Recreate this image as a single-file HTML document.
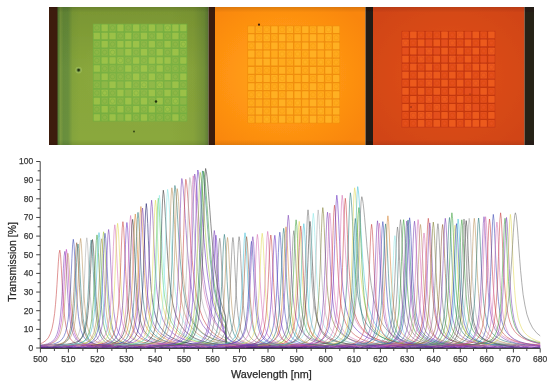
<!DOCTYPE html>
<html><head><meta charset="utf-8"><style>
html,body{margin:0;padding:0;background:#fff;}
body{width:550px;height:387px;position:relative;overflow:hidden;}
.photo{position:absolute;left:49px;top:7px;display:block;}
.chart{position:absolute;left:0;top:147px;display:block;}
</style></head><body>
<svg class="photo" width="485" height="138" viewBox="49 7 485 138">
<defs>
<linearGradient id="gG" x1="0" x2="1" y1="0" y2="0">
 <stop offset="0" stop-color="#4c7632"/><stop offset="0.02" stop-color="#7a9a40"/><stop offset="0.04" stop-color="#688e3c"/><stop offset="0.07" stop-color="#6a903e"/>
 <stop offset="0.1" stop-color="#84a43c"/><stop offset="0.15" stop-color="#8aa83c"/><stop offset="0.75" stop-color="#8aa83c"/>
 <stop offset="0.9" stop-color="#86a23a"/><stop offset="0.97" stop-color="#74923a"/><stop offset="1" stop-color="#5e7a36"/></linearGradient>
<linearGradient id="gGv" x1="0" x2="0" y1="0" y2="1">
 <stop offset="0" stop-color="#203000" stop-opacity="0.16"/><stop offset="0.45" stop-color="#203000" stop-opacity="0.02"/><stop offset="1" stop-color="#203000" stop-opacity="0"/></linearGradient>
<radialGradient id="gGr" cx="0.5" cy="0.5" r="0.5">
 <stop offset="0" stop-color="#d8f080" stop-opacity="0.08"/><stop offset="1" stop-color="#d8f080" stop-opacity="0"/></radialGradient>
<filter id="bl" x="-0.01" y="-0.01" width="1.02" height="1.02"><feGaussianBlur stdDeviation="0.7"/></filter>
<radialGradient id="gO" cx="0.45" cy="0.5" r="0.65">
 <stop offset="0" stop-color="#ffa818"/><stop offset="0.55" stop-color="#ff9512"/><stop offset="1" stop-color="#f9860e"/></radialGradient>
<radialGradient id="gR" cx="0.5" cy="0.5" r="0.65">
 <stop offset="0" stop-color="#e2521a"/><stop offset="1" stop-color="#d04414"/></radialGradient>
<linearGradient id="vt" x1="0" x2="0" y1="0" y2="1">
 <stop offset="0" stop-color="#000" stop-opacity="0.12"/><stop offset="0.04" stop-color="#000" stop-opacity="0"/>
 <stop offset="0.96" stop-color="#000" stop-opacity="0"/><stop offset="1" stop-color="#000" stop-opacity="0.1"/></linearGradient>
</defs>
<g filter="url(#bl)">
<rect x="49" y="7" width="9" height="138" fill="#3e1c0e"/>
<rect x="57.5" y="7" width="151" height="138" fill="url(#gG)"/>
<rect x="57.5" y="7" width="151" height="138" fill="url(#gGv)"/>
<rect x="208.5" y="7" width="6.5" height="138" fill="#3a1c0e"/>
<rect x="215" y="7" width="150.5" height="138" fill="url(#gO)"/>
<rect x="365.5" y="7" width="7.5" height="138" fill="#231a12"/>
<rect x="373" y="7" width="151.5" height="138" fill="url(#gR)"/>
<rect x="524.5" y="7" width="9.5" height="138" fill="#282016"/>
<rect x="92.90" y="23.80" width="94.32" height="97.68" fill="#76ae40"/>
<rect x="93.70" y="24.60" width="6.26" height="6.54" rx="0.6" fill="#8cb644"/>
<circle cx="96.83" cy="27.87" r="2.2" fill="none" stroke="#70aa3e" stroke-width="0.8" opacity="0.55"/>
<rect x="101.56" y="24.60" width="6.26" height="6.54" rx="0.6" fill="#9ac046"/>
<rect x="109.42" y="24.60" width="6.26" height="6.54" rx="0.6" fill="#8cb644"/>
<circle cx="112.55" cy="27.87" r="2.2" fill="none" stroke="#70aa3e" stroke-width="0.8" opacity="0.55"/>
<rect x="117.28" y="24.60" width="6.26" height="6.54" rx="0.6" fill="#9ac046"/>
<rect x="125.14" y="24.60" width="6.26" height="6.54" rx="0.6" fill="#8cb644"/>
<circle cx="128.27" cy="27.87" r="2.2" fill="none" stroke="#70aa3e" stroke-width="0.8" opacity="0.55"/>
<rect x="133.00" y="24.60" width="6.26" height="6.54" rx="0.6" fill="#9ac046"/>
<rect x="140.86" y="24.60" width="6.26" height="6.54" rx="0.6" fill="#8cb644"/>
<circle cx="143.99" cy="27.87" r="2.2" fill="none" stroke="#70aa3e" stroke-width="0.8" opacity="0.55"/>
<rect x="148.72" y="24.60" width="6.26" height="6.54" rx="0.6" fill="#9ac046"/>
<rect x="156.58" y="24.60" width="6.26" height="6.54" rx="0.6" fill="#8cb644"/>
<rect x="164.44" y="24.60" width="6.26" height="6.54" rx="0.6" fill="#9ac046"/>
<circle cx="167.57" cy="27.87" r="2.2" fill="none" stroke="#70aa3e" stroke-width="0.8" opacity="0.55"/>
<rect x="172.30" y="24.60" width="6.26" height="6.54" rx="0.6" fill="#9ac046"/>
<rect x="180.16" y="24.60" width="6.26" height="6.54" rx="0.6" fill="#9ac046"/>
<rect x="93.70" y="32.74" width="6.26" height="6.54" rx="0.6" fill="#9ac046"/>
<rect x="101.56" y="32.74" width="6.26" height="6.54" rx="0.6" fill="#9ac046"/>
<rect x="109.42" y="32.74" width="6.26" height="6.54" rx="0.6" fill="#9ac046"/>
<rect x="117.28" y="32.74" width="6.26" height="6.54" rx="0.6" fill="#8cb644"/>
<circle cx="120.41" cy="36.01" r="2.2" fill="none" stroke="#70aa3e" stroke-width="0.8" opacity="0.55"/>
<rect x="125.14" y="32.74" width="6.26" height="6.54" rx="0.6" fill="#9ac046"/>
<rect x="133.00" y="32.74" width="6.26" height="6.54" rx="0.6" fill="#8cb644"/>
<circle cx="136.13" cy="36.01" r="2.2" fill="none" stroke="#70aa3e" stroke-width="0.8" opacity="0.55"/>
<rect x="140.86" y="32.74" width="6.26" height="6.54" rx="0.6" fill="#9ac046"/>
<rect x="148.72" y="32.74" width="6.26" height="6.54" rx="0.6" fill="#8cb644"/>
<circle cx="151.85" cy="36.01" r="2.2" fill="none" stroke="#70aa3e" stroke-width="0.8" opacity="0.55"/>
<rect x="156.58" y="32.74" width="6.26" height="6.54" rx="0.6" fill="#9ac046"/>
<rect x="164.44" y="32.74" width="6.26" height="6.54" rx="0.6" fill="#8cb644"/>
<circle cx="167.57" cy="36.01" r="2.2" fill="none" stroke="#70aa3e" stroke-width="0.8" opacity="0.55"/>
<rect x="172.30" y="32.74" width="6.26" height="6.54" rx="0.6" fill="#9ac046"/>
<rect x="180.16" y="32.74" width="6.26" height="6.54" rx="0.6" fill="#8cb644"/>
<circle cx="183.29" cy="36.01" r="2.2" fill="none" stroke="#70aa3e" stroke-width="0.8" opacity="0.55"/>
<rect x="93.70" y="40.88" width="6.26" height="6.54" rx="0.6" fill="#8cb644"/>
<circle cx="96.83" cy="44.15" r="2.2" fill="none" stroke="#70aa3e" stroke-width="0.8" opacity="0.55"/>
<rect x="101.56" y="40.88" width="6.26" height="6.54" rx="0.6" fill="#9ac046"/>
<rect x="109.42" y="40.88" width="6.26" height="6.54" rx="0.6" fill="#8cb644"/>
<circle cx="112.55" cy="44.15" r="2.2" fill="none" stroke="#70aa3e" stroke-width="0.8" opacity="0.55"/>
<rect x="117.28" y="40.88" width="6.26" height="6.54" rx="0.6" fill="#9ac046"/>
<rect x="125.14" y="40.88" width="6.26" height="6.54" rx="0.6" fill="#9ac046"/>
<rect x="133.00" y="40.88" width="6.26" height="6.54" rx="0.6" fill="#9ac046"/>
<rect x="140.86" y="40.88" width="6.26" height="6.54" rx="0.6" fill="#8cb644"/>
<circle cx="143.99" cy="44.15" r="2.2" fill="none" stroke="#70aa3e" stroke-width="0.8" opacity="0.55"/>
<rect x="148.72" y="40.88" width="6.26" height="6.54" rx="0.6" fill="#9ac046"/>
<rect x="156.58" y="40.88" width="6.26" height="6.54" rx="0.6" fill="#8cb644"/>
<circle cx="159.71" cy="44.15" r="2.2" fill="none" stroke="#70aa3e" stroke-width="0.8" opacity="0.55"/>
<rect x="164.44" y="40.88" width="6.26" height="6.54" rx="0.6" fill="#9ac046"/>
<rect x="172.30" y="40.88" width="6.26" height="6.54" rx="0.6" fill="#8cb644"/>
<circle cx="175.43" cy="44.15" r="2.2" fill="none" stroke="#70aa3e" stroke-width="0.8" opacity="0.55"/>
<rect x="180.16" y="40.88" width="6.26" height="6.54" rx="0.6" fill="#9ac046"/>
<circle cx="183.29" cy="44.15" r="2.2" fill="none" stroke="#70aa3e" stroke-width="0.8" opacity="0.55"/>
<rect x="93.70" y="49.02" width="6.26" height="6.54" rx="0.6" fill="#8cb644"/>
<circle cx="96.83" cy="52.29" r="2.2" fill="none" stroke="#70aa3e" stroke-width="0.8" opacity="0.55"/>
<rect x="101.56" y="49.02" width="6.26" height="6.54" rx="0.6" fill="#8cb644"/>
<circle cx="104.69" cy="52.29" r="2.2" fill="none" stroke="#70aa3e" stroke-width="0.8" opacity="0.55"/>
<rect x="109.42" y="49.02" width="6.26" height="6.54" rx="0.6" fill="#9ac046"/>
<circle cx="112.55" cy="52.29" r="2.2" fill="none" stroke="#70aa3e" stroke-width="0.8" opacity="0.55"/>
<rect x="117.28" y="49.02" width="6.26" height="6.54" rx="0.6" fill="#8cb644"/>
<rect x="125.14" y="49.02" width="6.26" height="6.54" rx="0.6" fill="#9ac046"/>
<rect x="133.00" y="49.02" width="6.26" height="6.54" rx="0.6" fill="#8cb644"/>
<circle cx="136.13" cy="52.29" r="2.2" fill="none" stroke="#70aa3e" stroke-width="0.8" opacity="0.55"/>
<rect x="140.86" y="49.02" width="6.26" height="6.54" rx="0.6" fill="#9ac046"/>
<rect x="148.72" y="49.02" width="6.26" height="6.54" rx="0.6" fill="#8cb644"/>
<circle cx="151.85" cy="52.29" r="2.2" fill="none" stroke="#70aa3e" stroke-width="0.8" opacity="0.55"/>
<rect x="156.58" y="49.02" width="6.26" height="6.54" rx="0.6" fill="#9ac046"/>
<rect x="164.44" y="49.02" width="6.26" height="6.54" rx="0.6" fill="#8cb644"/>
<circle cx="167.57" cy="52.29" r="2.2" fill="none" stroke="#70aa3e" stroke-width="0.8" opacity="0.55"/>
<rect x="172.30" y="49.02" width="6.26" height="6.54" rx="0.6" fill="#9ac046"/>
<rect x="180.16" y="49.02" width="6.26" height="6.54" rx="0.6" fill="#8cb644"/>
<circle cx="183.29" cy="52.29" r="2.2" fill="none" stroke="#70aa3e" stroke-width="0.8" opacity="0.55"/>
<rect x="93.70" y="57.16" width="6.26" height="6.54" rx="0.6" fill="#8cb644"/>
<circle cx="96.83" cy="60.43" r="2.2" fill="none" stroke="#70aa3e" stroke-width="0.8" opacity="0.55"/>
<rect x="101.56" y="57.16" width="6.26" height="6.54" rx="0.6" fill="#9ac046"/>
<rect x="109.42" y="57.16" width="6.26" height="6.54" rx="0.6" fill="#9ac046"/>
<rect x="117.28" y="57.16" width="6.26" height="6.54" rx="0.6" fill="#9ac046"/>
<circle cx="120.41" cy="60.43" r="2.2" fill="none" stroke="#70aa3e" stroke-width="0.8" opacity="0.55"/>
<rect x="125.14" y="57.16" width="6.26" height="6.54" rx="0.6" fill="#8cb644"/>
<circle cx="128.27" cy="60.43" r="2.2" fill="none" stroke="#70aa3e" stroke-width="0.8" opacity="0.55"/>
<rect x="133.00" y="57.16" width="6.26" height="6.54" rx="0.6" fill="#9ac046"/>
<rect x="140.86" y="57.16" width="6.26" height="6.54" rx="0.6" fill="#8cb644"/>
<circle cx="143.99" cy="60.43" r="2.2" fill="none" stroke="#70aa3e" stroke-width="0.8" opacity="0.55"/>
<rect x="148.72" y="57.16" width="6.26" height="6.54" rx="0.6" fill="#9ac046"/>
<rect x="156.58" y="57.16" width="6.26" height="6.54" rx="0.6" fill="#9ac046"/>
<rect x="164.44" y="57.16" width="6.26" height="6.54" rx="0.6" fill="#9ac046"/>
<rect x="172.30" y="57.16" width="6.26" height="6.54" rx="0.6" fill="#8cb644"/>
<circle cx="175.43" cy="60.43" r="2.2" fill="none" stroke="#70aa3e" stroke-width="0.8" opacity="0.55"/>
<rect x="180.16" y="57.16" width="6.26" height="6.54" rx="0.6" fill="#9ac046"/>
<rect x="93.70" y="65.30" width="6.26" height="6.54" rx="0.6" fill="#9ac046"/>
<rect x="101.56" y="65.30" width="6.26" height="6.54" rx="0.6" fill="#8cb644"/>
<circle cx="104.69" cy="68.57" r="2.2" fill="none" stroke="#70aa3e" stroke-width="0.8" opacity="0.55"/>
<rect x="109.42" y="65.30" width="6.26" height="6.54" rx="0.6" fill="#8cb644"/>
<circle cx="112.55" cy="68.57" r="2.2" fill="none" stroke="#70aa3e" stroke-width="0.8" opacity="0.55"/>
<rect x="117.28" y="65.30" width="6.26" height="6.54" rx="0.6" fill="#8cb644"/>
<circle cx="120.41" cy="68.57" r="2.2" fill="none" stroke="#70aa3e" stroke-width="0.8" opacity="0.55"/>
<rect x="125.14" y="65.30" width="6.26" height="6.54" rx="0.6" fill="#9ac046"/>
<rect x="133.00" y="65.30" width="6.26" height="6.54" rx="0.6" fill="#8cb644"/>
<circle cx="136.13" cy="68.57" r="2.2" fill="none" stroke="#70aa3e" stroke-width="0.8" opacity="0.55"/>
<rect x="140.86" y="65.30" width="6.26" height="6.54" rx="0.6" fill="#9ac046"/>
<rect x="148.72" y="65.30" width="6.26" height="6.54" rx="0.6" fill="#8cb644"/>
<circle cx="151.85" cy="68.57" r="2.2" fill="none" stroke="#70aa3e" stroke-width="0.8" opacity="0.55"/>
<rect x="156.58" y="65.30" width="6.26" height="6.54" rx="0.6" fill="#9ac046"/>
<rect x="164.44" y="65.30" width="6.26" height="6.54" rx="0.6" fill="#8cb644"/>
<circle cx="167.57" cy="68.57" r="2.2" fill="none" stroke="#70aa3e" stroke-width="0.8" opacity="0.55"/>
<rect x="172.30" y="65.30" width="6.26" height="6.54" rx="0.6" fill="#8cb644"/>
<circle cx="175.43" cy="68.57" r="2.2" fill="none" stroke="#70aa3e" stroke-width="0.8" opacity="0.55"/>
<rect x="180.16" y="65.30" width="6.26" height="6.54" rx="0.6" fill="#8cb644"/>
<circle cx="183.29" cy="68.57" r="2.2" fill="none" stroke="#70aa3e" stroke-width="0.8" opacity="0.55"/>
<rect x="93.70" y="73.44" width="6.26" height="6.54" rx="0.6" fill="#8cb644"/>
<rect x="101.56" y="73.44" width="6.26" height="6.54" rx="0.6" fill="#9ac046"/>
<rect x="109.42" y="73.44" width="6.26" height="6.54" rx="0.6" fill="#8cb644"/>
<circle cx="112.55" cy="76.71" r="2.2" fill="none" stroke="#70aa3e" stroke-width="0.8" opacity="0.55"/>
<rect x="117.28" y="73.44" width="6.26" height="6.54" rx="0.6" fill="#8cb644"/>
<circle cx="120.41" cy="76.71" r="2.2" fill="none" stroke="#70aa3e" stroke-width="0.8" opacity="0.55"/>
<rect x="125.14" y="73.44" width="6.26" height="6.54" rx="0.6" fill="#8cb644"/>
<circle cx="128.27" cy="76.71" r="2.2" fill="none" stroke="#70aa3e" stroke-width="0.8" opacity="0.55"/>
<rect x="133.00" y="73.44" width="6.26" height="6.54" rx="0.6" fill="#9ac046"/>
<rect x="140.86" y="73.44" width="6.26" height="6.54" rx="0.6" fill="#8cb644"/>
<circle cx="143.99" cy="76.71" r="2.2" fill="none" stroke="#70aa3e" stroke-width="0.8" opacity="0.55"/>
<rect x="148.72" y="73.44" width="6.26" height="6.54" rx="0.6" fill="#9ac046"/>
<rect x="156.58" y="73.44" width="6.26" height="6.54" rx="0.6" fill="#8cb644"/>
<circle cx="159.71" cy="76.71" r="2.2" fill="none" stroke="#70aa3e" stroke-width="0.8" opacity="0.55"/>
<rect x="164.44" y="73.44" width="6.26" height="6.54" rx="0.6" fill="#9ac046"/>
<rect x="172.30" y="73.44" width="6.26" height="6.54" rx="0.6" fill="#8cb644"/>
<circle cx="175.43" cy="76.71" r="2.2" fill="none" stroke="#70aa3e" stroke-width="0.8" opacity="0.55"/>
<rect x="180.16" y="73.44" width="6.26" height="6.54" rx="0.6" fill="#9ac046"/>
<rect x="93.70" y="81.58" width="6.26" height="6.54" rx="0.6" fill="#8cb644"/>
<circle cx="96.83" cy="84.85" r="2.2" fill="none" stroke="#70aa3e" stroke-width="0.8" opacity="0.55"/>
<rect x="101.56" y="81.58" width="6.26" height="6.54" rx="0.6" fill="#8cb644"/>
<rect x="109.42" y="81.58" width="6.26" height="6.54" rx="0.6" fill="#9ac046"/>
<rect x="117.28" y="81.58" width="6.26" height="6.54" rx="0.6" fill="#8cb644"/>
<rect x="125.14" y="81.58" width="6.26" height="6.54" rx="0.6" fill="#9ac046"/>
<rect x="133.00" y="81.58" width="6.26" height="6.54" rx="0.6" fill="#8cb644"/>
<circle cx="136.13" cy="84.85" r="2.2" fill="none" stroke="#70aa3e" stroke-width="0.8" opacity="0.55"/>
<rect x="140.86" y="81.58" width="6.26" height="6.54" rx="0.6" fill="#9ac046"/>
<circle cx="143.99" cy="84.85" r="2.2" fill="none" stroke="#70aa3e" stroke-width="0.8" opacity="0.55"/>
<rect x="148.72" y="81.58" width="6.26" height="6.54" rx="0.6" fill="#8cb644"/>
<rect x="156.58" y="81.58" width="6.26" height="6.54" rx="0.6" fill="#9ac046"/>
<circle cx="159.71" cy="84.85" r="2.2" fill="none" stroke="#70aa3e" stroke-width="0.8" opacity="0.55"/>
<rect x="164.44" y="81.58" width="6.26" height="6.54" rx="0.6" fill="#8cb644"/>
<rect x="172.30" y="81.58" width="6.26" height="6.54" rx="0.6" fill="#9ac046"/>
<rect x="180.16" y="81.58" width="6.26" height="6.54" rx="0.6" fill="#8cb644"/>
<circle cx="183.29" cy="84.85" r="2.2" fill="none" stroke="#70aa3e" stroke-width="0.8" opacity="0.55"/>
<rect x="93.70" y="89.72" width="6.26" height="6.54" rx="0.6" fill="#8cb644"/>
<circle cx="96.83" cy="92.99" r="2.2" fill="none" stroke="#70aa3e" stroke-width="0.8" opacity="0.55"/>
<rect x="101.56" y="89.72" width="6.26" height="6.54" rx="0.6" fill="#9ac046"/>
<circle cx="104.69" cy="92.99" r="2.2" fill="none" stroke="#70aa3e" stroke-width="0.8" opacity="0.55"/>
<rect x="109.42" y="89.72" width="6.26" height="6.54" rx="0.6" fill="#8cb644"/>
<circle cx="112.55" cy="92.99" r="2.2" fill="none" stroke="#70aa3e" stroke-width="0.8" opacity="0.55"/>
<rect x="117.28" y="89.72" width="6.26" height="6.54" rx="0.6" fill="#9ac046"/>
<rect x="125.14" y="89.72" width="6.26" height="6.54" rx="0.6" fill="#8cb644"/>
<rect x="133.00" y="89.72" width="6.26" height="6.54" rx="0.6" fill="#9ac046"/>
<circle cx="136.13" cy="92.99" r="2.2" fill="none" stroke="#70aa3e" stroke-width="0.8" opacity="0.55"/>
<rect x="140.86" y="89.72" width="6.26" height="6.54" rx="0.6" fill="#8cb644"/>
<circle cx="143.99" cy="92.99" r="2.2" fill="none" stroke="#70aa3e" stroke-width="0.8" opacity="0.55"/>
<rect x="148.72" y="89.72" width="6.26" height="6.54" rx="0.6" fill="#9ac046"/>
<rect x="156.58" y="89.72" width="6.26" height="6.54" rx="0.6" fill="#8cb644"/>
<circle cx="159.71" cy="92.99" r="2.2" fill="none" stroke="#70aa3e" stroke-width="0.8" opacity="0.55"/>
<rect x="164.44" y="89.72" width="6.26" height="6.54" rx="0.6" fill="#9ac046"/>
<rect x="172.30" y="89.72" width="6.26" height="6.54" rx="0.6" fill="#8cb644"/>
<circle cx="175.43" cy="92.99" r="2.2" fill="none" stroke="#70aa3e" stroke-width="0.8" opacity="0.55"/>
<rect x="180.16" y="89.72" width="6.26" height="6.54" rx="0.6" fill="#9ac046"/>
<rect x="93.70" y="97.86" width="6.26" height="6.54" rx="0.6" fill="#9ac046"/>
<rect x="101.56" y="97.86" width="6.26" height="6.54" rx="0.6" fill="#8cb644"/>
<circle cx="104.69" cy="101.13" r="2.2" fill="none" stroke="#70aa3e" stroke-width="0.8" opacity="0.55"/>
<rect x="109.42" y="97.86" width="6.26" height="6.54" rx="0.6" fill="#9ac046"/>
<circle cx="112.55" cy="101.13" r="2.2" fill="none" stroke="#70aa3e" stroke-width="0.8" opacity="0.55"/>
<rect x="117.28" y="97.86" width="6.26" height="6.54" rx="0.6" fill="#8cb644"/>
<circle cx="120.41" cy="101.13" r="2.2" fill="none" stroke="#70aa3e" stroke-width="0.8" opacity="0.55"/>
<rect x="125.14" y="97.86" width="6.26" height="6.54" rx="0.6" fill="#9ac046"/>
<rect x="133.00" y="97.86" width="6.26" height="6.54" rx="0.6" fill="#8cb644"/>
<circle cx="136.13" cy="101.13" r="2.2" fill="none" stroke="#70aa3e" stroke-width="0.8" opacity="0.55"/>
<rect x="140.86" y="97.86" width="6.26" height="6.54" rx="0.6" fill="#9ac046"/>
<rect x="148.72" y="97.86" width="6.26" height="6.54" rx="0.6" fill="#8cb644"/>
<circle cx="151.85" cy="101.13" r="2.2" fill="none" stroke="#70aa3e" stroke-width="0.8" opacity="0.55"/>
<rect x="156.58" y="97.86" width="6.26" height="6.54" rx="0.6" fill="#9ac046"/>
<rect x="164.44" y="97.86" width="6.26" height="6.54" rx="0.6" fill="#8cb644"/>
<circle cx="167.57" cy="101.13" r="2.2" fill="none" stroke="#70aa3e" stroke-width="0.8" opacity="0.55"/>
<rect x="172.30" y="97.86" width="6.26" height="6.54" rx="0.6" fill="#9ac046"/>
<circle cx="175.43" cy="101.13" r="2.2" fill="none" stroke="#70aa3e" stroke-width="0.8" opacity="0.55"/>
<rect x="180.16" y="97.86" width="6.26" height="6.54" rx="0.6" fill="#8cb644"/>
<rect x="93.70" y="106.00" width="6.26" height="6.54" rx="0.6" fill="#8cb644"/>
<circle cx="96.83" cy="109.27" r="2.2" fill="none" stroke="#70aa3e" stroke-width="0.8" opacity="0.55"/>
<rect x="101.56" y="106.00" width="6.26" height="6.54" rx="0.6" fill="#9ac046"/>
<rect x="109.42" y="106.00" width="6.26" height="6.54" rx="0.6" fill="#8cb644"/>
<circle cx="112.55" cy="109.27" r="2.2" fill="none" stroke="#70aa3e" stroke-width="0.8" opacity="0.55"/>
<rect x="117.28" y="106.00" width="6.26" height="6.54" rx="0.6" fill="#9ac046"/>
<rect x="125.14" y="106.00" width="6.26" height="6.54" rx="0.6" fill="#8cb644"/>
<circle cx="128.27" cy="109.27" r="2.2" fill="none" stroke="#70aa3e" stroke-width="0.8" opacity="0.55"/>
<rect x="133.00" y="106.00" width="6.26" height="6.54" rx="0.6" fill="#9ac046"/>
<rect x="140.86" y="106.00" width="6.26" height="6.54" rx="0.6" fill="#8cb644"/>
<circle cx="143.99" cy="109.27" r="2.2" fill="none" stroke="#70aa3e" stroke-width="0.8" opacity="0.55"/>
<rect x="148.72" y="106.00" width="6.26" height="6.54" rx="0.6" fill="#9ac046"/>
<rect x="156.58" y="106.00" width="6.26" height="6.54" rx="0.6" fill="#8cb644"/>
<circle cx="159.71" cy="109.27" r="2.2" fill="none" stroke="#70aa3e" stroke-width="0.8" opacity="0.55"/>
<rect x="164.44" y="106.00" width="6.26" height="6.54" rx="0.6" fill="#9ac046"/>
<circle cx="167.57" cy="109.27" r="2.2" fill="none" stroke="#70aa3e" stroke-width="0.8" opacity="0.55"/>
<rect x="172.30" y="106.00" width="6.26" height="6.54" rx="0.6" fill="#8cb644"/>
<rect x="180.16" y="106.00" width="6.26" height="6.54" rx="0.6" fill="#8cb644"/>
<circle cx="183.29" cy="109.27" r="2.2" fill="none" stroke="#70aa3e" stroke-width="0.8" opacity="0.55"/>
<rect x="93.70" y="114.14" width="6.26" height="6.54" rx="0.6" fill="#9ac046"/>
<rect x="101.56" y="114.14" width="6.26" height="6.54" rx="0.6" fill="#8cb644"/>
<circle cx="104.69" cy="117.41" r="2.2" fill="none" stroke="#70aa3e" stroke-width="0.8" opacity="0.55"/>
<rect x="109.42" y="114.14" width="6.26" height="6.54" rx="0.6" fill="#9ac046"/>
<rect x="117.28" y="114.14" width="6.26" height="6.54" rx="0.6" fill="#8cb644"/>
<rect x="125.14" y="114.14" width="6.26" height="6.54" rx="0.6" fill="#9ac046"/>
<rect x="133.00" y="114.14" width="6.26" height="6.54" rx="0.6" fill="#8cb644"/>
<circle cx="136.13" cy="117.41" r="2.2" fill="none" stroke="#70aa3e" stroke-width="0.8" opacity="0.55"/>
<rect x="140.86" y="114.14" width="6.26" height="6.54" rx="0.6" fill="#9ac046"/>
<rect x="148.72" y="114.14" width="6.26" height="6.54" rx="0.6" fill="#8cb644"/>
<circle cx="151.85" cy="117.41" r="2.2" fill="none" stroke="#70aa3e" stroke-width="0.8" opacity="0.55"/>
<rect x="156.58" y="114.14" width="6.26" height="6.54" rx="0.6" fill="#8cb644"/>
<circle cx="159.71" cy="117.41" r="2.2" fill="none" stroke="#70aa3e" stroke-width="0.8" opacity="0.55"/>
<rect x="164.44" y="114.14" width="6.26" height="6.54" rx="0.6" fill="#8cb644"/>
<circle cx="167.57" cy="117.41" r="2.2" fill="none" stroke="#70aa3e" stroke-width="0.8" opacity="0.55"/>
<rect x="172.30" y="114.14" width="6.26" height="6.54" rx="0.6" fill="#9ac046"/>
<rect x="180.16" y="114.14" width="6.26" height="6.54" rx="0.6" fill="#8cb644"/>
<circle cx="183.29" cy="117.41" r="2.2" fill="none" stroke="#70aa3e" stroke-width="0.8" opacity="0.55"/>
<rect x="80" y="15" width="120" height="115" fill="url(#gGr)"/>
<rect x="247.40" y="25.50" width="92.64" height="97.80" fill="#f08e10"/>
<rect x="248.05" y="26.15" width="6.42" height="6.85" rx="0.6" fill="#ffaa1c"/>
<rect x="255.77" y="26.15" width="6.42" height="6.85" rx="0.6" fill="#ffaa1c"/>
<circle cx="258.98" cy="29.57" r="2.2" fill="none" stroke="#f69c14" stroke-width="0.8" opacity="0.55"/>
<rect x="263.49" y="26.15" width="6.42" height="6.85" rx="0.6" fill="#ffaa1c"/>
<circle cx="266.70" cy="29.57" r="2.2" fill="none" stroke="#f69c14" stroke-width="0.8" opacity="0.55"/>
<rect x="271.21" y="26.15" width="6.42" height="6.85" rx="0.6" fill="#ffb020"/>
<rect x="278.93" y="26.15" width="6.42" height="6.85" rx="0.6" fill="#ffaa1c"/>
<circle cx="282.14" cy="29.57" r="2.2" fill="none" stroke="#f69c14" stroke-width="0.8" opacity="0.55"/>
<rect x="286.65" y="26.15" width="6.42" height="6.85" rx="0.6" fill="#ffb020"/>
<circle cx="289.86" cy="29.57" r="2.2" fill="none" stroke="#f69c14" stroke-width="0.8" opacity="0.55"/>
<rect x="294.37" y="26.15" width="6.42" height="6.85" rx="0.6" fill="#ffaa1c"/>
<circle cx="297.58" cy="29.57" r="2.2" fill="none" stroke="#f69c14" stroke-width="0.8" opacity="0.55"/>
<rect x="302.09" y="26.15" width="6.42" height="6.85" rx="0.6" fill="#ffb020"/>
<rect x="309.81" y="26.15" width="6.42" height="6.85" rx="0.6" fill="#ffaa1c"/>
<circle cx="313.02" cy="29.57" r="2.2" fill="none" stroke="#f69c14" stroke-width="0.8" opacity="0.55"/>
<rect x="317.53" y="26.15" width="6.42" height="6.85" rx="0.6" fill="#ffb020"/>
<rect x="325.25" y="26.15" width="6.42" height="6.85" rx="0.6" fill="#ffb020"/>
<circle cx="328.46" cy="29.57" r="2.2" fill="none" stroke="#f69c14" stroke-width="0.8" opacity="0.55"/>
<rect x="332.97" y="26.15" width="6.42" height="6.85" rx="0.6" fill="#ffb020"/>
<rect x="248.05" y="34.30" width="6.42" height="6.85" rx="0.6" fill="#ffb020"/>
<rect x="255.77" y="34.30" width="6.42" height="6.85" rx="0.6" fill="#ffaa1c"/>
<circle cx="258.98" cy="37.73" r="2.2" fill="none" stroke="#f69c14" stroke-width="0.8" opacity="0.55"/>
<rect x="263.49" y="34.30" width="6.42" height="6.85" rx="0.6" fill="#ffb020"/>
<circle cx="266.70" cy="37.73" r="2.2" fill="none" stroke="#f69c14" stroke-width="0.8" opacity="0.55"/>
<rect x="271.21" y="34.30" width="6.42" height="6.85" rx="0.6" fill="#ffaa1c"/>
<circle cx="274.42" cy="37.73" r="2.2" fill="none" stroke="#f69c14" stroke-width="0.8" opacity="0.55"/>
<rect x="278.93" y="34.30" width="6.42" height="6.85" rx="0.6" fill="#ffb020"/>
<rect x="286.65" y="34.30" width="6.42" height="6.85" rx="0.6" fill="#ffaa1c"/>
<circle cx="289.86" cy="37.73" r="2.2" fill="none" stroke="#f69c14" stroke-width="0.8" opacity="0.55"/>
<rect x="294.37" y="34.30" width="6.42" height="6.85" rx="0.6" fill="#ffb020"/>
<rect x="302.09" y="34.30" width="6.42" height="6.85" rx="0.6" fill="#ffaa1c"/>
<rect x="309.81" y="34.30" width="6.42" height="6.85" rx="0.6" fill="#ffb020"/>
<rect x="317.53" y="34.30" width="6.42" height="6.85" rx="0.6" fill="#ffaa1c"/>
<rect x="325.25" y="34.30" width="6.42" height="6.85" rx="0.6" fill="#ffb020"/>
<circle cx="328.46" cy="37.73" r="2.2" fill="none" stroke="#f69c14" stroke-width="0.8" opacity="0.55"/>
<rect x="332.97" y="34.30" width="6.42" height="6.85" rx="0.6" fill="#ffaa1c"/>
<circle cx="336.18" cy="37.73" r="2.2" fill="none" stroke="#f69c14" stroke-width="0.8" opacity="0.55"/>
<rect x="248.05" y="42.45" width="6.42" height="6.85" rx="0.6" fill="#ffaa1c"/>
<circle cx="251.26" cy="45.88" r="2.2" fill="none" stroke="#f69c14" stroke-width="0.8" opacity="0.55"/>
<rect x="255.77" y="42.45" width="6.42" height="6.85" rx="0.6" fill="#ffb020"/>
<rect x="263.49" y="42.45" width="6.42" height="6.85" rx="0.6" fill="#ffaa1c"/>
<circle cx="266.70" cy="45.88" r="2.2" fill="none" stroke="#f69c14" stroke-width="0.8" opacity="0.55"/>
<rect x="271.21" y="42.45" width="6.42" height="6.85" rx="0.6" fill="#ffb020"/>
<rect x="278.93" y="42.45" width="6.42" height="6.85" rx="0.6" fill="#ffaa1c"/>
<circle cx="282.14" cy="45.88" r="2.2" fill="none" stroke="#f69c14" stroke-width="0.8" opacity="0.55"/>
<rect x="286.65" y="42.45" width="6.42" height="6.85" rx="0.6" fill="#ffb020"/>
<rect x="294.37" y="42.45" width="6.42" height="6.85" rx="0.6" fill="#ffaa1c"/>
<circle cx="297.58" cy="45.88" r="2.2" fill="none" stroke="#f69c14" stroke-width="0.8" opacity="0.55"/>
<rect x="302.09" y="42.45" width="6.42" height="6.85" rx="0.6" fill="#ffb020"/>
<rect x="309.81" y="42.45" width="6.42" height="6.85" rx="0.6" fill="#ffaa1c"/>
<circle cx="313.02" cy="45.88" r="2.2" fill="none" stroke="#f69c14" stroke-width="0.8" opacity="0.55"/>
<rect x="317.53" y="42.45" width="6.42" height="6.85" rx="0.6" fill="#ffb020"/>
<rect x="325.25" y="42.45" width="6.42" height="6.85" rx="0.6" fill="#ffaa1c"/>
<circle cx="328.46" cy="45.88" r="2.2" fill="none" stroke="#f69c14" stroke-width="0.8" opacity="0.55"/>
<rect x="332.97" y="42.45" width="6.42" height="6.85" rx="0.6" fill="#ffb020"/>
<rect x="248.05" y="50.60" width="6.42" height="6.85" rx="0.6" fill="#ffb020"/>
<rect x="255.77" y="50.60" width="6.42" height="6.85" rx="0.6" fill="#ffaa1c"/>
<circle cx="258.98" cy="54.03" r="2.2" fill="none" stroke="#f69c14" stroke-width="0.8" opacity="0.55"/>
<rect x="263.49" y="50.60" width="6.42" height="6.85" rx="0.6" fill="#ffb020"/>
<rect x="271.21" y="50.60" width="6.42" height="6.85" rx="0.6" fill="#ffaa1c"/>
<rect x="278.93" y="50.60" width="6.42" height="6.85" rx="0.6" fill="#ffb020"/>
<circle cx="282.14" cy="54.03" r="2.2" fill="none" stroke="#f69c14" stroke-width="0.8" opacity="0.55"/>
<rect x="286.65" y="50.60" width="6.42" height="6.85" rx="0.6" fill="#ffaa1c"/>
<circle cx="289.86" cy="54.03" r="2.2" fill="none" stroke="#f69c14" stroke-width="0.8" opacity="0.55"/>
<rect x="294.37" y="50.60" width="6.42" height="6.85" rx="0.6" fill="#ffb020"/>
<circle cx="297.58" cy="54.03" r="2.2" fill="none" stroke="#f69c14" stroke-width="0.8" opacity="0.55"/>
<rect x="302.09" y="50.60" width="6.42" height="6.85" rx="0.6" fill="#ffaa1c"/>
<circle cx="305.30" cy="54.03" r="2.2" fill="none" stroke="#f69c14" stroke-width="0.8" opacity="0.55"/>
<rect x="309.81" y="50.60" width="6.42" height="6.85" rx="0.6" fill="#ffb020"/>
<rect x="317.53" y="50.60" width="6.42" height="6.85" rx="0.6" fill="#ffaa1c"/>
<rect x="325.25" y="50.60" width="6.42" height="6.85" rx="0.6" fill="#ffb020"/>
<rect x="332.97" y="50.60" width="6.42" height="6.85" rx="0.6" fill="#ffaa1c"/>
<circle cx="336.18" cy="54.03" r="2.2" fill="none" stroke="#f69c14" stroke-width="0.8" opacity="0.55"/>
<rect x="248.05" y="58.75" width="6.42" height="6.85" rx="0.6" fill="#ffaa1c"/>
<rect x="255.77" y="58.75" width="6.42" height="6.85" rx="0.6" fill="#ffb020"/>
<rect x="263.49" y="58.75" width="6.42" height="6.85" rx="0.6" fill="#ffb020"/>
<rect x="271.21" y="58.75" width="6.42" height="6.85" rx="0.6" fill="#ffb020"/>
<rect x="278.93" y="58.75" width="6.42" height="6.85" rx="0.6" fill="#ffaa1c"/>
<rect x="286.65" y="58.75" width="6.42" height="6.85" rx="0.6" fill="#ffaa1c"/>
<circle cx="289.86" cy="62.18" r="2.2" fill="none" stroke="#f69c14" stroke-width="0.8" opacity="0.55"/>
<rect x="294.37" y="58.75" width="6.42" height="6.85" rx="0.6" fill="#ffb020"/>
<rect x="302.09" y="58.75" width="6.42" height="6.85" rx="0.6" fill="#ffb020"/>
<circle cx="305.30" cy="62.18" r="2.2" fill="none" stroke="#f69c14" stroke-width="0.8" opacity="0.55"/>
<rect x="309.81" y="58.75" width="6.42" height="6.85" rx="0.6" fill="#ffaa1c"/>
<circle cx="313.02" cy="62.18" r="2.2" fill="none" stroke="#f69c14" stroke-width="0.8" opacity="0.55"/>
<rect x="317.53" y="58.75" width="6.42" height="6.85" rx="0.6" fill="#ffb020"/>
<circle cx="320.74" cy="62.18" r="2.2" fill="none" stroke="#f69c14" stroke-width="0.8" opacity="0.55"/>
<rect x="325.25" y="58.75" width="6.42" height="6.85" rx="0.6" fill="#ffaa1c"/>
<circle cx="328.46" cy="62.18" r="2.2" fill="none" stroke="#f69c14" stroke-width="0.8" opacity="0.55"/>
<rect x="332.97" y="58.75" width="6.42" height="6.85" rx="0.6" fill="#ffaa1c"/>
<circle cx="336.18" cy="62.18" r="2.2" fill="none" stroke="#f69c14" stroke-width="0.8" opacity="0.55"/>
<rect x="248.05" y="66.90" width="6.42" height="6.85" rx="0.6" fill="#ffb020"/>
<rect x="255.77" y="66.90" width="6.42" height="6.85" rx="0.6" fill="#ffaa1c"/>
<circle cx="258.98" cy="70.33" r="2.2" fill="none" stroke="#f69c14" stroke-width="0.8" opacity="0.55"/>
<rect x="263.49" y="66.90" width="6.42" height="6.85" rx="0.6" fill="#ffaa1c"/>
<circle cx="266.70" cy="70.33" r="2.2" fill="none" stroke="#f69c14" stroke-width="0.8" opacity="0.55"/>
<rect x="271.21" y="66.90" width="6.42" height="6.85" rx="0.6" fill="#ffaa1c"/>
<circle cx="274.42" cy="70.33" r="2.2" fill="none" stroke="#f69c14" stroke-width="0.8" opacity="0.55"/>
<rect x="278.93" y="66.90" width="6.42" height="6.85" rx="0.6" fill="#ffb020"/>
<rect x="286.65" y="66.90" width="6.42" height="6.85" rx="0.6" fill="#ffaa1c"/>
<circle cx="289.86" cy="70.33" r="2.2" fill="none" stroke="#f69c14" stroke-width="0.8" opacity="0.55"/>
<rect x="294.37" y="66.90" width="6.42" height="6.85" rx="0.6" fill="#ffb020"/>
<rect x="302.09" y="66.90" width="6.42" height="6.85" rx="0.6" fill="#ffaa1c"/>
<circle cx="305.30" cy="70.33" r="2.2" fill="none" stroke="#f69c14" stroke-width="0.8" opacity="0.55"/>
<rect x="309.81" y="66.90" width="6.42" height="6.85" rx="0.6" fill="#ffb020"/>
<rect x="317.53" y="66.90" width="6.42" height="6.85" rx="0.6" fill="#ffaa1c"/>
<circle cx="320.74" cy="70.33" r="2.2" fill="none" stroke="#f69c14" stroke-width="0.8" opacity="0.55"/>
<rect x="325.25" y="66.90" width="6.42" height="6.85" rx="0.6" fill="#ffb020"/>
<rect x="332.97" y="66.90" width="6.42" height="6.85" rx="0.6" fill="#ffaa1c"/>
<circle cx="336.18" cy="70.33" r="2.2" fill="none" stroke="#f69c14" stroke-width="0.8" opacity="0.55"/>
<rect x="248.05" y="75.05" width="6.42" height="6.85" rx="0.6" fill="#ffaa1c"/>
<circle cx="251.26" cy="78.48" r="2.2" fill="none" stroke="#f69c14" stroke-width="0.8" opacity="0.55"/>
<rect x="255.77" y="75.05" width="6.42" height="6.85" rx="0.6" fill="#ffb020"/>
<rect x="263.49" y="75.05" width="6.42" height="6.85" rx="0.6" fill="#ffb020"/>
<rect x="271.21" y="75.05" width="6.42" height="6.85" rx="0.6" fill="#ffb020"/>
<circle cx="274.42" cy="78.48" r="2.2" fill="none" stroke="#f69c14" stroke-width="0.8" opacity="0.55"/>
<rect x="278.93" y="75.05" width="6.42" height="6.85" rx="0.6" fill="#ffb020"/>
<circle cx="282.14" cy="78.48" r="2.2" fill="none" stroke="#f69c14" stroke-width="0.8" opacity="0.55"/>
<rect x="286.65" y="75.05" width="6.42" height="6.85" rx="0.6" fill="#ffb020"/>
<rect x="294.37" y="75.05" width="6.42" height="6.85" rx="0.6" fill="#ffaa1c"/>
<rect x="302.09" y="75.05" width="6.42" height="6.85" rx="0.6" fill="#ffb020"/>
<rect x="309.81" y="75.05" width="6.42" height="6.85" rx="0.6" fill="#ffaa1c"/>
<circle cx="313.02" cy="78.48" r="2.2" fill="none" stroke="#f69c14" stroke-width="0.8" opacity="0.55"/>
<rect x="317.53" y="75.05" width="6.42" height="6.85" rx="0.6" fill="#ffb020"/>
<rect x="325.25" y="75.05" width="6.42" height="6.85" rx="0.6" fill="#ffaa1c"/>
<circle cx="328.46" cy="78.48" r="2.2" fill="none" stroke="#f69c14" stroke-width="0.8" opacity="0.55"/>
<rect x="332.97" y="75.05" width="6.42" height="6.85" rx="0.6" fill="#ffb020"/>
<rect x="248.05" y="83.20" width="6.42" height="6.85" rx="0.6" fill="#ffb020"/>
<rect x="255.77" y="83.20" width="6.42" height="6.85" rx="0.6" fill="#ffb020"/>
<circle cx="258.98" cy="86.63" r="2.2" fill="none" stroke="#f69c14" stroke-width="0.8" opacity="0.55"/>
<rect x="263.49" y="83.20" width="6.42" height="6.85" rx="0.6" fill="#ffb020"/>
<circle cx="266.70" cy="86.63" r="2.2" fill="none" stroke="#f69c14" stroke-width="0.8" opacity="0.55"/>
<rect x="271.21" y="83.20" width="6.42" height="6.85" rx="0.6" fill="#ffaa1c"/>
<circle cx="274.42" cy="86.63" r="2.2" fill="none" stroke="#f69c14" stroke-width="0.8" opacity="0.55"/>
<rect x="278.93" y="83.20" width="6.42" height="6.85" rx="0.6" fill="#ffb020"/>
<circle cx="282.14" cy="86.63" r="2.2" fill="none" stroke="#f69c14" stroke-width="0.8" opacity="0.55"/>
<rect x="286.65" y="83.20" width="6.42" height="6.85" rx="0.6" fill="#ffaa1c"/>
<circle cx="289.86" cy="86.63" r="2.2" fill="none" stroke="#f69c14" stroke-width="0.8" opacity="0.55"/>
<rect x="294.37" y="83.20" width="6.42" height="6.85" rx="0.6" fill="#ffb020"/>
<rect x="302.09" y="83.20" width="6.42" height="6.85" rx="0.6" fill="#ffaa1c"/>
<circle cx="305.30" cy="86.63" r="2.2" fill="none" stroke="#f69c14" stroke-width="0.8" opacity="0.55"/>
<rect x="309.81" y="83.20" width="6.42" height="6.85" rx="0.6" fill="#ffb020"/>
<rect x="317.53" y="83.20" width="6.42" height="6.85" rx="0.6" fill="#ffaa1c"/>
<circle cx="320.74" cy="86.63" r="2.2" fill="none" stroke="#f69c14" stroke-width="0.8" opacity="0.55"/>
<rect x="325.25" y="83.20" width="6.42" height="6.85" rx="0.6" fill="#ffb020"/>
<rect x="332.97" y="83.20" width="6.42" height="6.85" rx="0.6" fill="#ffaa1c"/>
<circle cx="336.18" cy="86.63" r="2.2" fill="none" stroke="#f69c14" stroke-width="0.8" opacity="0.55"/>
<rect x="248.05" y="91.35" width="6.42" height="6.85" rx="0.6" fill="#ffaa1c"/>
<circle cx="251.26" cy="94.78" r="2.2" fill="none" stroke="#f69c14" stroke-width="0.8" opacity="0.55"/>
<rect x="255.77" y="91.35" width="6.42" height="6.85" rx="0.6" fill="#ffb020"/>
<circle cx="258.98" cy="94.78" r="2.2" fill="none" stroke="#f69c14" stroke-width="0.8" opacity="0.55"/>
<rect x="263.49" y="91.35" width="6.42" height="6.85" rx="0.6" fill="#ffaa1c"/>
<circle cx="266.70" cy="94.78" r="2.2" fill="none" stroke="#f69c14" stroke-width="0.8" opacity="0.55"/>
<rect x="271.21" y="91.35" width="6.42" height="6.85" rx="0.6" fill="#ffb020"/>
<rect x="278.93" y="91.35" width="6.42" height="6.85" rx="0.6" fill="#ffaa1c"/>
<circle cx="282.14" cy="94.78" r="2.2" fill="none" stroke="#f69c14" stroke-width="0.8" opacity="0.55"/>
<rect x="286.65" y="91.35" width="6.42" height="6.85" rx="0.6" fill="#ffb020"/>
<rect x="294.37" y="91.35" width="6.42" height="6.85" rx="0.6" fill="#ffb020"/>
<rect x="302.09" y="91.35" width="6.42" height="6.85" rx="0.6" fill="#ffb020"/>
<rect x="309.81" y="91.35" width="6.42" height="6.85" rx="0.6" fill="#ffaa1c"/>
<circle cx="313.02" cy="94.78" r="2.2" fill="none" stroke="#f69c14" stroke-width="0.8" opacity="0.55"/>
<rect x="317.53" y="91.35" width="6.42" height="6.85" rx="0.6" fill="#ffaa1c"/>
<circle cx="320.74" cy="94.78" r="2.2" fill="none" stroke="#f69c14" stroke-width="0.8" opacity="0.55"/>
<rect x="325.25" y="91.35" width="6.42" height="6.85" rx="0.6" fill="#ffaa1c"/>
<circle cx="328.46" cy="94.78" r="2.2" fill="none" stroke="#f69c14" stroke-width="0.8" opacity="0.55"/>
<rect x="332.97" y="91.35" width="6.42" height="6.85" rx="0.6" fill="#ffb020"/>
<rect x="248.05" y="99.50" width="6.42" height="6.85" rx="0.6" fill="#ffaa1c"/>
<circle cx="251.26" cy="102.93" r="2.2" fill="none" stroke="#f69c14" stroke-width="0.8" opacity="0.55"/>
<rect x="255.77" y="99.50" width="6.42" height="6.85" rx="0.6" fill="#ffaa1c"/>
<rect x="263.49" y="99.50" width="6.42" height="6.85" rx="0.6" fill="#ffaa1c"/>
<circle cx="266.70" cy="102.93" r="2.2" fill="none" stroke="#f69c14" stroke-width="0.8" opacity="0.55"/>
<rect x="271.21" y="99.50" width="6.42" height="6.85" rx="0.6" fill="#ffaa1c"/>
<circle cx="274.42" cy="102.93" r="2.2" fill="none" stroke="#f69c14" stroke-width="0.8" opacity="0.55"/>
<rect x="278.93" y="99.50" width="6.42" height="6.85" rx="0.6" fill="#ffb020"/>
<rect x="286.65" y="99.50" width="6.42" height="6.85" rx="0.6" fill="#ffaa1c"/>
<circle cx="289.86" cy="102.93" r="2.2" fill="none" stroke="#f69c14" stroke-width="0.8" opacity="0.55"/>
<rect x="294.37" y="99.50" width="6.42" height="6.85" rx="0.6" fill="#ffb020"/>
<circle cx="297.58" cy="102.93" r="2.2" fill="none" stroke="#f69c14" stroke-width="0.8" opacity="0.55"/>
<rect x="302.09" y="99.50" width="6.42" height="6.85" rx="0.6" fill="#ffaa1c"/>
<rect x="309.81" y="99.50" width="6.42" height="6.85" rx="0.6" fill="#ffb020"/>
<rect x="317.53" y="99.50" width="6.42" height="6.85" rx="0.6" fill="#ffaa1c"/>
<circle cx="320.74" cy="102.93" r="2.2" fill="none" stroke="#f69c14" stroke-width="0.8" opacity="0.55"/>
<rect x="325.25" y="99.50" width="6.42" height="6.85" rx="0.6" fill="#ffb020"/>
<rect x="332.97" y="99.50" width="6.42" height="6.85" rx="0.6" fill="#ffaa1c"/>
<circle cx="336.18" cy="102.93" r="2.2" fill="none" stroke="#f69c14" stroke-width="0.8" opacity="0.55"/>
<rect x="248.05" y="107.65" width="6.42" height="6.85" rx="0.6" fill="#ffaa1c"/>
<circle cx="251.26" cy="111.08" r="2.2" fill="none" stroke="#f69c14" stroke-width="0.8" opacity="0.55"/>
<rect x="255.77" y="107.65" width="6.42" height="6.85" rx="0.6" fill="#ffb020"/>
<rect x="263.49" y="107.65" width="6.42" height="6.85" rx="0.6" fill="#ffaa1c"/>
<circle cx="266.70" cy="111.08" r="2.2" fill="none" stroke="#f69c14" stroke-width="0.8" opacity="0.55"/>
<rect x="271.21" y="107.65" width="6.42" height="6.85" rx="0.6" fill="#ffb020"/>
<rect x="278.93" y="107.65" width="6.42" height="6.85" rx="0.6" fill="#ffaa1c"/>
<circle cx="282.14" cy="111.08" r="2.2" fill="none" stroke="#f69c14" stroke-width="0.8" opacity="0.55"/>
<rect x="286.65" y="107.65" width="6.42" height="6.85" rx="0.6" fill="#ffb020"/>
<rect x="294.37" y="107.65" width="6.42" height="6.85" rx="0.6" fill="#ffaa1c"/>
<circle cx="297.58" cy="111.08" r="2.2" fill="none" stroke="#f69c14" stroke-width="0.8" opacity="0.55"/>
<rect x="302.09" y="107.65" width="6.42" height="6.85" rx="0.6" fill="#ffb020"/>
<rect x="309.81" y="107.65" width="6.42" height="6.85" rx="0.6" fill="#ffaa1c"/>
<circle cx="313.02" cy="111.08" r="2.2" fill="none" stroke="#f69c14" stroke-width="0.8" opacity="0.55"/>
<rect x="317.53" y="107.65" width="6.42" height="6.85" rx="0.6" fill="#ffb020"/>
<circle cx="320.74" cy="111.08" r="2.2" fill="none" stroke="#f69c14" stroke-width="0.8" opacity="0.55"/>
<rect x="325.25" y="107.65" width="6.42" height="6.85" rx="0.6" fill="#ffaa1c"/>
<rect x="332.97" y="107.65" width="6.42" height="6.85" rx="0.6" fill="#ffb020"/>
<rect x="248.05" y="115.80" width="6.42" height="6.85" rx="0.6" fill="#ffaa1c"/>
<circle cx="251.26" cy="119.23" r="2.2" fill="none" stroke="#f69c14" stroke-width="0.8" opacity="0.55"/>
<rect x="255.77" y="115.80" width="6.42" height="6.85" rx="0.6" fill="#ffaa1c"/>
<rect x="263.49" y="115.80" width="6.42" height="6.85" rx="0.6" fill="#ffb020"/>
<circle cx="266.70" cy="119.23" r="2.2" fill="none" stroke="#f69c14" stroke-width="0.8" opacity="0.55"/>
<rect x="271.21" y="115.80" width="6.42" height="6.85" rx="0.6" fill="#ffaa1c"/>
<circle cx="274.42" cy="119.23" r="2.2" fill="none" stroke="#f69c14" stroke-width="0.8" opacity="0.55"/>
<rect x="278.93" y="115.80" width="6.42" height="6.85" rx="0.6" fill="#ffb020"/>
<rect x="286.65" y="115.80" width="6.42" height="6.85" rx="0.6" fill="#ffaa1c"/>
<circle cx="289.86" cy="119.23" r="2.2" fill="none" stroke="#f69c14" stroke-width="0.8" opacity="0.55"/>
<rect x="294.37" y="115.80" width="6.42" height="6.85" rx="0.6" fill="#ffb020"/>
<rect x="302.09" y="115.80" width="6.42" height="6.85" rx="0.6" fill="#ffaa1c"/>
<circle cx="305.30" cy="119.23" r="2.2" fill="none" stroke="#f69c14" stroke-width="0.8" opacity="0.55"/>
<rect x="309.81" y="115.80" width="6.42" height="6.85" rx="0.6" fill="#ffb020"/>
<rect x="317.53" y="115.80" width="6.42" height="6.85" rx="0.6" fill="#ffaa1c"/>
<circle cx="320.74" cy="119.23" r="2.2" fill="none" stroke="#f69c14" stroke-width="0.8" opacity="0.55"/>
<rect x="325.25" y="115.80" width="6.42" height="6.85" rx="0.6" fill="#ffb020"/>
<rect x="332.97" y="115.80" width="6.42" height="6.85" rx="0.6" fill="#ffaa1c"/>
<circle cx="336.18" cy="119.23" r="2.2" fill="none" stroke="#f69c14" stroke-width="0.8" opacity="0.55"/>
<rect x="401.60" y="30.90" width="93.72" height="96.60" fill="#c43810"/>
<rect x="402.25" y="31.55" width="6.51" height="6.75" rx="0.6" fill="#e4501a"/>
<circle cx="405.50" cy="34.92" r="2.2" fill="none" stroke="#d84816" stroke-width="0.8" opacity="0.55"/>
<rect x="410.06" y="31.55" width="6.51" height="6.75" rx="0.6" fill="#ec5a1e"/>
<rect x="417.87" y="31.55" width="6.51" height="6.75" rx="0.6" fill="#e4501a"/>
<circle cx="421.12" cy="34.92" r="2.2" fill="none" stroke="#d84816" stroke-width="0.8" opacity="0.55"/>
<rect x="425.68" y="31.55" width="6.51" height="6.75" rx="0.6" fill="#e4501a"/>
<circle cx="428.94" cy="34.92" r="2.2" fill="none" stroke="#d84816" stroke-width="0.8" opacity="0.55"/>
<rect x="433.49" y="31.55" width="6.51" height="6.75" rx="0.6" fill="#e4501a"/>
<circle cx="436.75" cy="34.92" r="2.2" fill="none" stroke="#d84816" stroke-width="0.8" opacity="0.55"/>
<rect x="441.30" y="31.55" width="6.51" height="6.75" rx="0.6" fill="#ec5a1e"/>
<rect x="449.11" y="31.55" width="6.51" height="6.75" rx="0.6" fill="#e4501a"/>
<circle cx="452.37" cy="34.92" r="2.2" fill="none" stroke="#d84816" stroke-width="0.8" opacity="0.55"/>
<rect x="456.92" y="31.55" width="6.51" height="6.75" rx="0.6" fill="#ec5a1e"/>
<circle cx="460.18" cy="34.92" r="2.2" fill="none" stroke="#d84816" stroke-width="0.8" opacity="0.55"/>
<rect x="464.73" y="31.55" width="6.51" height="6.75" rx="0.6" fill="#e4501a"/>
<rect x="472.54" y="31.55" width="6.51" height="6.75" rx="0.6" fill="#ec5a1e"/>
<rect x="480.35" y="31.55" width="6.51" height="6.75" rx="0.6" fill="#e4501a"/>
<circle cx="483.61" cy="34.92" r="2.2" fill="none" stroke="#d84816" stroke-width="0.8" opacity="0.55"/>
<rect x="488.16" y="31.55" width="6.51" height="6.75" rx="0.6" fill="#ec5a1e"/>
<rect x="402.25" y="39.60" width="6.51" height="6.75" rx="0.6" fill="#ec5a1e"/>
<circle cx="405.50" cy="42.98" r="2.2" fill="none" stroke="#d84816" stroke-width="0.8" opacity="0.55"/>
<rect x="410.06" y="39.60" width="6.51" height="6.75" rx="0.6" fill="#e4501a"/>
<circle cx="413.31" cy="42.98" r="2.2" fill="none" stroke="#d84816" stroke-width="0.8" opacity="0.55"/>
<rect x="417.87" y="39.60" width="6.51" height="6.75" rx="0.6" fill="#ec5a1e"/>
<rect x="425.68" y="39.60" width="6.51" height="6.75" rx="0.6" fill="#e4501a"/>
<rect x="433.49" y="39.60" width="6.51" height="6.75" rx="0.6" fill="#ec5a1e"/>
<rect x="441.30" y="39.60" width="6.51" height="6.75" rx="0.6" fill="#e4501a"/>
<rect x="449.11" y="39.60" width="6.51" height="6.75" rx="0.6" fill="#ec5a1e"/>
<circle cx="452.37" cy="42.98" r="2.2" fill="none" stroke="#d84816" stroke-width="0.8" opacity="0.55"/>
<rect x="456.92" y="39.60" width="6.51" height="6.75" rx="0.6" fill="#e4501a"/>
<circle cx="460.18" cy="42.98" r="2.2" fill="none" stroke="#d84816" stroke-width="0.8" opacity="0.55"/>
<rect x="464.73" y="39.60" width="6.51" height="6.75" rx="0.6" fill="#ec5a1e"/>
<rect x="472.54" y="39.60" width="6.51" height="6.75" rx="0.6" fill="#e4501a"/>
<circle cx="475.79" cy="42.98" r="2.2" fill="none" stroke="#d84816" stroke-width="0.8" opacity="0.55"/>
<rect x="480.35" y="39.60" width="6.51" height="6.75" rx="0.6" fill="#ec5a1e"/>
<rect x="488.16" y="39.60" width="6.51" height="6.75" rx="0.6" fill="#e4501a"/>
<circle cx="491.41" cy="42.98" r="2.2" fill="none" stroke="#d84816" stroke-width="0.8" opacity="0.55"/>
<rect x="402.25" y="47.65" width="6.51" height="6.75" rx="0.6" fill="#e4501a"/>
<rect x="410.06" y="47.65" width="6.51" height="6.75" rx="0.6" fill="#ec5a1e"/>
<rect x="417.87" y="47.65" width="6.51" height="6.75" rx="0.6" fill="#e4501a"/>
<rect x="425.68" y="47.65" width="6.51" height="6.75" rx="0.6" fill="#ec5a1e"/>
<circle cx="428.94" cy="51.02" r="2.2" fill="none" stroke="#d84816" stroke-width="0.8" opacity="0.55"/>
<rect x="433.49" y="47.65" width="6.51" height="6.75" rx="0.6" fill="#e4501a"/>
<rect x="441.30" y="47.65" width="6.51" height="6.75" rx="0.6" fill="#ec5a1e"/>
<rect x="449.11" y="47.65" width="6.51" height="6.75" rx="0.6" fill="#e4501a"/>
<circle cx="452.37" cy="51.02" r="2.2" fill="none" stroke="#d84816" stroke-width="0.8" opacity="0.55"/>
<rect x="456.92" y="47.65" width="6.51" height="6.75" rx="0.6" fill="#ec5a1e"/>
<rect x="464.73" y="47.65" width="6.51" height="6.75" rx="0.6" fill="#e4501a"/>
<circle cx="467.99" cy="51.02" r="2.2" fill="none" stroke="#d84816" stroke-width="0.8" opacity="0.55"/>
<rect x="472.54" y="47.65" width="6.51" height="6.75" rx="0.6" fill="#ec5a1e"/>
<rect x="480.35" y="47.65" width="6.51" height="6.75" rx="0.6" fill="#e4501a"/>
<circle cx="483.61" cy="51.02" r="2.2" fill="none" stroke="#d84816" stroke-width="0.8" opacity="0.55"/>
<rect x="488.16" y="47.65" width="6.51" height="6.75" rx="0.6" fill="#ec5a1e"/>
<circle cx="491.41" cy="51.02" r="2.2" fill="none" stroke="#d84816" stroke-width="0.8" opacity="0.55"/>
<rect x="402.25" y="55.70" width="6.51" height="6.75" rx="0.6" fill="#ec5a1e"/>
<rect x="410.06" y="55.70" width="6.51" height="6.75" rx="0.6" fill="#e4501a"/>
<circle cx="413.31" cy="59.07" r="2.2" fill="none" stroke="#d84816" stroke-width="0.8" opacity="0.55"/>
<rect x="417.87" y="55.70" width="6.51" height="6.75" rx="0.6" fill="#ec5a1e"/>
<circle cx="421.12" cy="59.07" r="2.2" fill="none" stroke="#d84816" stroke-width="0.8" opacity="0.55"/>
<rect x="425.68" y="55.70" width="6.51" height="6.75" rx="0.6" fill="#e4501a"/>
<circle cx="428.94" cy="59.07" r="2.2" fill="none" stroke="#d84816" stroke-width="0.8" opacity="0.55"/>
<rect x="433.49" y="55.70" width="6.51" height="6.75" rx="0.6" fill="#ec5a1e"/>
<rect x="441.30" y="55.70" width="6.51" height="6.75" rx="0.6" fill="#e4501a"/>
<rect x="449.11" y="55.70" width="6.51" height="6.75" rx="0.6" fill="#ec5a1e"/>
<circle cx="452.37" cy="59.07" r="2.2" fill="none" stroke="#d84816" stroke-width="0.8" opacity="0.55"/>
<rect x="456.92" y="55.70" width="6.51" height="6.75" rx="0.6" fill="#e4501a"/>
<circle cx="460.18" cy="59.07" r="2.2" fill="none" stroke="#d84816" stroke-width="0.8" opacity="0.55"/>
<rect x="464.73" y="55.70" width="6.51" height="6.75" rx="0.6" fill="#ec5a1e"/>
<rect x="472.54" y="55.70" width="6.51" height="6.75" rx="0.6" fill="#e4501a"/>
<circle cx="475.79" cy="59.07" r="2.2" fill="none" stroke="#d84816" stroke-width="0.8" opacity="0.55"/>
<rect x="480.35" y="55.70" width="6.51" height="6.75" rx="0.6" fill="#e4501a"/>
<rect x="488.16" y="55.70" width="6.51" height="6.75" rx="0.6" fill="#e4501a"/>
<rect x="402.25" y="63.75" width="6.51" height="6.75" rx="0.6" fill="#e4501a"/>
<circle cx="405.50" cy="67.12" r="2.2" fill="none" stroke="#d84816" stroke-width="0.8" opacity="0.55"/>
<rect x="410.06" y="63.75" width="6.51" height="6.75" rx="0.6" fill="#ec5a1e"/>
<rect x="417.87" y="63.75" width="6.51" height="6.75" rx="0.6" fill="#e4501a"/>
<circle cx="421.12" cy="67.12" r="2.2" fill="none" stroke="#d84816" stroke-width="0.8" opacity="0.55"/>
<rect x="425.68" y="63.75" width="6.51" height="6.75" rx="0.6" fill="#ec5a1e"/>
<rect x="433.49" y="63.75" width="6.51" height="6.75" rx="0.6" fill="#e4501a"/>
<circle cx="436.75" cy="67.12" r="2.2" fill="none" stroke="#d84816" stroke-width="0.8" opacity="0.55"/>
<rect x="441.30" y="63.75" width="6.51" height="6.75" rx="0.6" fill="#ec5a1e"/>
<rect x="449.11" y="63.75" width="6.51" height="6.75" rx="0.6" fill="#e4501a"/>
<circle cx="452.37" cy="67.12" r="2.2" fill="none" stroke="#d84816" stroke-width="0.8" opacity="0.55"/>
<rect x="456.92" y="63.75" width="6.51" height="6.75" rx="0.6" fill="#ec5a1e"/>
<rect x="464.73" y="63.75" width="6.51" height="6.75" rx="0.6" fill="#e4501a"/>
<circle cx="467.99" cy="67.12" r="2.2" fill="none" stroke="#d84816" stroke-width="0.8" opacity="0.55"/>
<rect x="472.54" y="63.75" width="6.51" height="6.75" rx="0.6" fill="#ec5a1e"/>
<rect x="480.35" y="63.75" width="6.51" height="6.75" rx="0.6" fill="#ec5a1e"/>
<rect x="488.16" y="63.75" width="6.51" height="6.75" rx="0.6" fill="#ec5a1e"/>
<circle cx="491.41" cy="67.12" r="2.2" fill="none" stroke="#d84816" stroke-width="0.8" opacity="0.55"/>
<rect x="402.25" y="71.80" width="6.51" height="6.75" rx="0.6" fill="#ec5a1e"/>
<rect x="410.06" y="71.80" width="6.51" height="6.75" rx="0.6" fill="#e4501a"/>
<circle cx="413.31" cy="75.18" r="2.2" fill="none" stroke="#d84816" stroke-width="0.8" opacity="0.55"/>
<rect x="417.87" y="71.80" width="6.51" height="6.75" rx="0.6" fill="#ec5a1e"/>
<rect x="425.68" y="71.80" width="6.51" height="6.75" rx="0.6" fill="#ec5a1e"/>
<circle cx="428.94" cy="75.18" r="2.2" fill="none" stroke="#d84816" stroke-width="0.8" opacity="0.55"/>
<rect x="433.49" y="71.80" width="6.51" height="6.75" rx="0.6" fill="#ec5a1e"/>
<rect x="441.30" y="71.80" width="6.51" height="6.75" rx="0.6" fill="#e4501a"/>
<circle cx="444.56" cy="75.18" r="2.2" fill="none" stroke="#d84816" stroke-width="0.8" opacity="0.55"/>
<rect x="449.11" y="71.80" width="6.51" height="6.75" rx="0.6" fill="#ec5a1e"/>
<rect x="456.92" y="71.80" width="6.51" height="6.75" rx="0.6" fill="#e4501a"/>
<circle cx="460.18" cy="75.18" r="2.2" fill="none" stroke="#d84816" stroke-width="0.8" opacity="0.55"/>
<rect x="464.73" y="71.80" width="6.51" height="6.75" rx="0.6" fill="#ec5a1e"/>
<rect x="472.54" y="71.80" width="6.51" height="6.75" rx="0.6" fill="#e4501a"/>
<circle cx="475.79" cy="75.18" r="2.2" fill="none" stroke="#d84816" stroke-width="0.8" opacity="0.55"/>
<rect x="480.35" y="71.80" width="6.51" height="6.75" rx="0.6" fill="#ec5a1e"/>
<circle cx="483.61" cy="75.18" r="2.2" fill="none" stroke="#d84816" stroke-width="0.8" opacity="0.55"/>
<rect x="488.16" y="71.80" width="6.51" height="6.75" rx="0.6" fill="#e4501a"/>
<circle cx="491.41" cy="75.18" r="2.2" fill="none" stroke="#d84816" stroke-width="0.8" opacity="0.55"/>
<rect x="402.25" y="79.85" width="6.51" height="6.75" rx="0.6" fill="#e4501a"/>
<circle cx="405.50" cy="83.23" r="2.2" fill="none" stroke="#d84816" stroke-width="0.8" opacity="0.55"/>
<rect x="410.06" y="79.85" width="6.51" height="6.75" rx="0.6" fill="#ec5a1e"/>
<rect x="417.87" y="79.85" width="6.51" height="6.75" rx="0.6" fill="#e4501a"/>
<circle cx="421.12" cy="83.23" r="2.2" fill="none" stroke="#d84816" stroke-width="0.8" opacity="0.55"/>
<rect x="425.68" y="79.85" width="6.51" height="6.75" rx="0.6" fill="#ec5a1e"/>
<circle cx="428.94" cy="83.23" r="2.2" fill="none" stroke="#d84816" stroke-width="0.8" opacity="0.55"/>
<rect x="433.49" y="79.85" width="6.51" height="6.75" rx="0.6" fill="#e4501a"/>
<circle cx="436.75" cy="83.23" r="2.2" fill="none" stroke="#d84816" stroke-width="0.8" opacity="0.55"/>
<rect x="441.30" y="79.85" width="6.51" height="6.75" rx="0.6" fill="#ec5a1e"/>
<rect x="449.11" y="79.85" width="6.51" height="6.75" rx="0.6" fill="#e4501a"/>
<circle cx="452.37" cy="83.23" r="2.2" fill="none" stroke="#d84816" stroke-width="0.8" opacity="0.55"/>
<rect x="456.92" y="79.85" width="6.51" height="6.75" rx="0.6" fill="#ec5a1e"/>
<rect x="464.73" y="79.85" width="6.51" height="6.75" rx="0.6" fill="#e4501a"/>
<circle cx="467.99" cy="83.23" r="2.2" fill="none" stroke="#d84816" stroke-width="0.8" opacity="0.55"/>
<rect x="472.54" y="79.85" width="6.51" height="6.75" rx="0.6" fill="#ec5a1e"/>
<circle cx="475.79" cy="83.23" r="2.2" fill="none" stroke="#d84816" stroke-width="0.8" opacity="0.55"/>
<rect x="480.35" y="79.85" width="6.51" height="6.75" rx="0.6" fill="#e4501a"/>
<circle cx="483.61" cy="83.23" r="2.2" fill="none" stroke="#d84816" stroke-width="0.8" opacity="0.55"/>
<rect x="488.16" y="79.85" width="6.51" height="6.75" rx="0.6" fill="#ec5a1e"/>
<rect x="402.25" y="87.90" width="6.51" height="6.75" rx="0.6" fill="#ec5a1e"/>
<rect x="410.06" y="87.90" width="6.51" height="6.75" rx="0.6" fill="#e4501a"/>
<circle cx="413.31" cy="91.28" r="2.2" fill="none" stroke="#d84816" stroke-width="0.8" opacity="0.55"/>
<rect x="417.87" y="87.90" width="6.51" height="6.75" rx="0.6" fill="#ec5a1e"/>
<rect x="425.68" y="87.90" width="6.51" height="6.75" rx="0.6" fill="#e4501a"/>
<circle cx="428.94" cy="91.28" r="2.2" fill="none" stroke="#d84816" stroke-width="0.8" opacity="0.55"/>
<rect x="433.49" y="87.90" width="6.51" height="6.75" rx="0.6" fill="#ec5a1e"/>
<rect x="441.30" y="87.90" width="6.51" height="6.75" rx="0.6" fill="#e4501a"/>
<circle cx="444.56" cy="91.28" r="2.2" fill="none" stroke="#d84816" stroke-width="0.8" opacity="0.55"/>
<rect x="449.11" y="87.90" width="6.51" height="6.75" rx="0.6" fill="#ec5a1e"/>
<rect x="456.92" y="87.90" width="6.51" height="6.75" rx="0.6" fill="#e4501a"/>
<circle cx="460.18" cy="91.28" r="2.2" fill="none" stroke="#d84816" stroke-width="0.8" opacity="0.55"/>
<rect x="464.73" y="87.90" width="6.51" height="6.75" rx="0.6" fill="#e4501a"/>
<rect x="472.54" y="87.90" width="6.51" height="6.75" rx="0.6" fill="#e4501a"/>
<rect x="480.35" y="87.90" width="6.51" height="6.75" rx="0.6" fill="#ec5a1e"/>
<rect x="488.16" y="87.90" width="6.51" height="6.75" rx="0.6" fill="#e4501a"/>
<circle cx="491.41" cy="91.28" r="2.2" fill="none" stroke="#d84816" stroke-width="0.8" opacity="0.55"/>
<rect x="402.25" y="95.95" width="6.51" height="6.75" rx="0.6" fill="#e4501a"/>
<circle cx="405.50" cy="99.33" r="2.2" fill="none" stroke="#d84816" stroke-width="0.8" opacity="0.55"/>
<rect x="410.06" y="95.95" width="6.51" height="6.75" rx="0.6" fill="#ec5a1e"/>
<rect x="417.87" y="95.95" width="6.51" height="6.75" rx="0.6" fill="#e4501a"/>
<circle cx="421.12" cy="99.33" r="2.2" fill="none" stroke="#d84816" stroke-width="0.8" opacity="0.55"/>
<rect x="425.68" y="95.95" width="6.51" height="6.75" rx="0.6" fill="#ec5a1e"/>
<circle cx="428.94" cy="99.33" r="2.2" fill="none" stroke="#d84816" stroke-width="0.8" opacity="0.55"/>
<rect x="433.49" y="95.95" width="6.51" height="6.75" rx="0.6" fill="#e4501a"/>
<circle cx="436.75" cy="99.33" r="2.2" fill="none" stroke="#d84816" stroke-width="0.8" opacity="0.55"/>
<rect x="441.30" y="95.95" width="6.51" height="6.75" rx="0.6" fill="#ec5a1e"/>
<circle cx="444.56" cy="99.33" r="2.2" fill="none" stroke="#d84816" stroke-width="0.8" opacity="0.55"/>
<rect x="449.11" y="95.95" width="6.51" height="6.75" rx="0.6" fill="#e4501a"/>
<circle cx="452.37" cy="99.33" r="2.2" fill="none" stroke="#d84816" stroke-width="0.8" opacity="0.55"/>
<rect x="456.92" y="95.95" width="6.51" height="6.75" rx="0.6" fill="#ec5a1e"/>
<rect x="464.73" y="95.95" width="6.51" height="6.75" rx="0.6" fill="#e4501a"/>
<circle cx="467.99" cy="99.33" r="2.2" fill="none" stroke="#d84816" stroke-width="0.8" opacity="0.55"/>
<rect x="472.54" y="95.95" width="6.51" height="6.75" rx="0.6" fill="#e4501a"/>
<circle cx="475.79" cy="99.33" r="2.2" fill="none" stroke="#d84816" stroke-width="0.8" opacity="0.55"/>
<rect x="480.35" y="95.95" width="6.51" height="6.75" rx="0.6" fill="#e4501a"/>
<circle cx="483.61" cy="99.33" r="2.2" fill="none" stroke="#d84816" stroke-width="0.8" opacity="0.55"/>
<rect x="488.16" y="95.95" width="6.51" height="6.75" rx="0.6" fill="#ec5a1e"/>
<rect x="402.25" y="104.00" width="6.51" height="6.75" rx="0.6" fill="#ec5a1e"/>
<rect x="410.06" y="104.00" width="6.51" height="6.75" rx="0.6" fill="#e4501a"/>
<circle cx="413.31" cy="107.38" r="2.2" fill="none" stroke="#d84816" stroke-width="0.8" opacity="0.55"/>
<rect x="417.87" y="104.00" width="6.51" height="6.75" rx="0.6" fill="#ec5a1e"/>
<rect x="425.68" y="104.00" width="6.51" height="6.75" rx="0.6" fill="#e4501a"/>
<circle cx="428.94" cy="107.38" r="2.2" fill="none" stroke="#d84816" stroke-width="0.8" opacity="0.55"/>
<rect x="433.49" y="104.00" width="6.51" height="6.75" rx="0.6" fill="#ec5a1e"/>
<circle cx="436.75" cy="107.38" r="2.2" fill="none" stroke="#d84816" stroke-width="0.8" opacity="0.55"/>
<rect x="441.30" y="104.00" width="6.51" height="6.75" rx="0.6" fill="#e4501a"/>
<circle cx="444.56" cy="107.38" r="2.2" fill="none" stroke="#d84816" stroke-width="0.8" opacity="0.55"/>
<rect x="449.11" y="104.00" width="6.51" height="6.75" rx="0.6" fill="#ec5a1e"/>
<rect x="456.92" y="104.00" width="6.51" height="6.75" rx="0.6" fill="#e4501a"/>
<circle cx="460.18" cy="107.38" r="2.2" fill="none" stroke="#d84816" stroke-width="0.8" opacity="0.55"/>
<rect x="464.73" y="104.00" width="6.51" height="6.75" rx="0.6" fill="#ec5a1e"/>
<circle cx="467.99" cy="107.38" r="2.2" fill="none" stroke="#d84816" stroke-width="0.8" opacity="0.55"/>
<rect x="472.54" y="104.00" width="6.51" height="6.75" rx="0.6" fill="#e4501a"/>
<rect x="480.35" y="104.00" width="6.51" height="6.75" rx="0.6" fill="#e4501a"/>
<circle cx="483.61" cy="107.38" r="2.2" fill="none" stroke="#d84816" stroke-width="0.8" opacity="0.55"/>
<rect x="488.16" y="104.00" width="6.51" height="6.75" rx="0.6" fill="#e4501a"/>
<circle cx="491.41" cy="107.38" r="2.2" fill="none" stroke="#d84816" stroke-width="0.8" opacity="0.55"/>
<rect x="402.25" y="112.05" width="6.51" height="6.75" rx="0.6" fill="#e4501a"/>
<circle cx="405.50" cy="115.43" r="2.2" fill="none" stroke="#d84816" stroke-width="0.8" opacity="0.55"/>
<rect x="410.06" y="112.05" width="6.51" height="6.75" rx="0.6" fill="#ec5a1e"/>
<circle cx="413.31" cy="115.43" r="2.2" fill="none" stroke="#d84816" stroke-width="0.8" opacity="0.55"/>
<rect x="417.87" y="112.05" width="6.51" height="6.75" rx="0.6" fill="#ec5a1e"/>
<circle cx="421.12" cy="115.43" r="2.2" fill="none" stroke="#d84816" stroke-width="0.8" opacity="0.55"/>
<rect x="425.68" y="112.05" width="6.51" height="6.75" rx="0.6" fill="#ec5a1e"/>
<circle cx="428.94" cy="115.43" r="2.2" fill="none" stroke="#d84816" stroke-width="0.8" opacity="0.55"/>
<rect x="433.49" y="112.05" width="6.51" height="6.75" rx="0.6" fill="#e4501a"/>
<rect x="441.30" y="112.05" width="6.51" height="6.75" rx="0.6" fill="#ec5a1e"/>
<rect x="449.11" y="112.05" width="6.51" height="6.75" rx="0.6" fill="#e4501a"/>
<circle cx="452.37" cy="115.43" r="2.2" fill="none" stroke="#d84816" stroke-width="0.8" opacity="0.55"/>
<rect x="456.92" y="112.05" width="6.51" height="6.75" rx="0.6" fill="#ec5a1e"/>
<rect x="464.73" y="112.05" width="6.51" height="6.75" rx="0.6" fill="#e4501a"/>
<circle cx="467.99" cy="115.43" r="2.2" fill="none" stroke="#d84816" stroke-width="0.8" opacity="0.55"/>
<rect x="472.54" y="112.05" width="6.51" height="6.75" rx="0.6" fill="#ec5a1e"/>
<rect x="480.35" y="112.05" width="6.51" height="6.75" rx="0.6" fill="#e4501a"/>
<circle cx="483.61" cy="115.43" r="2.2" fill="none" stroke="#d84816" stroke-width="0.8" opacity="0.55"/>
<rect x="488.16" y="112.05" width="6.51" height="6.75" rx="0.6" fill="#ec5a1e"/>
<rect x="402.25" y="120.10" width="6.51" height="6.75" rx="0.6" fill="#e4501a"/>
<circle cx="405.50" cy="123.48" r="2.2" fill="none" stroke="#d84816" stroke-width="0.8" opacity="0.55"/>
<rect x="410.06" y="120.10" width="6.51" height="6.75" rx="0.6" fill="#e4501a"/>
<circle cx="413.31" cy="123.48" r="2.2" fill="none" stroke="#d84816" stroke-width="0.8" opacity="0.55"/>
<rect x="417.87" y="120.10" width="6.51" height="6.75" rx="0.6" fill="#ec5a1e"/>
<rect x="425.68" y="120.10" width="6.51" height="6.75" rx="0.6" fill="#e4501a"/>
<circle cx="428.94" cy="123.48" r="2.2" fill="none" stroke="#d84816" stroke-width="0.8" opacity="0.55"/>
<rect x="433.49" y="120.10" width="6.51" height="6.75" rx="0.6" fill="#ec5a1e"/>
<rect x="441.30" y="120.10" width="6.51" height="6.75" rx="0.6" fill="#e4501a"/>
<circle cx="444.56" cy="123.48" r="2.2" fill="none" stroke="#d84816" stroke-width="0.8" opacity="0.55"/>
<rect x="449.11" y="120.10" width="6.51" height="6.75" rx="0.6" fill="#ec5a1e"/>
<rect x="456.92" y="120.10" width="6.51" height="6.75" rx="0.6" fill="#e4501a"/>
<circle cx="460.18" cy="123.48" r="2.2" fill="none" stroke="#d84816" stroke-width="0.8" opacity="0.55"/>
<rect x="464.73" y="120.10" width="6.51" height="6.75" rx="0.6" fill="#ec5a1e"/>
<rect x="472.54" y="120.10" width="6.51" height="6.75" rx="0.6" fill="#ec5a1e"/>
<rect x="480.35" y="120.10" width="6.51" height="6.75" rx="0.6" fill="#ec5a1e"/>
<rect x="488.16" y="120.10" width="6.51" height="6.75" rx="0.6" fill="#e4501a"/>
<circle cx="491.41" cy="123.48" r="2.2" fill="none" stroke="#d84816" stroke-width="0.8" opacity="0.55"/>
<rect x="49" y="7" width="485" height="138" fill="url(#vt)"/>
<circle cx="78.6" cy="70.1" r="3.4" fill="#b0cc70" opacity="0.45"/>
<circle cx="78.6" cy="70.1" r="2.2" fill="#5a8040" opacity="0.6"/>
<circle cx="78.6" cy="70.1" r="1.3" fill="#203010"/>
<circle cx="156.0" cy="101.5" r="1.2" fill="#203010"/>
<circle cx="134.0" cy="131.5" r="0.9" fill="#304018"/>
<circle cx="259.0" cy="24.7" r="1.1" fill="#402010"/>
<circle cx="411.0" cy="107.0" r="0.7" fill="#702010"/>
<circle cx="470.0" cy="94.0" r="0.6" fill="#702010"/>
</g></svg>
<svg class="chart" width="550" height="240" viewBox="0 147 550 240">
<defs><filter id="cb" x="0" y="0" width="1" height="1"><feGaussianBlur stdDeviation="0.2"/></filter></defs>
<g fill="none" stroke-width="0.85" stroke-opacity="0.66" stroke-linejoin="round" filter="url(#cb)">
<path d="M40.4,343.7l2.2,-.9l3.1,-2.1l2.6,-2.9l2,-4l1.7,-5.3l1.4,-6.8l1.2,-8.1l.9,-9.2l.8,-9.6l.7,-10.4l.7,-11.5l.7,-11.1l.7,-8.4l.7,-3.2l.7,4.3l.7,10.9l.7,13.4l.7,12.8l.7,10.7l.8,9.4l.9,8.4l1.2,7.1l1.3,5.6l1.8,4.2l2,3.1l2.6,2.3l3.1,1.5l3.8,1.1l4.6,.7l5.6,.5l6.8,.4l1.5,0" stroke="#c84141"/>
<path d="M40.4,345.2l3.4,-.5l3.8,-.9l3.1,-1.3l2.6,-1.9l2,-2.7l1.7,-3.7l1.4,-4.9l1.2,-6.4l.9,-7.8l.8,-8.8l.7,-10.6l.7,-13l.7,-14.3l.7,-12.1l.7,-4.9l.7,4.2l.7,10.7l.7,13.1l.7,12.6l.7,10.5l.8,9.2l.9,8.2l1.2,7l1.3,5.5l1.8,4.1l2,3.1l2.6,2.2l3.1,1.5l3.8,1.1l4.6,.7l5.6,.5l6.8,.3l1.1,0" stroke="#7b3eb3"/>
<path d="M40.4,345.7l.4,0l4.6,-.7l3.8,-.9l3.1,-1.4l2.6,-1.9l2,-2.7l1.7,-3.8l1.4,-5.1l1.2,-6.5l.9,-8l.8,-9l.7,-10.9l.7,-13.3l.7,-14.6l.7,-12.5l.7,-5l.7,4.3l.7,11l.7,13.4l.7,12.9l.7,10.8l.8,9.4l.9,8.4l1.2,7.2l1.4,5.6l1.7,4.3l2,3.1l2.6,2.2l3.1,1.6l3.8,1.1l4.6,.7l5.6,.5l6.9,.4l1.5,0" stroke="#be38be"/>
<path d="M40.4,345.4l1.9,-.2l4.6,-.6l3.8,-.9l3.1,-1.3l2.6,-1.8l2,-2.7l1.7,-3.6l1.4,-4.8l1.2,-6.2l.9,-7.6l.8,-8.7l.7,-10.3l.7,-12.8l.7,-13.9l.7,-11.9l.7,-4.8l.7,4.1l.7,10.5l.7,12.8l.7,12.3l.7,10.3l.8,9l.9,8.1l1.2,6.8l1.4,5.3l1.7,4.1l2,3l2.6,2.1l3.1,1.5l3.8,1.1l4.6,.7l5.6,.5l6.9,.3l.6,0" stroke="#b9925a"/>
<path d="M40.4,345.5l1.7,-.1l5.6,-.4l4.6,-.7l3.8,-1.1l3.1,-1.4l2.6,-2.2l2,-3l1.7,-4.1l1.4,-5.6l1.2,-7.2l.9,-8.7l.8,-10l.7,-11.8l.7,-14.7l.7,-16l.7,-13.7l.7,-5.5l.7,4.7l.7,12.1l.7,14.7l.7,14.1l.7,11.9l.8,10.3l.9,9.3l1.2,7.8l1.3,6.2l1.8,4.7l2,3.4l2.6,2.5l3.1,1.7l3.8,1.2l4.6,.8l5.6,.6l6.8,.3l3.5,.2" stroke="#3944b4"/>
<path d="M40.4,347.0l5.1,-.3l5.6,-.5l4.6,-.6l3.8,-1l3.1,-1.5l2.6,-2.1l2,-2.9l1.8,-4.1l1.3,-5.4l1.2,-7.1l.9,-8.5l.8,-9.8l.7,-11.6l.7,-14.4l.7,-15.7l.7,-13.4l.7,-5.4l.7,4.7l.7,11.7l.7,14.5l.7,13.8l.7,11.7l.8,10.1l.9,9.1l1.2,7.6l1.4,6.1l1.7,4.6l2,3.4l2.6,2.4l3.1,1.6l3.8,1.2l4.6,.8l5.6,.5l6.9,.4l3,.1" stroke="#8e5634"/>
<path d="M40.4,347.1l6.4,-.3l5.6,-.4l4.6,-.7l3.8,-1l3.1,-1.4l2.6,-2.1l2,-2.9l1.7,-4l1.4,-5.4l1.2,-7l.9,-8.4l.8,-9.7l.7,-11.5l.7,-14.2l.7,-15.5l.7,-13.2l.7,-5.4l.7,4.6l.7,11.6l.7,14.4l.7,13.6l.7,11.5l.8,10l.9,9l1.2,7.6l1.4,6l1.7,4.5l2,3.4l2.6,2.3l3.1,1.7l3.8,1.1l4.6,.8l5.6,.6l6.8,.3l2.8,.1" stroke="#287676"/>
<path d="M42.2,345.3l.3,0l6.9,-.3l5.6,-.5l4.6,-.7l3.8,-1l3.1,-1.5l2.6,-2.2l2,-3l1.7,-4.2l1.4,-5.5l1.2,-7.2l.9,-8.8l.8,-10l.7,-11.9l.7,-14.7l.7,-16.1l.7,-13.7l.7,-5.5l.7,4.8l.7,12l.7,14.8l.7,14.2l.7,11.9l.8,10.3l.9,9.3l1.2,7.9l1.3,6.2l1.8,4.7l2,3.4l2.6,2.5l3.1,1.7l3.8,1.2l4.6,.8l5.6,.6l6.9,.4l3.5,.1" stroke="#b9925a"/>
<path d="M48.1,346.6l.7,0l6.8,-.4l5.6,-.5l4.6,-.7l3.8,-1l3.1,-1.5l2.6,-2.2l2,-3.1l1.7,-4.2l1.4,-5.7l1.2,-7.3l.9,-8.9l.8,-10.2l.7,-12.2l.7,-14.9l.7,-16.4l.7,-13.9l.7,-5.7l.7,4.9l.7,12.2l.7,15.1l.7,14.4l.7,12.2l.8,10.5l.9,9.5l1.2,8l1.3,6.3l1.8,4.8l2,3.5l2.6,2.5l3.1,1.8l3.8,1.2l4.6,.8l5.6,.6l6.8,.3l4,.2" stroke="#a8a8a8"/>
<path d="M52.9,346.6l.2,0l6.9,-.3l5.6,-.5l4.6,-.7l3.8,-1l3.1,-1.5l2.6,-2.1l2,-3l1.8,-4.2l1.3,-5.5l1.2,-7.2l.9,-8.8l.8,-10l.7,-11.9l.7,-14.6l.7,-16.1l.7,-13.7l.7,-5.5l.7,4.8l.7,12l.7,14.8l.7,14.1l.7,11.9l.8,10.3l.9,9.3l1.2,7.9l1.4,6.1l1.7,4.8l2,3.4l2.6,2.5l3.1,1.7l3.8,1.2l4.6,.8l5.6,.5l6.8,.4l3.5,.1" stroke="#287676"/>
<path d="M54.4,344.9l.1,0l6.8,-.3l5.6,-.5l4.6,-.6l3.8,-1.1l3.1,-1.4l2.6,-2.1l2,-3l1.8,-4.1l1.3,-5.5l1.2,-7.1l.9,-8.7l.8,-9.8l.7,-11.8l.7,-14.5l.7,-15.9l.7,-13.5l.7,-5.5l.7,4.7l.7,11.9l.7,14.6l.7,14l.7,11.8l.8,10.2l.9,9.2l1.2,7.7l1.3,6.1l1.8,4.7l2,3.4l2.6,2.4l3.1,1.7l3.8,1.2l4.6,.8l5.6,.5l6.9,.4l3.2,.1" stroke="#383838"/>
<path d="M57.8,346.1l1.2,0l6.8,-.4l5.6,-.5l4.6,-.7l3.8,-1l3.1,-1.6l2.6,-2.2l2,-3.2l1.7,-4.3l1.4,-5.8l1.2,-7.5l.9,-9.1l.8,-10.4l.7,-12.4l.7,-15.3l.7,-16.8l.7,-14.2l.7,-5.8l.7,5l.7,12.4l.7,15.4l.7,14.6l.7,12.4l.8,10.7l.9,9.6l1.2,8.2l1.4,6.4l1.7,4.9l2,3.6l2.6,2.7l3.1,1.8l3.8,1.3l4.6,.9l5.6,.6l6.9,.5l4.2,.1" stroke="#399e39"/>
<path d="M59.6,345.3l1.4,-.1l6.8,-.3l5.6,-.5l4.6,-.7l3.8,-1.1l3.1,-1.6l2.6,-2.2l2,-3.2l1.7,-4.4l1.4,-5.9l1.2,-7.6l.9,-9.2l.8,-10.6l.7,-12.5l.7,-15.5l.7,-17l.7,-14.4l.7,-5.9l.7,5l.7,12.5l.7,15.4l.7,14.7l.7,12.3l.8,10.8l.9,9.7l1.2,8.2l1.4,6.5l1.7,5l2,3.8l2.6,2.7l3.1,1.9l3.8,1.4l4.6,1.1l5.6,.7l6.9,.5l4.1,.2" stroke="#46c1d8"/>
<path d="M63.1,346.1l.4,0l6.9,-.3l5.6,-.5l4.6,-.7l3.8,-1l3.1,-1.5l2.6,-2.2l2,-3l1.7,-4.2l1.4,-5.6l1.2,-7.2l.9,-8.8l.8,-10.1l.7,-11.9l.7,-14.8l.7,-16.2l.7,-13.7l.7,-5.6l.7,4.8l.7,12.1l.7,14.9l.7,14.2l.7,12l.8,10.4l.9,9.3l1.2,7.9l1.3,6.2l1.8,4.8l2,3.4l2.6,2.5l3.1,1.7l3.8,1.2l4.6,.8l5.6,.6l6.9,.4l3.6,.1" stroke="#b9925a"/>
<path d="M64.0,345.7l1.5,0l6.9,-.4l5.6,-.5l4.6,-.7l3.8,-1.1l3.1,-1.6l2.6,-2.3l2,-3.2l1.7,-4.4l1.4,-6l1.2,-7.6l.9,-9.4l.8,-10.6l.7,-12.8l.7,-15.6l.7,-17.2l.7,-14.6l.7,-5.9l.7,5.1l.7,12.6l.7,15.5l.7,14.7l.7,12.5l.8,10.8l.9,9.8l1.2,8.3l1.3,6.6l1.8,5l2,3.8l2.6,2.8l3.1,2l3.8,1.5l4.6,1l5.6,.8l6.9,.6l4.2,.2" stroke="#a4c53f"/>
<path d="M65.4,346.8l1.6,0l6.8,-.4l5.6,-.5l4.6,-.7l3.8,-1.1l3.1,-1.6l2.6,-2.3l2,-3.2l1.7,-4.4l1.4,-5.9l1.2,-7.7l.9,-9.3l.8,-10.6l.7,-12.6l.7,-15.7l.7,-17.1l.7,-14.5l.7,-5.9l.7,5l.7,12.7l.7,15.6l.7,14.8l.7,12.5l.8,10.8l.9,9.8l1.2,8.3l1.4,6.6l1.7,5l2,3.8l2.6,2.7l3.1,1.9l3.8,1.4l4.6,1l5.6,.7l6.9,.5l4.4,.2" stroke="#3944b4"/>
<path d="M68.6,345.7l1.9,0l6.9,-.4l5.6,-.5l4.6,-.8l3.8,-1.1l3.1,-1.6l2.6,-2.3l2,-3.3l1.7,-4.5l1.4,-6.1l1.2,-7.8l.9,-9.5l.8,-10.9l.7,-13l.7,-16l.7,-17.5l.7,-14.9l.7,-6l.7,5.2l.7,12.7l.7,15.6l.7,14.9l.7,12.6l.8,10.9l.9,9.9l1.2,8.4l1.3,6.7l1.8,5.2l2,4l2.6,2.9l3.1,2.1l3.8,1.6l4.6,1.2l5.6,.9l6.9,.7l4.3,.3" stroke="#7b3eb3"/>
<path d="M74.0,345.2l2.8,-.1l6.8,-.3l5.6,-.6l4.6,-.8l3.8,-1.1l3.1,-1.7l2.6,-2.4l2,-3.4l1.7,-4.7l1.4,-6.3l1.2,-8.1l.9,-9.8l.8,-11.3l.7,-13.4l.7,-16.6l.7,-18.1l.7,-15.4l.7,-6.3l.7,5.3l.7,12.9l.7,15.8l.7,15.1l.7,12.7l.8,11.1l.9,10.1l1.2,8.6l1.3,7l1.8,5.4l2,4.2l2.6,3.2l3.1,2.4l3.8,1.9l4.6,1.5l5.6,1.1l6.8,.9l8.4,.7l.4,0" stroke="#d570b3"/>
<path d="M76.5,346.0l3,-.1l6.9,-.4l5.6,-.5l4.6,-.8l3.8,-1.2l3.1,-1.7l2.6,-2.5l2,-3.4l1.7,-4.8l1.4,-6.4l1.2,-8.3l.9,-10l.8,-11.5l.7,-13.7l.7,-16.8l.7,-18.5l.7,-15.7l.7,-6.4l.7,5.4l.7,13.1l.7,16l.7,15.2l.7,12.9l.8,11.2l.9,10.2l1.2,8.8l1.3,7l1.8,5.6l2,4.3l2.6,3.3l3.1,2.5l3.8,2l4.6,1.6l5.6,1.2l6.9,1l8.3,.7l3,.2" stroke="#e0da54"/>
<path d="M81.6,345.5l3.2,-.1l6.9,-.4l5.6,-.5l4.6,-.8l3.8,-1.2l3.1,-1.8l2.6,-2.4l2,-3.5l1.8,-4.9l1.3,-6.4l1.2,-8.3l.9,-10.2l.8,-11.6l.7,-13.8l.7,-17l.7,-18.6l.7,-15.9l.7,-6.4l.7,5.4l.7,13.1l.7,16l.7,15.3l.7,12.9l.8,11.2l.9,10.3l1.2,8.8l1.4,7.1l1.7,5.6l2,4.4l2.6,3.4l3.1,2.6l3.8,2.1l4.6,1.7l5.6,1.3l6.8,1l8.4,.8l5.3,.4" stroke="#c84141"/>
<path d="M85.7,345.7l3.1,-.2l6.9,-.3l5.6,-.6l4.6,-.8l3.8,-1.2l3.1,-1.7l2.6,-2.4l2,-3.5l1.8,-4.8l1.3,-6.4l1.2,-8.3l.9,-10.1l.8,-11.5l.7,-13.8l.7,-16.9l.7,-18.6l.7,-15.7l.7,-6.4l.7,5.4l.7,13.1l.7,16l.7,15.2l.7,12.9l.8,11.2l.9,10.3l1.2,8.7l1.4,7.1l1.7,5.6l2,4.3l2.6,3.3l3.1,2.6l3.8,2.1l4.6,1.6l5.6,1.3l6.8,1l8.4,.7l4.2,.3" stroke="#662ec0"/>
<path d="M88.0,347.0l4.5,-.1l6.9,-.4l5.6,-.6l4.6,-.9l3.8,-1.2l3.1,-1.9l2.6,-2.6l2,-3.7l1.7,-5.2l1.4,-6.8l1.2,-8.8l.9,-10.8l.8,-12.3l.7,-14.7l.7,-18l.7,-19.9l.7,-16.8l.7,-6.8l.7,5.8l.7,13.5l.7,16.4l.7,15.7l.7,13.3l.8,11.6l.9,10.6l1.2,9.2l1.3,7.5l1.8,6.1l2,4.8l2.6,3.9l3.1,3.1l3.8,2.5l4.6,2.1l5.6,1.7l6.9,1.4l8.3,1.1l10.2,.7l2.6,.2" stroke="#d570b3"/>
<path d="M90.9,345.5l3.6,-.2l6.9,-.3l5.6,-.6l4.6,-.8l3.8,-1.2l3.1,-1.8l2.6,-2.5l2,-3.6l1.7,-4.9l1.4,-6.5l1.2,-8.5l.9,-10.4l.8,-11.8l.7,-14l.7,-17.3l.7,-19l.7,-16.2l.7,-6.5l.7,5.5l.7,13.2l.7,16.1l.7,15.3l.7,13l.8,11.4l.9,10.3l1.2,8.9l1.3,7.2l1.8,5.8l2,4.5l2.6,3.6l3.1,2.8l3.8,2.2l4.6,1.8l5.6,1.5l6.9,1.2l8.3,.8l8.3,.6" stroke="#383838"/>
<path d="M92.7,345.8l4.5,-.1l6.9,-.4l5.6,-.6l4.6,-.9l3.8,-1.2l3.1,-1.9l2.6,-2.6l2,-3.7l1.7,-5.2l1.4,-6.8l1.2,-8.9l.9,-10.8l.8,-12.3l.7,-14.7l.7,-18.1l.7,-19.9l.7,-16.9l.7,-6.8l.7,5.8l.7,13.4l.7,16.3l.7,15.6l.7,13.3l.8,11.5l.9,10.6l1.2,9.2l1.4,7.5l1.7,6.2l2,4.8l2.6,3.9l3.1,3.2l3.8,2.6l4.6,2.2l5.6,1.8l6.8,1.5l8.4,1.1l10.2,.8l3.9,.2" stroke="#d58638"/>
<path d="M95.0,346.5l5,-.2l6.8,-.4l5.6,-.6l4.6,-.9l3.8,-1.2l3.1,-1.9l2.6,-2.7l2,-3.8l1.7,-5.2l1.4,-7l1.2,-9l.9,-11l.8,-12.5l.7,-15l.7,-18.4l.7,-20.2l.7,-17.1l.7,-7l.7,5.8l.7,13.6l.7,16.5l.7,15.7l.7,13.4l.8,11.6l.9,10.8l1.2,9.3l1.4,7.6l1.7,6.2l2,5l2.6,4.1l3.1,3.3l3.8,2.7l4.6,2.4l5.6,1.9l6.9,1.5l8.3,1.2l10.2,.9l5.5,.3" stroke="#287676"/>
<path d="M96.9,347.1l5.9,-.2l6.9,-.5l5.6,-.6l4.6,-.9l3.8,-1.3l3.1,-2l2.6,-2.8l2,-4l1.8,-5.5l1.3,-7.3l1.2,-9.4l.9,-11.5l.8,-13.2l.7,-15.6l.7,-19.4l.7,-21.1l.7,-18l.7,-7.3l.7,6.1l.7,13.8l.7,16.7l.7,16l.7,13.6l.8,11.9l.9,11l1.2,9.6l1.4,8l1.7,6.6l2,5.4l2.6,4.5l3.1,3.7l3.8,3.3l4.6,2.7l5.6,2.4l6.8,1.9l8.4,1.4l10.2,1.1l10.3,.6" stroke="#d58638"/>
<path d="M99.0,345.2l5.5,-.2l6.8,-.4l5.6,-.6l4.6,-.9l3.8,-1.3l3.1,-1.9l2.6,-2.8l2,-3.8l1.8,-5.4l1.3,-7.1l1.2,-9.3l.9,-11.2l.8,-12.8l.7,-15.3l.7,-18.9l.7,-20.6l.7,-17.6l.7,-7.1l.7,6l.7,13.5l.7,16.5l.7,15.7l.7,13.4l.8,11.7l.9,10.8l1.2,9.4l1.3,7.8l1.8,6.4l2,5.2l2.6,4.4l3.1,3.6l3.8,3l4.6,2.7l5.6,2.2l6.9,1.7l8.3,1.4l10.2,1l9,.5" stroke="#7b3eb3"/>
<path d="M102.0,346.1l6.2,-.2l6.9,-.5l5.6,-.6l4.6,-.9l3.8,-1.4l3.1,-2l2.6,-2.8l2,-4l1.8,-5.6l1.3,-7.4l1.2,-9.6l.9,-11.7l.8,-13.3l.7,-15.9l.7,-19.5l.7,-21.5l.7,-18.2l.7,-7.4l.7,6.2l.7,13.8l.7,16.6l.7,15.9l.7,13.6l.8,11.9l.9,11l1.2,9.7l1.4,8.1l1.7,6.7l2,5.6l2.6,4.6l3.1,4l3.8,3.5l4.6,2.9l5.6,2.5l6.8,2.1l8.4,1.6l10.2,1.2l12.3,.8" stroke="#141462"/>
<path d="M106.8,345.6l6.7,-.3l6.9,-.4l5.6,-.7l4.6,-.9l3.8,-1.4l3.1,-2l2.6,-2.9l2,-4.1l1.7,-5.7l1.4,-7.6l1.2,-9.8l.9,-11.8l.8,-13.6l.7,-16.2l.7,-20l.7,-21.9l.7,-18.6l.7,-7.5l.7,6.3l.7,13.8l.7,16.7l.7,15.9l.7,13.6l.8,11.9l.9,11.1l1.2,9.8l1.3,8.2l1.8,6.9l2,5.8l2.6,4.9l3.1,4.2l3.8,3.7l4.6,3.3l5.6,2.7l6.9,2.3l8.3,1.8l10.2,1.3l12.5,.8l1.9,.1" stroke="#7b3eb3"/>
<path d="M110.8,345.2l6.7,-.3l6.8,-.4l5.6,-.6l4.6,-1l3.8,-1.4l3.1,-2l2.6,-2.9l2,-4.1l1.8,-5.6l1.3,-7.6l1.2,-9.7l.9,-11.9l.8,-13.5l.7,-16.2l.7,-19.9l.7,-21.9l.7,-18.5l.7,-7.5l.7,6.2l.7,13.8l.7,16.7l.7,15.9l.7,13.5l.8,11.9l.9,11.1l1.2,9.7l1.3,8.2l1.8,6.9l2,5.8l2.6,4.9l3.1,4.2l3.8,3.7l4.6,3.2l5.6,2.8l6.9,2.3l8.3,1.7l10.2,1.3l12.5,.9l.9,0l.6,1.6l.4,0" stroke="#e0da54"/>
<path d="M113.2,345.6l7,-.3l6.9,-.4l5.6,-.7l4.6,-1l3.8,-1.4l3.1,-2l2.6,-3l2,-4.1l1.8,-5.8l1.3,-7.6l1.2,-9.9l.9,-12.1l.8,-13.8l.7,-16.4l.7,-20.2l.7,-22.2l.7,-18.9l.7,-7.6l.7,6.1l.7,13.5l.7,16.3l.7,15.8l.7,13.6l.8,12.1l.9,11.4l1.2,10.1l1.4,8.5l1.7,7.2l2,6.1l2.6,5.1l3.1,4.5l3.8,3.9l4.6,3.4l5.6,2.9l6.8,2.4l8.4,1.8l10.2,1.4l10.6,.8l.6,1.6l1.3,0l2.8,.1" stroke="#5ccc5c"/>
<path d="M114.0,345.1l7.3,-.3l6.9,-.4l5.6,-.7l4.6,-1l3.8,-1.4l3.1,-2.1l2.6,-3l2,-4.2l1.8,-5.9l1.3,-7.7l1.2,-10.1l.9,-12.3l.8,-14l.7,-16.7l.7,-20.5l.7,-22.6l.7,-19.1l.7,-7.8l.7,5.3l.7,11.6l.7,14.7l.7,15l.7,13.5l.8,12.5l.9,12.2l1.2,11.2l1.4,9.6l1.7,8.2l2,6.9l2.6,5.8l3.1,4.9l3.8,4.3l4.6,3.7l5.6,3.1l6.8,2.5l8.4,2l10.2,1.4l9.5,.8l.6,1.9l2.4,0l3.1,.1" stroke="#8be5e5"/>
<path d="M116.9,346.3l8.3,-.3l6.9,-.5l5.6,-.7l4.6,-1l3.8,-1.5l3.1,-2.2l2.6,-3.1l2,-4.4l1.8,-6.1l1.3,-8.1l1.2,-10.5l.9,-12.8l.8,-14.6l.7,-17.3l.7,-21.5l.7,-23.5l.7,-19.9l.7,-8.1l.7,4.4l.7,9.4l.7,12.4l.7,13.5l.7,13.1l.8,12.9l.9,13.2l1.2,12.8l1.4,11.5l1.7,10.1l2,8.5l2.6,7.1l3.1,6l3.8,5.1l4.6,4.2l5.6,3.6l6.8,2.8l8.4,2.2l10.2,1.6l5.6,.5l.6,1.9l6.3,.1l3.9,0" stroke="#383838"/>
<path d="M121.2,345.4l8.4,-.3l6.8,-.5l5.6,-.7l4.6,-1l3.8,-1.5l3.1,-2.2l2.6,-3.1l2,-4.4l1.7,-6.1l1.4,-8.1l1.2,-10.5l.9,-12.7l.8,-14.6l.7,-17.4l.7,-21.4l.7,-23.5l.7,-19.9l.7,-8.1l.7,4.2l.7,9.1l.7,12l.7,13.2l.7,12.9l.8,12.8l.9,13.3l1.2,12.9l1.3,11.7l1.8,10.3l2,8.7l2.6,7.3l3.1,6.1l3.8,5.1l4.6,4.3l5.6,3.6l6.9,2.9l8.3,2.3l10.2,1.6l1.3,.1l.6,2.6l10.6,.1l3.9,.1" stroke="#8be5e5"/>
<path d="M125.1,346.2l.3,0l8.4,-.4l6.8,-.4l5.6,-.7l4.6,-1.1l3.8,-1.5l3.1,-2.2l2.6,-3.1l2,-4.5l1.8,-6.2l1.3,-8.2l1.2,-10.7l.9,-12.9l.8,-14.8l.7,-17.7l.7,-21.7l.7,-23.9l.7,-20.2l.7,-8.2l.7,4.1l.7,8.5l.7,11.5l.7,12.8l.7,12.7l.8,12.8l.9,13.5l1.2,13.3l1.4,12.3l1.7,10.8l2,9.3l2.6,7.7l3.1,6.5l3.8,5.5l4.6,4.5l5.6,3.8l6.8,3l8.4,2.3l7.3,1.3l.6,2.7l2.3,.1l12.5,.2l4.1,.1" stroke="#b9925a"/>
<path d="M128.0,345.1l.5,0l8.3,-.4l6.9,-.4l5.6,-.8l4.6,-1l3.8,-1.5l3.1,-2.2l2.6,-3.2l2,-4.5l1.8,-6.3l1.3,-8.2l1.2,-10.8l.9,-13l.8,-14.9l.7,-17.8l.7,-21.9l.7,-24l.7,-20.4l.7,-8.3l.7,3.8l.7,7.8l.7,10.7l.7,12l.7,12.2l.8,12.6l.9,13.6l1.2,13.6l1.4,12.8l1.7,11.5l2,9.9l2.6,8.3l3.1,7l3.8,5.8l4.6,4.8l5.6,3.9l6.8,3.2l8.4,2.4l4.2,.8l.6,3.8l5.4,.1l12.5,.2l4.3,.1" stroke="#287676"/>
<path d="M130.7,345.2l.1,0l8.4,-.3l6.8,-.5l5.6,-.7l4.6,-1l3.8,-1.5l3.1,-2.2l2.6,-3.1l2,-4.4l1.7,-6.1l1.4,-8.2l1.2,-10.5l.9,-12.8l.8,-14.7l.7,-17.4l.7,-21.5l.7,-23.6l.7,-20l.7,-8.1l.7,4.1l.7,8.8l.7,11.7l.7,13l.7,12.7l.8,12.8l.9,13.3l1.2,13.1l1.3,11.9l1.8,10.5l2,9l2.6,7.5l3.1,6.3l3.8,5.2l4.6,4.5l5.6,3.6l6.8,3l8.4,2.2l1.9,.4l.6,3.8l7.7,.2l12.5,.2l3.9,.1" stroke="#b9925a"/>
<path d="M133.6,346.9l1.8,0l8.4,-.3l6.8,-.6l5.6,-.7l4.6,-1.1l3.8,-1.6l3.1,-2.3l2.6,-3.4l2,-4.8l1.8,-6.5l1.3,-8.8l1.2,-11.3l.9,-13.8l.8,-15.7l.7,-18.8l.7,-23.1l.7,-25.4l.7,-21.5l.7,-8.7l.7,3.3l.7,6.4l.7,8.9l.7,10.4l.7,11l.8,12.1l.9,13.6l1.2,14.7l1.4,14.4l1.7,13.7l2,12.1l2.6,10.3l3.1,8.7l3.8,7.2l4.6,5.8l5.6,4.8l6.8,3.7l5.7,2.1l.6,4.9l2.1,.1l10.2,.4l12.5,.3l14,.1l.5,0" stroke="#7b3eb3"/>
<path d="M137.7,346.9l1.7,-.1l8.4,-.3l6.8,-.5l5.6,-.8l4.6,-1.1l3.8,-1.6l3.1,-2.3l2.6,-3.3l2,-4.8l1.8,-6.5l1.3,-8.7l1.2,-11.3l.9,-13.7l.8,-15.6l.7,-18.7l.7,-23l.7,-25.2l.7,-21.4l.7,-8.7l.7,3.3l.7,6.6l.7,9.1l.7,10.6l.7,11.1l.8,12.1l.9,13.7l1.2,14.6l1.4,14.3l1.7,13.5l2,11.8l2.6,10.1l3.1,8.5l3.8,7l4.6,5.8l5.6,4.6l6.8,3.7l1.7,.6l.6,6l6.1,.4l10.2,.4l12.5,.2l12.7,.2" stroke="#c84141"/>
<path d="M141.5,346.7l1.9,-.1l8.4,-.3l6.8,-.5l5.6,-.8l4.6,-1.1l3.8,-1.6l3.1,-2.3l2.6,-3.4l2,-4.8l1.8,-6.6l1.3,-8.8l1.2,-11.4l.9,-13.8l.8,-15.8l.7,-18.8l.7,-23.3l.7,-25.4l.7,-21.6l.7,-8.8l.7,3.2l.7,6.3l.7,8.6l.7,10.2l.7,10.8l.8,11.9l.9,13.6l1.2,14.7l1.4,14.6l1.7,13.9l2,12.3l2.6,10.7l3.1,8.9l3.8,7.3l4.6,6l5.6,4.9l4.5,2.7l.6,7.7l1.7,.2l8.4,.5l10.2,.4l12.5,.3l14,.2l2.5,0" stroke="#a8a8a8"/>
<path d="M144.9,345.0l1.9,-.1l8.4,-.3l6.8,-.5l5.6,-.8l4.6,-1.1l3.8,-1.6l3.1,-2.3l2.6,-3.4l2,-4.8l1.7,-6.6l1.4,-8.8l1.2,-11.3l.9,-13.9l.8,-15.8l.7,-18.8l.7,-23.2l.7,-25.5l.7,-21.6l.7,-8.8l.7,3.1l.7,6l.7,8.2l.7,9.7l.7,10.4l.8,11.6l.9,13.3l1.2,14.7l1.3,14.7l1.8,14.1l2,12.7l2.6,11l3.1,9.2l3.8,7.6l4.6,6.2l5.6,5l1.1,.8l.6,10.3l5.1,.5l8.4,.6l10.2,.4l12.5,.3l14,.2l5.7,0" stroke="#d570b3"/>
<path d="M146.0,346.2l2.3,-.1l8.4,-.3l6.8,-.5l5.6,-.8l4.6,-1.1l3.8,-1.7l3.1,-2.4l2.6,-3.4l2,-4.9l1.7,-6.7l1.4,-8.9l1.2,-11.6l.9,-14.1l.8,-16.1l.7,-19.1l.7,-23.7l.7,-25.9l.7,-22l.7,-8.9l.7,3.1l.7,5.7l.7,7.9l.7,9.4l.7,10.2l.8,11.4l.9,13.4l1.2,14.7l1.3,15.1l1.8,14.6l2,13.3l2.6,11.6l3.1,9.7l3.8,8l4.6,6.6l5.2,4.9l.4,11.1l.2,0l6.7,.8l8.3,.7l10.2,.4l12.5,.3l14,.2l9.9,0" stroke="#7b3eb3"/>
<path d="M148.6,345.8l2.8,-.1l8.4,-.4l6.8,-.5l5.6,-.8l4.6,-1.1l3.8,-1.7l3.1,-2.4l2.6,-3.6l2,-4.9l1.8,-6.9l1.3,-9.1l1.2,-11.8l.9,-14.4l.8,-16.4l.7,-19.6l.7,-24.1l.7,-26.5l.7,-22.4l.7,-9.1l.7,2.9l.7,5.3l.7,7.2l.7,8.7l.7,9.5l.8,10.9l.9,13l1.2,14.7l1.4,15.4l1.7,15.4l2,14.2l2.6,12.6l3.1,10.7l3.8,8.9l4.6,7.2l2.1,2.4l.6,14.7l2.9,.5l6.8,.9l8.4,.7l10.2,.5l12.5,.3l14,.2l14,.1l4.6,0" stroke="#662ec0"/>
<path d="M151.2,346.5l2.6,-.1l8.4,-.3l6.8,-.6l5.6,-.7l4.6,-1.2l3.8,-1.6l3.1,-2.4l2.6,-3.5l2,-4.9l1.7,-6.8l1.4,-9.1l1.2,-11.7l.9,-14.2l.8,-16.3l.7,-19.3l.7,-23.9l.7,-26.3l.7,-22.2l.7,-9l.7,3l.7,5.6l.7,7.6l.7,9.1l.7,10l.8,11.2l.9,13.3l1.2,14.8l1.3,15.2l1.8,15l2,13.7l2.6,12l3.1,10.2l3.8,8.3l4.3,6.5l.3,.4l.3,15.5l5.3,1l6.8,.9l8.4,.6l10.2,.4l12.5,.3l14,.2l13.5,.1" stroke="#a4c53f"/>
<path d="M153.4,346.0l2.7,-.1l8.3,-.3l6.9,-.5l5.6,-.8l4.6,-1.2l3.8,-1.6l3.1,-2.5l2.6,-3.4l2,-5l1.8,-6.8l1.3,-9.1l1.2,-11.8l.9,-14.3l.8,-16.4l.7,-19.5l.7,-24l.7,-26.4l.7,-22.3l.7,-9.1l.7,2.9l.7,5.4l.7,7.4l.7,8.8l.7,9.7l.8,11l.9,13.1l1.2,14.8l1.3,15.3l1.8,15.3l2,14l2.6,12.4l3.1,10.5l3.8,8.6l2,3.5l.6,19.2l2,.5l5.6,1.1l6.9,.9l8.3,.7l10.2,.4l12.5,.4l14,.1l14,.1l2.6,0" stroke="#287676"/>
<path d="M154.5,346.3l2.7,-.1l8.4,-.3l6.8,-.6l5.6,-.7l4.6,-1.2l3.8,-1.7l3.1,-2.4l2.6,-3.5l2,-4.9l1.7,-6.9l1.4,-9l1.2,-11.8l.9,-14.3l.8,-16.4l.7,-19.5l.7,-24l.7,-26.4l.7,-22.3l.7,-9.1l.7,3l.7,5.4l.7,7.4l.7,8.9l.7,9.8l.8,11l.9,13.2l1.2,14.7l1.3,15.4l1.8,15.2l2,14l2.6,12.3l3.1,10.4l3.8,8.7l.9,1.6l.6,20.4l3.1,.9l5.6,1.1l6.9,.9l8.3,.6l10.2,.5l12.5,.3l14,.2l14,.1l2.1,0" stroke="#399e39"/>
<path d="M156.1,346.4l3.1,-.1l8.4,-.4l6.8,-.5l5.6,-.8l4.6,-1.2l3.8,-1.7l3.1,-2.4l2.6,-3.6l2,-5l1.7,-6.9l1.4,-9.3l1.2,-11.9l.9,-14.6l.8,-16.6l.7,-19.8l.7,-24.4l.7,-26.8l.7,-22.7l.7,-9.2l.7,2.8l.7,5l.7,6.8l.7,8.2l.7,9l.8,10.5l.9,12.6l1.2,14.6l1.3,15.6l1.8,15.7l2,14.9l2.6,13.2l3.1,11.4l2.7,7.2l.6,25.5l.5,.2l4.6,1.5l5.6,1.2l6.9,1l8.3,.7l10.2,.5l12.5,.3l14,.2l14,.1l10.8,.1" stroke="#383838"/>
<path d="M174.4,345.9l1.8,-.1l6.9,-.4l5.6,-.5l4.6,-.7l3.8,-1.1l3.1,-1.6l2.6,-2.3l2,-3.3l1.8,-4.5l1.3,-6l1.2,-7.8l.9,-9.4l.8,-10.8l.7,-12.9l.7,-15.9l.7,-17.4l.7,-14.7l.7,-6l.7,5.1l.7,12.7l.7,15.6l.7,14.8l.7,12.6l.8,10.9l.9,9.9l1.2,8.3l1.4,6.7l1.7,5.1l2,3.9l2.6,2.8l3.1,2.1l3.8,1.6l4.6,1.1l5.6,.9l6.8,.6l4.4,.3" stroke="#7b3eb3"/>
<path d="M176.8,345.9l1,-.1l6.9,-.3l5.6,-.5l4.6,-.7l3.8,-1.1l3.1,-1.5l2.6,-2.2l2,-3.2l1.8,-4.3l1.3,-5.8l1.2,-7.4l.9,-9.1l.8,-10.3l.7,-12.4l.7,-15.2l.7,-16.7l.7,-14.2l.7,-5.7l.7,4.9l.7,12.5l.7,15.3l.7,14.5l.7,12.3l.8,10.7l.9,9.6l1.2,8.1l1.4,6.4l1.7,4.9l2,3.6l2.6,2.6l3.1,1.8l3.8,1.3l4.6,.9l5.6,.6l6.8,.4l4.2,.2" stroke="#662ec0"/>
<path d="M181.3,345.1l.4,0l6.8,-.3l5.6,-.5l4.6,-.7l3.8,-1l3.1,-1.5l2.6,-2.1l2,-3l1.7,-4.2l1.4,-5.6l1.2,-7.2l.9,-8.7l.8,-10l.7,-12l.7,-14.7l.7,-16.1l.7,-13.6l.7,-5.6l.7,4.8l.7,12l.7,14.9l.7,14.1l.7,11.9l.8,10.4l.9,9.3l1.2,7.8l1.3,6.2l1.8,4.7l2,3.5l2.6,2.5l3.1,1.7l3.8,1.2l4.6,.8l5.6,.5l6.9,.4l3.5,.1" stroke="#707070"/>
<path d="M185.2,345.6l1.1,0l6.9,-.3l5.6,-.5l4.6,-.8l3.8,-1l3.1,-1.6l2.6,-2.2l2,-3.1l1.8,-4.4l1.3,-5.8l1.2,-7.5l.9,-9.1l.8,-10.4l.7,-12.4l.7,-15.3l.7,-16.8l.7,-14.2l.7,-5.8l.7,5l.7,12.4l.7,15.3l.7,14.6l.7,12.3l.8,10.7l.9,9.7l1.2,8.1l1.4,6.4l1.7,5l2,3.6l2.6,2.6l3.1,1.9l3.8,1.3l4.6,.9l5.6,.7l6.8,.4l4.2,.2" stroke="#287676"/>
<path d="M189.0,345.1l.4,0l6.9,-.4l5.6,-.4l4.6,-.7l3.8,-1.1l3.1,-1.5l2.6,-2.1l2,-3.1l1.8,-4.2l1.3,-5.6l1.2,-7.2l.9,-8.8l.8,-10.1l.7,-12l.7,-14.8l.7,-16.2l.7,-13.8l.7,-5.6l.7,4.8l.7,12.1l.7,15l.7,14.2l.7,12l.8,10.4l.9,9.4l1.2,7.9l1.3,6.2l1.8,4.8l2,3.5l2.6,2.5l3.1,1.7l3.8,1.2l4.6,.8l5.6,.6l6.9,.4l3.6,.1" stroke="#b9925a"/>
<path d="M194.4,345.2l.4,0l6.9,-.3l5.6,-.5l4.6,-.7l3.8,-1l3.1,-1.5l2.6,-2.2l2,-3l1.8,-4.2l1.3,-5.6l1.2,-7.3l.9,-8.8l.8,-10.1l.7,-12l.7,-14.9l.7,-16.2l.7,-13.8l.7,-5.6l.7,4.8l.7,12.2l.7,14.9l.7,14.3l.7,12l.8,10.4l.9,9.4l1.2,8l1.4,6.2l1.7,4.8l2,3.4l2.6,2.5l3.1,1.8l3.8,1.2l4.6,.8l5.6,.5l6.8,.4l3.7,.1" stroke="#707070"/>
<path d="M200.5,344.9l.6,0l6.8,-.3l5.6,-.5l4.6,-.7l3.8,-1l3.1,-1.5l2.6,-2.2l2,-3.1l1.7,-4.2l1.4,-5.6l1.2,-7.3l.9,-8.9l.8,-10.1l.7,-12.1l.7,-14.9l.7,-16.3l.7,-13.9l.7,-5.6l.7,4.8l.7,12.2l.7,15.1l.7,14.3l.7,12.1l.8,10.5l.9,9.4l1.2,7.9l1.3,6.3l1.8,4.8l2,3.5l2.6,2.5l3.1,1.7l3.8,1.2l4.6,.9l5.6,.5l6.8,.4l3.8,.1" stroke="#707070"/>
<path d="M205.6,345.7l1.3,-.1l6.9,-.3l5.6,-.5l4.6,-.8l3.8,-1l3.1,-1.6l2.6,-2.3l2,-3.2l1.7,-4.4l1.4,-5.8l1.2,-7.7l.9,-9.2l.8,-10.6l.7,-12.6l.7,-15.5l.7,-17l.7,-14.4l.7,-5.9l.7,5l.7,12.6l.7,15.4l.7,14.7l.7,12.4l.8,10.8l.9,9.7l1.2,8.2l1.4,6.5l1.7,5.1l2,3.7l2.6,2.7l3.1,1.9l3.8,1.5l4.6,1l5.6,.7l6.9,.5l4.2,.2" stroke="#46c1d8"/>
<path d="M207.6,346.8l1,0l6.8,-.4l5.6,-.5l4.6,-.7l3.8,-1l3.1,-1.6l2.6,-2.2l2,-3.1l1.7,-4.3l1.4,-5.7l1.2,-7.4l.9,-9.1l.8,-10.3l.7,-12.2l.7,-15.2l.7,-16.6l.7,-14.1l.7,-5.7l.7,4.9l.7,12.4l.7,15.3l.7,14.6l.7,12.3l.8,10.6l.9,9.6l1.2,8.1l1.3,6.4l1.8,4.9l2,3.5l2.6,2.5l3.1,1.8l3.8,1.2l4.6,.9l5.6,.6l6.8,.3l4.2,.2" stroke="#8e5634"/>
<path d="M213.7,345.2l6.6,-.3l5.6,-.4l4.6,-.7l3.8,-1l3.1,-1.5l2.6,-2l2,-3l1.8,-4l1.3,-5.4l1.2,-7l.9,-8.5l.8,-9.8l.7,-11.6l.7,-14.2l.7,-15.7l.7,-13.3l.7,-5.4l.7,4.6l.7,11.8l.7,14.4l.7,13.7l.7,11.6l.8,10.1l.9,9l1.2,7.7l1.3,6l1.8,4.6l2,3.3l2.6,2.4l3.1,1.7l3.8,1.1l4.6,.8l5.6,.6l6.9,.3l2.9,.1" stroke="#3944b4"/>
<path d="M214.2,345.0l.6,0l6.8,-.3l5.6,-.5l4.6,-.7l3.8,-1.1l3.1,-1.5l2.6,-2.1l2,-3.1l1.8,-4.2l1.3,-5.7l1.2,-7.3l.9,-8.9l.8,-10.1l.7,-12.1l.7,-14.9l.7,-16.3l.7,-13.9l.7,-5.6l.7,4.8l.7,12.3l.7,15l.7,14.3l.7,12.1l.8,10.5l.9,9.4l1.2,8l1.4,6.3l1.7,4.8l2,3.4l2.6,2.5l3.1,1.8l3.8,1.2l4.6,.8l5.6,.6l6.9,.4l3.8,.1" stroke="#7b3eb3"/>
<path d="M218.3,345.1l1,0l6.9,-.3l5.6,-.5l4.6,-.7l3.8,-1.1l3.1,-1.5l2.6,-2.3l2,-3.1l1.8,-4.3l1.3,-5.8l1.2,-7.4l.9,-9.1l.8,-10.4l.7,-12.3l.7,-15.3l.7,-16.7l.7,-14.1l.7,-5.8l.7,4.9l.7,12.4l.7,15.3l.7,14.5l.7,12.3l.8,10.6l.9,9.6l1.2,8.1l1.3,6.4l1.8,4.9l2,3.7l2.6,2.6l3.1,1.8l3.8,1.3l4.6,.9l5.6,.7l6.8,.4l4.1,.2" stroke="#d570b3"/>
<path d="M222.8,345.9l1.4,-.1l6.8,-.3l5.6,-.5l4.6,-.7l3.8,-1.1l3.1,-1.6l2.6,-2.2l2,-3.2l1.7,-4.4l1.4,-5.9l1.2,-7.6l.9,-9.2l.8,-10.5l.7,-12.6l.7,-15.5l.7,-16.9l.7,-14.5l.7,-5.8l.7,5l.7,12.6l.7,15.4l.7,14.7l.7,12.4l.8,10.7l.9,9.8l1.2,8.2l1.3,6.5l1.8,5l2,3.7l2.6,2.7l3.1,1.9l3.8,1.4l4.6,1l5.6,.7l6.8,.5l4.3,.2" stroke="#e0da54"/>
<path d="M228.0,345.6l1.7,-.1l6.8,-.3l5.6,-.5l4.6,-.8l3.8,-1.1l3.1,-1.6l2.6,-2.3l2,-3.2l1.7,-4.4l1.4,-6l1.2,-7.7l.9,-9.3l.8,-10.7l.7,-12.7l.7,-15.7l.7,-17.3l.7,-14.6l.7,-5.9l.7,5.1l.7,12.6l.7,15.5l.7,14.7l.7,12.5l.8,10.8l.9,9.8l1.2,8.3l1.3,6.6l1.8,5.1l2,3.8l2.6,2.8l3.1,2l3.8,1.5l4.6,1.1l5.6,.8l6.9,.6l4.2,.2" stroke="#d570b3"/>
<path d="M231.6,346.7l1.2,-.1l6.8,-.3l5.6,-.5l4.6,-.7l3.8,-1.1l3.1,-1.5l2.6,-2.3l2,-3.1l1.8,-4.4l1.3,-5.8l1.2,-7.5l.9,-9.2l.8,-10.4l.7,-12.5l.7,-15.4l.7,-16.8l.7,-14.3l.7,-5.8l.7,5l.7,12.5l.7,15.4l.7,14.7l.7,12.4l.8,10.8l.9,9.7l1.2,8.2l1.4,6.4l1.7,5l2,3.6l2.6,2.6l3.1,1.9l3.8,1.3l4.6,.9l5.6,.6l6.9,.4l4.3,.2" stroke="#c84141"/>
<path d="M235.9,345.3l.9,0l6.8,-.4l5.6,-.5l4.6,-.7l3.8,-1l3.1,-1.6l2.6,-2.2l2,-3.1l1.8,-4.3l1.3,-5.7l1.2,-7.4l.9,-9l.8,-10.3l.7,-12.3l.7,-15.1l.7,-16.6l.7,-14.1l.7,-5.7l.7,4.9l.7,12.4l.7,15.2l.7,14.5l.7,12.2l.8,10.6l.9,9.6l1.2,8.1l1.4,6.3l1.7,4.9l2,3.6l2.6,2.5l3.1,1.8l3.8,1.3l4.6,.9l5.6,.6l6.9,.4l4,.1" stroke="#662ec0"/>
<path d="M240.2,345.9l1.6,-.1l6.8,-.3l5.6,-.5l4.6,-.8l3.8,-1.1l3.1,-1.5l2.6,-2.3l2,-3.2l1.8,-4.5l1.3,-5.9l1.2,-7.6l.9,-9.4l.8,-10.6l.7,-12.7l.7,-15.6l.7,-17.2l.7,-14.5l.7,-5.9l.7,5.1l.7,12.6l.7,15.4l.7,14.8l.7,12.5l.8,10.8l.9,9.8l1.2,8.2l1.4,6.6l1.7,5.1l2,3.7l2.6,2.8l3.1,2l3.8,1.4l4.6,1.1l5.6,.7l6.9,.6l4.2,.2" stroke="#3944b4"/>
<path d="M243.3,346.5l2.4,-.1l6.8,-.3l5.6,-.5l4.6,-.8l3.8,-1.1l3.1,-1.7l2.6,-2.3l2,-3.4l1.7,-4.6l1.4,-6.2l1.2,-7.9l.9,-9.7l.8,-11.1l.7,-13.2l.7,-16.2l.7,-17.8l.7,-15.2l.7,-6.1l.7,5.2l.7,12.9l.7,15.8l.7,15.1l.7,12.7l.8,11.1l.9,10l1.2,8.5l1.3,6.8l1.8,5.3l2,4l2.6,3l3.1,2.3l3.8,1.7l4.6,1.2l5.6,1l6.9,.7l4.5,.4" stroke="#287676"/>
<path d="M245.3,347.0l2.6,-.1l6.9,-.3l5.6,-.6l4.6,-.8l3.8,-1.1l3.1,-1.7l2.6,-2.4l2,-3.4l1.7,-4.7l1.4,-6.2l1.2,-8.1l.9,-9.9l.8,-11.2l.7,-13.4l.7,-16.6l.7,-18.1l.7,-15.4l.7,-6.2l.7,5.3l.7,13l.7,16l.7,15.2l.7,12.8l.8,11.2l.9,10.1l1.2,8.7l1.4,6.9l1.7,5.4l2,4.1l2.6,3.1l3.1,2.4l3.8,1.7l4.6,1.4l5.6,1.1l6.9,.8l5.2,.4" stroke="#d58638"/>
<path d="M245.9,345.2l4.3,-.1l6.9,-.4l5.6,-.6l4.6,-.8l3.8,-1.3l3.1,-1.8l2.6,-2.6l2,-3.6l1.8,-5.1l1.3,-6.8l1.2,-8.7l.9,-10.7l.8,-12.2l.7,-14.5l.7,-17.8l.7,-19.6l.7,-16.7l.7,-6.7l.7,5.7l.7,13.3l.7,16.3l.7,15.4l.7,13.2l.8,11.4l.9,10.6l1.2,9l1.4,7.5l1.7,6l2,4.7l2.6,3.8l3.1,3.1l3.8,2.6l4.6,2.1l5.6,1.7l6.9,1.4l8.3,1l10.2,.8l2.7,.1" stroke="#7b3eb3"/>
<path d="M254.1,344.9l1.7,0l6.8,-.4l5.6,-.5l4.6,-.7l3.8,-1.1l3.1,-1.6l2.6,-2.3l2,-3.2l1.8,-4.5l1.3,-5.9l1.2,-7.7l.9,-9.4l.8,-10.7l.7,-12.7l.7,-15.7l.7,-17.3l.7,-14.6l.7,-5.9l.7,5.1l.7,12.6l.7,15.4l.7,14.7l.7,12.5l.8,10.8l.9,9.7l1.2,8.3l1.4,6.6l1.7,5.1l2,3.8l2.6,2.9l3.1,2l3.8,1.5l4.6,1.2l5.6,.8l6.9,.6l4.1,.3" stroke="#707070"/>
<path d="M254.2,347.0l3.9,-.2l6.8,-.4l5.6,-.5l4.6,-.9l3.8,-1.2l3.1,-1.7l2.6,-2.6l2,-3.6l1.8,-4.9l1.3,-6.6l1.2,-8.6l.9,-10.4l.8,-11.9l.7,-14.2l.7,-17.5l.7,-19.1l.7,-16.3l.7,-6.6l.7,5.6l.7,13.3l.7,16.3l.7,15.5l.7,13.1l.8,11.5l.9,10.4l1.2,9l1.4,7.3l1.7,5.8l2,4.5l2.6,3.6l3.1,2.8l3.8,2.2l4.6,1.9l5.6,1.4l6.8,1.2l8.4,.8l8,.6" stroke="#399e39"/>
<path d="M257.9,345.4l3.2,-.1l6.9,-.4l5.6,-.6l4.6,-.8l3.8,-1.2l3.1,-1.7l2.6,-2.5l2,-3.5l1.7,-4.8l1.4,-6.5l1.2,-8.3l.9,-10.2l.8,-11.6l.7,-13.8l.7,-17l.7,-18.7l.7,-15.9l.7,-6.4l.7,5.5l.7,13l.7,16l.7,15.3l.7,12.9l.8,11.2l.9,10.3l1.2,8.8l1.3,7.1l1.8,5.6l2,4.4l2.6,3.4l3.1,2.7l3.8,2.1l4.6,1.7l5.6,1.3l6.8,1.1l8.4,.8l5.7,.3" stroke="#e0da54"/>
<path d="M260.0,346.2l2.6,-.1l6.9,-.3l5.6,-.5l4.6,-.8l3.8,-1.2l3.1,-1.7l2.6,-2.4l2,-3.4l1.7,-4.7l1.4,-6.2l1.2,-8.1l.9,-9.9l.8,-11.2l.7,-13.4l.7,-16.5l.7,-18.2l.7,-15.4l.7,-6.2l.7,5.3l.7,13l.7,15.9l.7,15.1l.7,12.8l.8,11.1l.9,10.1l1.2,8.7l1.3,6.9l1.8,5.4l2,4.2l2.6,3.1l3.1,2.4l3.8,1.8l4.6,1.4l5.6,1.1l6.9,.8l6.7,.5" stroke="#c84141"/>
<path d="M262.6,346.8l3.2,-.1l6.8,-.4l5.6,-.5l4.6,-.8l3.8,-1.2l3.1,-1.7l2.6,-2.5l2,-3.4l1.8,-4.9l1.3,-6.4l1.2,-8.2l.9,-10.1l.8,-11.5l.7,-13.8l.7,-16.9l.7,-18.6l.7,-15.7l.7,-6.4l.7,5.4l.7,13.2l.7,16l.7,15.3l.7,13l.8,11.3l.9,10.3l1.2,8.8l1.4,7l1.7,5.6l2,4.3l2.6,3.3l3.1,2.5l3.8,2l4.6,1.6l5.6,1.2l6.9,1l8.3,.7l2.5,.1" stroke="#46c1d8"/>
<path d="M264.6,346.5l5.3,-.2l6.9,-.4l5.6,-.6l4.6,-.9l3.8,-1.3l3.1,-1.9l2.6,-2.7l2,-3.9l1.7,-5.3l1.4,-7.1l1.2,-9.2l.9,-11.2l.8,-12.8l.7,-15.3l.7,-18.7l.7,-20.6l.7,-17.5l.7,-7.1l.7,5.9l.7,13.7l.7,16.6l.7,15.8l.7,13.4l.8,11.8l.9,10.8l1.2,9.4l1.4,7.8l1.7,6.4l2,5.1l2.6,4.3l3.1,3.5l3.8,2.9l4.6,2.5l5.6,2.1l6.9,1.7l8.3,1.3l10.2,1l7.7,.4" stroke="#707070"/>
<path d="M268.6,345.4l3.3,-.1l6.9,-.4l5.6,-.5l4.6,-.8l3.8,-1.2l3.1,-1.7l2.6,-2.5l2,-3.5l1.7,-4.9l1.4,-6.4l1.2,-8.4l.9,-10.1l.8,-11.6l.7,-13.8l.7,-17.1l.7,-18.7l.7,-15.9l.7,-6.4l.7,5.5l.7,13.1l.7,16l.7,15.2l.7,12.9l.8,11.3l.9,10.2l1.2,8.8l1.4,7.1l1.7,5.7l2,4.4l2.6,3.4l3.1,2.7l3.8,2.1l4.6,1.6l5.6,1.4l6.9,1.1l8.3,.7l5.7,.4" stroke="#383838"/>
<path d="M270.6,345.2l4.6,-.2l6.9,-.4l5.6,-.5l4.6,-.9l3.8,-1.3l3.1,-1.8l2.6,-2.6l2,-3.8l1.8,-5.1l1.3,-6.9l1.2,-8.8l.9,-10.8l.8,-12.4l.7,-14.7l.7,-18.1l.7,-19.9l.7,-16.9l.7,-6.8l.7,5.8l.7,13.4l.7,16.3l.7,15.5l.7,13.2l.8,11.5l.9,10.6l1.2,9.2l1.4,7.5l1.7,6.1l2,4.9l2.6,3.9l3.1,3.3l3.8,2.6l4.6,2.3l5.6,1.8l6.9,1.5l8.3,1.1l10.2,.9l4.5,.2" stroke="#8be5e5"/>
<path d="M274.7,347.1l5.4,-.2l6.9,-.4l5.6,-.7l4.6,-.9l3.8,-1.3l3.1,-1.9l2.6,-2.7l2,-3.9l1.7,-5.3l1.4,-7.2l1.2,-9.2l.9,-11.2l.8,-12.9l.7,-15.2l.7,-18.9l.7,-20.7l.7,-17.5l.7,-7.1l.7,6l.7,13.7l.7,16.6l.7,15.9l.7,13.4l.8,11.9l.9,10.8l1.2,9.5l1.3,7.8l1.8,6.4l2,5.2l2.6,4.2l3.1,3.5l3.8,3l4.6,2.5l5.6,2.1l6.8,1.7l8.4,1.3l10.2,.9l7.7,.5" stroke="#a8a8a8"/>
<path d="M279.1,345.8l5.7,-.2l6.8,-.4l5.6,-.6l4.6,-.9l3.8,-1.4l3.1,-1.9l2.6,-2.8l2,-3.8l1.8,-5.5l1.3,-7.1l1.2,-9.3l.9,-11.3l.8,-13l.7,-15.4l.7,-18.9l.7,-20.9l.7,-17.6l.7,-7.2l.7,6l.7,13.7l.7,16.5l.7,15.8l.7,13.4l.8,11.8l.9,10.8l1.2,9.5l1.4,7.8l1.7,6.5l2,5.3l2.6,4.4l3.1,3.6l3.8,3.1l4.6,2.7l5.6,2.2l6.9,1.8l8.3,1.5l10.2,1l9.4,.5" stroke="#7c7c2e"/>
<path d="M284.4,347.1l5,-.2l6.9,-.4l5.6,-.6l4.6,-.9l3.8,-1.3l3.1,-1.9l2.6,-2.7l2,-3.8l1.8,-5.2l1.3,-7.1l1.2,-9l.9,-11.1l.8,-12.6l.7,-15l.7,-18.5l.7,-20.4l.7,-17.2l.7,-7l.7,5.9l.7,13.6l.7,16.6l.7,15.8l.7,13.4l.8,11.7l.9,10.8l1.2,9.3l1.3,7.7l1.8,6.3l2,5l2.6,4.1l3.1,3.3l3.8,2.8l4.6,2.4l5.6,1.9l6.9,1.6l8.3,1.2l10.2,.8l5.7,.3" stroke="#7b3eb3"/>
<path d="M287.1,345.6l4.7,-.2l6.8,-.4l5.6,-.6l4.6,-.9l3.8,-1.2l3.1,-1.9l2.6,-2.6l2,-3.8l1.8,-5.2l1.3,-6.8l1.2,-9l.9,-10.8l.8,-12.4l.7,-14.8l.7,-18.2l.7,-20l.7,-16.9l.7,-6.9l.7,5.8l.7,13.4l.7,16.4l.7,15.6l.7,13.2l.8,11.6l.9,10.6l1.2,9.2l1.4,7.6l1.7,6.1l2,4.9l2.6,4l3.1,3.3l3.8,2.7l4.6,2.2l5.6,1.9l6.9,1.5l8.3,1.2l10.2,.8l4.8,.2" stroke="#d570b3"/>
<path d="M290.4,346.4l6,-.2l6.9,-.4l5.6,-.7l4.6,-.9l3.8,-1.3l3.1,-2l2.6,-2.8l2,-4l1.8,-5.5l1.3,-7.3l1.2,-9.6l.9,-11.5l.8,-13.2l.7,-15.7l.7,-19.4l.7,-21.3l.7,-18.1l.7,-7.3l.7,6.1l.7,13.8l.7,16.7l.7,15.9l.7,13.5l.8,11.9l.9,11l1.2,9.6l1.3,8l1.8,6.7l2,5.5l2.6,4.5l3.1,3.9l3.8,3.3l4.6,2.9l5.6,2.4l6.9,1.9l8.3,1.6l10.2,1.1l11.2,.7" stroke="#c84141"/>
<path d="M291.3,345.2l7.5,-.3l6.8,-.4l5.6,-.7l4.6,-1l3.8,-1.4l3.1,-2.1l2.6,-3l2,-4.2l1.8,-5.9l1.3,-7.8l1.2,-10.1l.9,-12.2l.8,-14.1l.7,-16.7l.7,-20.6l.7,-22.6l.7,-19.1l.7,-7.8l.7,5.3l.7,11.5l.7,14.7l.7,14.9l.7,13.6l.8,12.5l.9,12.2l1.2,11.2l1.4,9.7l1.7,8.2l2,7l2.6,5.8l3.1,5l3.8,4.2l4.6,3.7l5.6,3.1l6.9,2.6l8.3,2l10.2,1.4l12.5,.9l3.2,.2" stroke="#662ec0"/>
<path d="M296.8,345.0l7.3,-.3l6.9,-.5l5.6,-.6l4.6,-1l3.8,-1.4l3.1,-2.1l2.6,-3l2,-4.2l1.7,-5.9l1.4,-7.8l1.2,-10l.9,-12.3l.8,-14l.7,-16.7l.7,-20.5l.7,-22.6l.7,-19.1l.7,-7.8l.7,5.3l.7,11.5l.7,14.7l.7,14.9l.7,13.5l.8,12.5l.9,12.2l1.2,11.2l1.3,9.6l1.8,8.3l2,6.9l2.6,5.8l3.1,5l3.8,4.2l4.6,3.7l5.6,3.1l6.8,2.6l8.4,1.9l10.2,1.5l12.5,.9l3.1,.2" stroke="#d570b3"/>
<path d="M300.2,346.0l7,-.2l6.9,-.5l5.6,-.6l4.6,-1l3.8,-1.4l3.1,-2.1l2.6,-2.9l2,-4.2l1.8,-5.8l1.3,-7.6l1.2,-10l.9,-12.1l.8,-13.8l.7,-16.4l.7,-20.3l.7,-22.3l.7,-18.8l.7,-7.7l.7,6.2l.7,13.5l.7,16.5l.7,15.9l.7,13.6l.8,12.2l.9,11.3l1.2,10.1l1.4,8.5l1.7,7.2l2,6l2.6,5.2l3.1,4.4l3.8,3.9l4.6,3.4l5.6,2.9l6.9,2.4l8.3,1.9l10.2,1.4l12.5,.9l2.9,.1" stroke="#c84141"/>
<path d="M304.6,344.9l7.8,-.3l6.8,-.4l5.6,-.7l4.6,-1l3.8,-1.4l3.1,-2.2l2.6,-3l2,-4.3l1.7,-5.9l1.4,-7.9l1.2,-10.3l.9,-12.4l.8,-14.2l.7,-17l.7,-20.9l.7,-22.9l.7,-19.4l.7,-7.9l.7,4.8l.7,10.3l.7,13.5l.7,14.2l.7,13.3l.8,12.7l.9,12.7l1.2,12l1.3,10.5l1.8,9.1l2,7.6l2.6,6.4l3.1,5.4l3.8,4.6l4.6,4l5.6,3.3l6.8,2.6l8.4,2.1l10.2,1.5l12.5,1l3.4,.2" stroke="#287676"/>
<path d="M307.8,346.5l.4,0l8.4,-.4l6.8,-.4l5.6,-.7l4.6,-1.1l3.8,-1.5l3.1,-2.2l2.6,-3.2l2,-4.4l1.8,-6.2l1.3,-8.3l1.2,-10.7l.9,-12.9l.8,-14.9l.7,-17.6l.7,-21.8l.7,-23.9l.7,-20.3l.7,-8.2l.7,4.1l.7,8.5l.7,11.6l.7,12.8l.7,12.7l.8,12.8l.9,13.6l1.2,13.3l1.4,12.3l1.7,10.8l2,9.3l2.6,7.8l3.1,6.5l3.8,5.4l4.6,4.6l5.6,3.7l6.8,3.1l8.4,2.3l10.2,1.6l12.5,1.1l4.2,.3" stroke="#e0da54"/>
<path d="M310.7,347.0l.6,0l8.3,-.4l6.9,-.4l5.6,-.7l4.6,-1.1l3.8,-1.5l3.1,-2.3l2.6,-3.2l2,-4.5l1.7,-6.2l1.4,-8.4l1.2,-10.8l.9,-13.1l.8,-15l.7,-17.8l.7,-22l.7,-24.2l.7,-20.5l.7,-8.3l.7,3.9l.7,8.3l.7,11.1l.7,12.5l.7,12.5l.8,12.9l.9,13.6l1.2,13.7l1.3,12.6l1.8,11.3l2,9.7l2.6,8.1l3.1,6.8l3.8,5.7l4.6,4.7l5.6,3.9l6.9,3.1l8.3,2.4l10.2,1.7l12.5,1.1l4.4,.2" stroke="#46c1d8"/>
<path d="M315.2,345.8l5.7,-.2l6.8,-.4l5.6,-.6l4.6,-.9l3.8,-1.3l3.1,-2l2.6,-2.7l2,-3.9l1.7,-5.4l1.4,-7.2l1.2,-9.3l.9,-11.3l.8,-12.9l.7,-15.4l.7,-19l.7,-20.9l.7,-17.6l.7,-7.2l.7,6l.7,13.7l.7,16.5l.7,15.8l.7,13.4l.8,11.8l.9,10.8l1.2,9.5l1.3,7.9l1.8,6.4l2,5.3l2.6,4.4l3.1,3.6l3.8,3.2l4.6,2.6l5.6,2.3l6.8,1.8l8.4,1.4l10.2,1l9.4,.5" stroke="#399e39"/>
<path d="M313.2,347.1l4,-.2l6.9,-.3l5.6,-.6l4.6,-.9l3.8,-1.2l3.1,-1.8l2.6,-2.5l2,-3.7l1.8,-5l1.3,-6.7l1.2,-8.6l.9,-10.6l.8,-12l.7,-14.3l.7,-17.7l.7,-19.4l.7,-16.4l.7,-6.7l.7,5.6l.7,13.4l.7,16.4l.7,15.5l.7,13.2l.8,11.6l.9,10.5l1.2,9l1.4,7.4l1.7,5.9l2,4.6l2.6,3.7l3.1,2.8l3.8,2.4l4.6,1.9l5.6,1.5l6.9,1.2l8.3,1l9.6,.6" stroke="#287676"/>
<path d="M302.7,346.7l2.5,0l10.2,-.4l8.4,-.5l6.8,-.7l5.6,-1.2l4.6,-1.6l3.8,-2.3l3.1,-3.4l2.6,-4.7l2,-6.4l1.8,-8.6l1.3,-10.7l1.2,-12.9l.9,-14.5l.8,-14.9l.7,-16l.7,-17.3l.7,-16.7l.7,-12.5l.7,-4.7l.7,2.5l.7,4.6l.7,6.3l.7,7.6l.7,8.3l.8,9.4l.9,11.2l1.2,12.6l1.4,13.2l1.7,13.1l2,12l2.6,10.6l3.1,9l3.8,7.5l4.6,6.1l5.6,4.8l6.9,3.8l8.3,2.8l10.2,2l12.5,1.3l14,.8l9.3,.3" stroke="#707070"/>
<path d="M330.6,346.2l3,-.1l6.8,-.3l5.6,-.6l4.6,-.8l3.8,-1.1l3.1,-1.7l2.6,-2.5l2,-3.4l1.8,-4.8l1.3,-6.3l1.2,-8.2l.9,-10l.8,-11.4l.7,-13.6l.7,-16.8l.7,-18.4l.7,-15.6l.7,-6.3l.7,5.4l.7,13l.7,16l.7,15.2l.7,12.9l.8,11.2l.9,10.2l1.2,8.7l1.4,7l1.7,5.5l2,4.3l2.6,3.2l3.1,2.5l3.8,1.9l4.6,1.6l5.6,1.1l6.8,1l8.4,.6l1.4,.1" stroke="#c84141"/>
<path d="M336.0,345.8l3.4,-.1l6.9,-.4l5.6,-.6l4.6,-.8l3.8,-1.2l3.1,-1.7l2.6,-2.5l2,-3.5l1.8,-4.9l1.3,-6.5l1.2,-8.4l.9,-10.3l.8,-11.7l.7,-13.9l.7,-17.2l.7,-18.8l.7,-16l.7,-6.5l.7,5.5l.7,13.2l.7,16l.7,15.3l.7,13l.8,11.3l.9,10.4l1.2,8.8l1.3,7.2l1.8,5.7l2,4.4l2.6,3.5l3.1,2.7l3.8,2.1l4.6,1.8l5.6,1.3l6.9,1.1l8.3,.9l6.5,.4" stroke="#7b3eb3"/>
<path d="M338.1,346.8l3.3,-.1l6.8,-.4l5.6,-.5l4.6,-.8l3.8,-1.2l3.1,-1.7l2.6,-2.5l2,-3.5l1.7,-4.8l1.4,-6.5l1.2,-8.3l.9,-10.1l.8,-11.6l.7,-13.7l.7,-17l.7,-18.7l.7,-15.8l.7,-6.4l.7,5.4l.7,13.2l.7,16.1l.7,15.3l.7,13l.8,11.3l.9,10.3l1.2,8.8l1.3,7.1l1.8,5.6l2,4.4l2.6,3.3l3.1,2.6l3.8,2l4.6,1.6l5.6,1.2l6.8,1l8.4,.7l3.3,.2" stroke="#d570b3"/>
<path d="M341.2,347.1l3.6,-.2l6.8,-.3l5.6,-.6l4.6,-.8l3.8,-1.2l3.1,-1.8l2.6,-2.5l2,-3.5l1.8,-4.9l1.3,-6.5l1.2,-8.5l.9,-10.3l.8,-11.7l.7,-14l.7,-17.2l.7,-18.9l.7,-16.1l.7,-6.5l.7,5.5l.7,13.3l.7,16.2l.7,15.4l.7,13.1l.8,11.4l.9,10.4l1.2,8.9l1.4,7.2l1.7,5.7l2,4.4l2.6,3.5l3.1,2.6l3.8,2.2l4.6,1.7l5.6,1.3l6.9,1.1l8.3,.8l5.7,.3" stroke="#3944b4"/>
<path d="M344.7,345.2l2.9,-.1l6.8,-.3l5.6,-.6l4.6,-.8l3.8,-1.1l3.1,-1.7l2.6,-2.4l2,-3.5l1.8,-4.7l1.3,-6.3l1.2,-8.2l.9,-9.9l.8,-11.4l.7,-13.5l.7,-16.7l.7,-18.3l.7,-15.5l.7,-6.3l.7,5.3l.7,13l.7,15.9l.7,15.1l.7,12.7l.8,11.2l.9,10.1l1.2,8.7l1.4,6.9l1.7,5.5l2,4.3l2.6,3.2l3.1,2.5l3.8,1.9l4.6,1.6l5.6,1.2l6.8,.9l8.4,.7l1.9,.1" stroke="#287676"/>
<path d="M345.5,346.5l4.4,-.2l6.8,-.4l5.6,-.6l4.6,-.8l3.8,-1.3l3.1,-1.8l2.6,-2.6l2,-3.7l1.7,-5.1l1.4,-6.8l1.2,-8.8l.9,-10.7l.8,-12.2l.7,-14.6l.7,-17.9l.7,-19.7l.7,-16.7l.7,-6.8l.7,5.7l.7,13.5l.7,16.3l.7,15.6l.7,13.2l.8,11.6l.9,10.6l1.2,9.1l1.3,7.5l1.8,6l2,4.8l2.6,3.8l3.1,3.1l3.8,2.5l4.6,2.1l5.6,1.7l6.8,1.3l8.4,1.1l10.2,.7l2.2,.1" stroke="#d58638"/>
<path d="M356.1,345.0l.8,0l6.8,-.3l5.6,-.5l4.6,-.7l3.8,-1.1l3.1,-1.5l2.6,-2.2l2,-3.1l1.7,-4.3l1.4,-5.6l1.2,-7.4l.9,-9l.8,-10.2l.7,-12.2l.7,-15l.7,-16.5l.7,-14l.7,-5.7l.7,4.9l.7,12.3l.7,15.1l.7,14.5l.7,12.1l.8,10.6l.9,9.5l1.2,8.1l1.3,6.3l1.8,4.8l2,3.6l2.6,2.5l3.1,1.8l3.8,1.2l4.6,.9l5.6,.5l6.8,.4l4,.2" stroke="#8be5e5"/>
<path d="M357.1,345.2l2.3,-.1l6.9,-.4l5.6,-.5l4.6,-.8l3.8,-1.1l3.1,-1.7l2.6,-2.3l2,-3.3l1.8,-4.7l1.3,-6.1l1.2,-8l.9,-9.7l.8,-11l.7,-13.2l.7,-16.2l.7,-17.9l.7,-15.1l.7,-6.1l.7,5.2l.7,12.8l.7,15.7l.7,15l.7,12.6l.8,11l.9,10l1.2,8.5l1.3,6.8l1.8,5.3l2,4l2.6,3.1l3.1,2.3l3.8,1.7l4.6,1.3l5.6,1.1l6.9,.8l4.5,.3" stroke="#707070"/>
<path d="M358.7,346.3l3.7,-.1l6.9,-.4l5.6,-.6l4.6,-.8l3.8,-1.2l3.1,-1.8l2.6,-2.5l2,-3.6l1.8,-4.9l1.3,-6.6l1.2,-8.5l.9,-10.4l.8,-11.8l.7,-14.1l.7,-17.4l.7,-19.1l.7,-16.2l.7,-6.6l.7,5.6l.7,13.2l.7,16.2l.7,15.4l.7,13.1l.8,11.4l.9,10.4l1.2,9l1.3,7.2l1.8,5.8l2,4.5l2.6,3.6l3.1,2.8l3.8,2.2l4.6,1.8l5.6,1.5l6.9,1.1l8.3,.9l8,.5" stroke="#707070"/>
<path d="M361.9,346.1l3.7,-.1l6.8,-.4l5.6,-.5l4.6,-.9l3.8,-1.2l3.1,-1.7l2.6,-2.6l2,-3.5l1.8,-5l1.3,-6.5l1.2,-8.6l.9,-10.3l.8,-11.8l.7,-14.1l.7,-17.4l.7,-19.1l.7,-16.1l.7,-6.6l.7,5.6l.7,13.2l.7,16.2l.7,15.4l.7,13l.8,11.4l.9,10.4l1.2,8.9l1.4,7.3l1.7,5.8l2,4.5l2.6,3.5l3.1,2.8l3.8,2.2l4.6,1.8l5.6,1.5l6.8,1.1l8.4,.9l8,.5" stroke="#399e39"/>
<path d="M365.3,346.0l3.5,-.1l6.8,-.4l5.6,-.6l4.6,-.8l3.8,-1.2l3.1,-1.7l2.6,-2.5l2,-3.5l1.8,-4.9l1.3,-6.5l1.2,-8.4l.9,-10.3l.8,-11.7l.7,-13.9l.7,-17.2l.7,-18.8l.7,-16l.7,-6.5l.7,5.5l.7,13.2l.7,16.1l.7,15.3l.7,13l.8,11.3l.9,10.3l1.2,8.9l1.4,7.1l1.7,5.8l2,4.4l2.6,3.4l3.1,2.7l3.8,2.2l4.6,1.7l5.6,1.4l6.9,1.1l8.3,.8l6.3,.4" stroke="#7b3eb3"/>
<path d="M366.4,345.7l3.5,-.1l6.9,-.4l5.6,-.5l4.6,-.9l3.8,-1.2l3.1,-1.7l2.6,-2.5l2,-3.6l1.7,-4.9l1.4,-6.5l1.2,-8.5l.9,-10.3l.8,-11.7l.7,-14.1l.7,-17.2l.7,-19l.7,-16.1l.7,-6.5l.7,5.5l.7,13.2l.7,16.1l.7,15.3l.7,13l.8,11.4l.9,10.3l1.2,8.9l1.4,7.2l1.7,5.8l2,4.5l2.6,3.5l3.1,2.7l3.8,2.2l4.6,1.8l5.6,1.4l6.9,1.2l8.3,.8l7.6,.5" stroke="#287676"/>
<path d="M367.6,345.8l4,-.1l6.8,-.4l5.6,-.6l4.6,-.8l3.8,-1.2l3.1,-1.8l2.6,-2.6l2,-3.6l1.8,-5l1.3,-6.6l1.2,-8.7l.9,-10.4l.8,-12l.7,-14.3l.7,-17.6l.7,-19.3l.7,-16.4l.7,-6.6l.7,5.6l.7,13.3l.7,16.2l.7,15.4l.7,13.1l.8,11.5l.9,10.4l1.2,9l1.4,7.4l1.7,5.8l2,4.7l2.6,3.6l3.1,2.9l3.8,2.4l4.6,1.9l5.6,1.6l6.8,1.2l8.4,1l10.2,.7" stroke="#3944b4"/>
<path d="M373.0,345.9l3.4,-.1l6.9,-.4l5.6,-.5l4.6,-.9l3.8,-1.1l3.1,-1.8l2.6,-2.5l2,-3.5l1.8,-4.9l1.3,-6.5l1.2,-8.4l.9,-10.2l.8,-11.6l.7,-13.9l.7,-17.2l.7,-18.8l.7,-15.9l.7,-6.5l.7,5.5l.7,13.1l.7,16.1l.7,15.3l.7,13l.8,11.3l.9,10.3l1.2,8.9l1.3,7.1l1.8,5.7l2,4.4l2.6,3.4l3.1,2.7l3.8,2.1l4.6,1.8l5.6,1.3l6.9,1.1l8.3,.8l6,.4" stroke="#7b3eb3"/>
<path d="M376.4,345.8l3.7,-.2l6.8,-.3l5.6,-.6l4.6,-.8l3.8,-1.2l3.1,-1.8l2.6,-2.5l2,-3.6l1.8,-4.9l1.3,-6.6l1.2,-8.5l.9,-10.3l.8,-11.8l.7,-14.1l.7,-17.3l.7,-19l.7,-16.2l.7,-6.5l.7,5.5l.7,13.3l.7,16.1l.7,15.3l.7,13.1l.8,11.3l.9,10.4l1.2,8.9l1.4,7.2l1.7,5.8l2,4.5l2.6,3.5l3.1,2.8l3.8,2.3l4.6,1.8l5.6,1.4l6.8,1.2l8.4,.9l8.1,.5" stroke="#d570b3"/>
<path d="M379.7,345.1l2.7,-.1l6.9,-.4l5.6,-.5l4.6,-.8l3.8,-1.2l3.1,-1.7l2.6,-2.4l2,-3.4l1.8,-4.7l1.3,-6.3l1.2,-8.1l.9,-9.8l.8,-11.3l.7,-13.5l.7,-16.5l.7,-18.2l.7,-15.4l.7,-6.3l.7,5.3l.7,12.9l.7,15.8l.7,15.1l.7,12.7l.8,11.1l.9,10.1l1.2,8.6l1.3,7l1.8,5.4l2,4.2l2.6,3.2l3.1,2.4l3.8,2l4.6,1.4l5.6,1.2l6.9,.9l8.3,.7l.9,0" stroke="#b9925a"/>
<path d="M384.5,346.0l1.4,0l6.9,-.4l5.6,-.5l4.6,-.7l3.8,-1.1l3.1,-1.6l2.6,-2.2l2,-3.2l1.7,-4.4l1.4,-5.9l1.2,-7.6l.9,-9.3l.8,-10.6l.7,-12.6l.7,-15.5l.7,-17.1l.7,-14.4l.7,-5.9l.7,5l.7,12.6l.7,15.5l.7,14.7l.7,12.4l.8,10.8l.9,9.8l1.2,8.2l1.4,6.5l1.7,5.1l2,3.7l2.6,2.7l3.1,2l3.8,1.4l4.6,1l5.6,.7l6.9,.5l4.2,.2" stroke="#d570b3"/>
<path d="M386.3,346.2l3.9,-.1l6.9,-.4l5.6,-.6l4.6,-.8l3.8,-1.3l3.1,-1.7l2.6,-2.6l2,-3.6l1.8,-5l1.3,-6.6l1.2,-8.7l.9,-10.4l.8,-12l.7,-14.3l.7,-17.5l.7,-19.3l.7,-16.4l.7,-6.6l.7,5.6l.7,13.3l.7,16.2l.7,15.5l.7,13.1l.8,11.5l.9,10.4l1.2,9l1.4,7.4l1.7,5.8l2,4.6l2.6,3.7l3.1,2.8l3.8,2.4l4.6,1.9l5.6,1.5l6.9,1.2l8.3,1l9.7,.6" stroke="#c84141"/>
<path d="M388.7,345.5l3.1,-.1l6.8,-.3l5.6,-.6l4.6,-.8l3.8,-1.1l3.1,-1.8l2.6,-2.4l2,-3.5l1.8,-4.8l1.3,-6.3l1.2,-8.3l.9,-10l.8,-11.5l.7,-13.7l.7,-16.9l.7,-18.4l.7,-15.7l.7,-6.4l.7,5.4l.7,13l.7,16l.7,15.2l.7,12.8l.8,11.3l.9,10.2l1.2,8.7l1.4,7l1.7,5.6l2,4.3l2.6,3.3l3.1,2.6l3.8,2l4.6,1.6l5.6,1.2l6.9,1l8.3,.8l3.6,.2" stroke="#7b3eb3"/>
<path d="M391.9,346.6l3.3,-.1l6.9,-.4l5.6,-.5l4.6,-.8l3.8,-1.2l3.1,-1.8l2.6,-2.4l2,-3.6l1.8,-4.8l1.3,-6.5l1.2,-8.4l.9,-10.2l.8,-11.6l.7,-13.9l.7,-17.1l.7,-18.8l.7,-15.9l.7,-6.5l.7,5.5l.7,13.2l.7,16.1l.7,15.4l.7,13l.8,11.3l.9,10.3l1.2,8.9l1.4,7.1l1.7,5.7l2,4.4l2.6,3.4l3.1,2.6l3.8,2.1l4.6,1.6l5.6,1.4l6.9,1l8.3,.8l4.9,.3" stroke="#7c7c2e"/>
<path d="M396.8,346.5l3.1,-.1l6.8,-.4l5.6,-.5l4.6,-.8l3.8,-1.2l3.1,-1.7l2.6,-2.5l2,-3.4l1.7,-4.8l1.4,-6.4l1.2,-8.3l.9,-10.1l.8,-11.4l.7,-13.7l.7,-16.9l.7,-18.5l.7,-15.7l.7,-6.4l.7,5.4l.7,13.1l.7,16l.7,15.3l.7,12.9l.8,11.3l.9,10.2l1.2,8.8l1.3,7l1.8,5.6l2,4.3l2.6,3.3l3.1,2.5l3.8,2l4.6,1.6l5.6,1.2l6.8,.9l8.4,.7l2.5,.2" stroke="#707070"/>
<path d="M401.8,345.0l2.8,-.1l6.8,-.4l5.6,-.5l4.6,-.8l3.8,-1.2l3.1,-1.6l2.6,-2.4l2,-3.4l1.8,-4.8l1.3,-6.2l1.2,-8.1l.9,-9.9l.8,-11.3l.7,-13.4l.7,-16.6l.7,-18.1l.7,-15.4l.7,-6.3l.7,5.3l.7,12.9l.7,15.8l.7,15.1l.7,12.7l.8,11.1l.9,10.1l1.2,8.6l1.4,6.9l1.7,5.4l2,4.2l2.6,3.2l3.1,2.5l3.8,1.9l4.6,1.5l5.6,1.1l6.8,.9l8.4,.7l.9,0" stroke="#8e5634"/>
<path d="M403.3,346.0l3.9,-.1l6.9,-.4l5.6,-.6l4.6,-.8l3.8,-1.3l3.1,-1.7l2.6,-2.6l2,-3.6l1.8,-5l1.3,-6.6l1.2,-8.6l.9,-10.5l.8,-11.9l.7,-14.2l.7,-17.6l.7,-19.2l.7,-16.4l.7,-6.6l.7,5.6l.7,13.3l.7,16.2l.7,15.4l.7,13.1l.8,11.5l.9,10.4l1.2,9l1.4,7.3l1.7,5.9l2,4.6l2.6,3.6l3.1,2.9l3.8,2.3l4.6,1.9l5.6,1.5l6.9,1.2l8.3,1l9.7,.6" stroke="#7b3eb3"/>
<path d="M407.4,345.9l4,-.1l6.9,-.4l5.6,-.6l4.6,-.8l3.8,-1.2l3.1,-1.8l2.6,-2.6l2,-3.6l1.8,-5l1.3,-6.7l1.2,-8.7l.9,-10.5l.8,-12l.7,-14.3l.7,-17.6l.7,-19.4l.7,-16.4l.7,-6.7l.7,5.6l.7,13.3l.7,16.3l.7,15.4l.7,13.2l.8,11.4l.9,10.5l1.2,9l1.3,7.3l1.8,6l2,4.6l2.6,3.7l3.1,2.9l3.8,2.4l4.6,1.9l5.6,1.6l6.9,1.3l8.3,1l10.2,.6l.3,.1" stroke="#287676"/>
<path d="M408.9,347.1l5,-.1l6.8,-.4l5.6,-.6l4.6,-.9l3.8,-1.3l3.1,-1.9l2.6,-2.7l2,-3.7l1.7,-5.3l1.4,-7l1.2,-9l.9,-11l.8,-12.6l.7,-15l.7,-18.4l.7,-20.3l.7,-17.1l.7,-7l.7,5.9l.7,13.6l.7,16.5l.7,15.8l.7,13.4l.8,11.7l.9,10.8l1.2,9.3l1.3,7.7l1.8,6.2l2,5l2.6,4l3.1,3.3l3.8,2.8l4.6,2.3l5.6,1.9l6.8,1.5l8.4,1.2l10.2,.8l5.2,.3" stroke="#399e39"/>
<path d="M414.1,346.2l2.8,-.1l6.9,-.3l5.6,-.6l4.6,-.8l3.8,-1.1l3.1,-1.7l2.6,-2.4l2,-3.4l1.7,-4.8l1.4,-6.3l1.2,-8.1l.9,-9.9l.8,-11.4l.7,-13.4l.7,-16.7l.7,-18.2l.7,-15.5l.7,-6.3l.7,5.3l.7,13l.7,16l.7,15.1l.7,12.9l.8,11.1l.9,10.2l1.2,8.7l1.4,6.9l1.7,5.5l2,4.2l2.6,3.2l3.1,2.4l3.8,1.9l4.6,1.4l5.6,1.2l6.9,.8l8.2,.7" stroke="#e0da54"/>
<path d="M415.5,345.9l2.9,-.1l6.9,-.4l5.6,-.6l4.6,-.7l3.8,-1.2l3.1,-1.7l2.6,-2.5l2,-3.4l1.8,-4.8l1.3,-6.3l1.2,-8.3l.9,-10l.8,-11.4l.7,-13.6l.7,-16.8l.7,-18.4l.7,-15.7l.7,-6.3l.7,5.4l.7,13l.7,16l.7,15.2l.7,12.8l.8,11.2l.9,10.2l1.2,8.7l1.3,7l1.8,5.6l2,4.2l2.6,3.3l3.1,2.5l3.8,2l4.6,1.6l5.6,1.2l6.9,.9l8.3,.7l2.4,.2" stroke="#3944b4"/>
<path d="M416.1,347.1l4,-.1l6.8,-.4l5.6,-.6l4.6,-.8l3.8,-1.2l3.1,-1.8l2.6,-2.6l2,-3.6l1.8,-5l1.3,-6.7l1.2,-8.6l.9,-10.5l.8,-12l.7,-14.3l.7,-17.6l.7,-19.3l.7,-16.4l.7,-6.6l.7,5.6l.7,13.4l.7,16.3l.7,15.6l.7,13.1l.8,11.6l.9,10.5l1.2,9l1.4,7.3l1.7,5.9l2,4.6l2.6,3.6l3.1,2.9l3.8,2.3l4.6,1.8l5.6,1.5l6.8,1.2l8.4,.9l9,.6" stroke="#46c1d8"/>
<path d="M420.1,345.8l3.7,-.1l6.8,-.4l5.6,-.6l4.6,-.8l3.8,-1.2l3.1,-1.8l2.6,-2.5l2,-3.5l1.8,-5l1.3,-6.5l1.2,-8.5l.9,-10.3l.8,-11.8l.7,-14l.7,-17.4l.7,-19l.7,-16.1l.7,-6.5l.7,5.5l.7,13.2l.7,16.1l.7,15.4l.7,13l.8,11.4l.9,10.3l1.2,8.9l1.4,7.2l1.7,5.8l2,4.5l2.6,3.5l3.1,2.8l3.8,2.2l4.6,1.8l5.6,1.5l6.9,1.1l8.3,.9l7.8,.5" stroke="#399e39"/>
<path d="M422.2,345.7l3.7,-.1l6.9,-.4l5.6,-.5l4.6,-.9l3.8,-1.2l3.1,-1.7l2.6,-2.6l2,-3.5l1.7,-5l1.4,-6.6l1.2,-8.5l.9,-10.4l.8,-11.9l.7,-14.1l.7,-17.4l.7,-19.1l.7,-16.2l.7,-6.6l.7,5.6l.7,13.2l.7,16.1l.7,15.4l.7,13.1l.8,11.4l.9,10.3l1.2,9l1.4,7.2l1.7,5.8l2,4.6l2.6,3.6l3.1,2.8l3.8,2.3l4.6,1.8l5.6,1.5l6.9,1.2l8.3,.9l8.8,.6" stroke="#707070"/>
<path d="M424.4,347.0l3.7,-.1l6.9,-.4l5.6,-.5l4.6,-.9l3.8,-1.2l3.1,-1.7l2.6,-2.6l2,-3.5l1.7,-5l1.4,-6.5l1.2,-8.6l.9,-10.3l.8,-11.8l.7,-14.1l.7,-17.4l.7,-19.1l.7,-16.1l.7,-6.6l.7,5.6l.7,13.3l.7,16.2l.7,15.5l.7,13.1l.8,11.4l.9,10.4l1.2,9l1.3,7.2l1.8,5.8l2,4.5l2.6,3.5l3.1,2.7l3.8,2.2l4.6,1.8l5.6,1.4l6.8,1.1l8.4,.9l7,.4" stroke="#383838"/>
<path d="M427.3,345.8l3.8,-.2l6.9,-.4l5.6,-.5l4.6,-.9l3.8,-1.2l3.1,-1.8l2.6,-2.5l2,-3.6l1.7,-5l1.4,-6.6l1.2,-8.6l.9,-10.4l.8,-11.9l.7,-14.3l.7,-17.5l.7,-19.2l.7,-16.3l.7,-6.6l.7,5.6l.7,13.3l.7,16.1l.7,15.4l.7,13.1l.8,11.4l.9,10.4l1.2,9l1.3,7.3l1.8,5.9l2,4.5l2.6,3.7l3.1,2.8l3.8,2.4l4.6,1.9l5.6,1.5l6.8,1.2l8.4,.9l9.6,.7" stroke="#a8a8a8"/>
<path d="M432.3,346.1l3.9,-.1l6.9,-.4l5.6,-.6l4.6,-.8l3.8,-1.2l3.1,-1.8l2.6,-2.6l2,-3.6l1.8,-5l1.3,-6.6l1.2,-8.6l.9,-10.5l.8,-11.9l.7,-14.3l.7,-17.6l.7,-19.2l.7,-16.4l.7,-6.6l.7,5.6l.7,13.3l.7,16.2l.7,15.5l.7,13.1l.8,11.4l.9,10.5l1.2,9l1.4,7.3l1.7,5.9l2,4.6l2.6,3.6l3.1,2.9l3.8,2.3l4.6,1.9l5.6,1.5l6.9,1.3l8.3,.9l9.7,.6" stroke="#b9925a"/>
<path d="M436.6,345.6l4,-.1l6.8,-.4l5.6,-.5l4.6,-.9l3.8,-1.2l3.1,-1.8l2.6,-2.5l2,-3.6l1.8,-5l1.3,-6.7l1.2,-8.6l.9,-10.4l.8,-11.9l.7,-14.3l.7,-17.5l.7,-19.3l.7,-16.3l.7,-6.6l.7,5.6l.7,13.3l.7,16.1l.7,15.4l.7,13.1l.8,11.4l.9,10.5l1.2,8.9l1.4,7.3l1.7,5.9l2,4.6l2.6,3.6l3.1,2.9l3.8,2.4l4.6,1.9l5.6,1.5l6.8,1.3l8.4,.9l10,.7" stroke="#287676"/>
<path d="M441.7,346.4l4.2,-.2l6.9,-.4l5.6,-.5l4.6,-.9l3.8,-1.2l3.1,-1.8l2.6,-2.6l2,-3.7l1.7,-5.1l1.4,-6.7l1.2,-8.7l.9,-10.6l.8,-12.2l.7,-14.4l.7,-17.8l.7,-19.6l.7,-16.6l.7,-6.7l.7,5.7l.7,13.4l.7,16.3l.7,15.5l.7,13.2l.8,11.6l.9,10.5l1.2,9.1l1.4,7.4l1.7,6l2,4.7l2.6,3.7l3.1,3l3.8,2.5l4.6,2l5.6,1.6l6.8,1.3l8.4,1l9.8,.7" stroke="#7b3eb3"/>
<path d="M443.4,345.6l4.2,-.2l6.8,-.4l5.6,-.5l4.6,-.9l3.8,-1.2l3.1,-1.8l2.6,-2.6l2,-3.6l1.8,-5l1.3,-6.7l1.2,-8.7l.9,-10.6l.8,-12l.7,-14.4l.7,-17.7l.7,-19.4l.7,-16.5l.7,-6.7l.7,5.6l.7,13.4l.7,16.2l.7,15.4l.7,13.1l.8,11.5l.9,10.5l1.2,9l1.4,7.4l1.7,5.9l2,4.7l2.6,3.7l3.1,3l3.8,2.4l4.6,2l5.6,1.7l6.8,1.3l8.4,1l8.2,.6" stroke="#d570b3"/>
<path d="M447.7,345.5l3.7,-.1l6.9,-.4l5.6,-.6l4.6,-.8l3.8,-1.2l3.1,-1.8l2.6,-2.5l2,-3.6l1.8,-4.9l1.3,-6.6l1.2,-8.5l.9,-10.4l.8,-11.8l.7,-14.1l.7,-17.4l.7,-19.1l.7,-16.1l.7,-6.6l.7,5.6l.7,13.2l.7,16.1l.7,15.3l.7,13l.8,11.4l.9,10.4l1.2,8.9l1.3,7.2l1.8,5.8l2,4.6l2.6,3.5l3.1,2.9l3.8,2.2l4.6,1.9l5.6,1.5l6.8,1.2l8.4,.8l4.3,.4" stroke="#c84141"/>
<path d="M450.5,347.1l4.7,-.2l6.9,-.4l5.6,-.5l4.6,-.9l3.8,-1.3l3.1,-1.8l2.6,-2.7l2,-3.7l1.8,-5.2l1.3,-6.9l1.2,-8.9l.9,-10.9l.8,-12.4l.7,-14.8l.7,-18.2l.7,-20.1l.7,-16.9l.7,-6.9l.7,5.8l.7,13.6l.7,16.4l.7,15.8l.7,13.3l.8,11.7l.9,10.7l1.2,9.2l1.4,7.6l1.7,6.1l2,4.9l2.6,3.9l3.1,3.2l3.8,2.7l4.6,2.1l5.6,1.8l6.9,1.5l8.3,1.1l.5,0" stroke="#3944b4"/>
<path d="M455.4,347.0l3.5,-.1l6.8,-.4l5.6,-.5l4.6,-.8l3.8,-1.2l3.1,-1.8l2.6,-2.5l2,-3.5l1.7,-4.9l1.4,-6.5l1.2,-8.4l.9,-10.2l.8,-11.7l.7,-13.9l.7,-17.2l.7,-18.8l.7,-16l.7,-6.5l.7,5.5l.7,13.2l.7,16.2l.7,15.4l.7,13.1l.8,11.3l.9,10.4l1.2,8.9l1.3,7.1l1.8,5.7l2,4.4l2.6,3.4l3.1,2.7l3.8,2.1l4.6,1.6l5.6,1.4l6.9,1l5.2,.5" stroke="#d570b3"/>
<path d="M457.8,345.6l4.8,-.1l6.8,-.4l5.6,-.6l4.6,-.9l3.8,-1.2l3.1,-1.9l2.6,-2.7l2,-3.7l1.8,-5.2l1.3,-6.9l1.2,-8.9l.9,-10.9l.8,-12.4l.7,-14.8l.7,-18.3l.7,-20l.7,-17l.7,-6.9l.7,5.8l.7,13.5l.7,16.3l.7,15.6l.7,13.3l.8,11.6l.9,10.6l1.2,9.2l1.4,7.6l1.7,6.2l2,4.9l2.6,4l3.1,3.3l3.8,2.7l4.6,2.3l5.6,1.8l6.8,1.6l1.6,.2" stroke="#c84141"/>
<path d="M463.2,345.0l3.7,-.1l6.9,-.4l5.6,-.6l4.6,-.8l3.8,-1.2l3.1,-1.8l2.6,-2.5l2,-3.6l1.7,-4.9l1.4,-6.6l1.2,-8.6l.9,-10.3l.8,-11.9l.7,-14.1l.7,-17.4l.7,-19.1l.7,-16.2l.7,-6.6l.7,5.6l.7,13.1l.7,16.1l.7,15.3l.7,13l.8,11.4l.9,10.3l1.2,9l1.4,7.2l1.7,5.8l2,4.6l2.6,3.6l3.1,2.8l3.8,2.4l4.6,1.8l5.6,1.6l4,.7" stroke="#399e39"/>
<path d="M464.3,346.6l4.1,-.2l6.9,-.3l5.6,-.6l4.6,-.9l3.8,-1.2l3.1,-1.8l2.6,-2.6l2,-3.6l1.8,-5.1l1.3,-6.7l1.2,-8.7l.9,-10.5l.8,-12.1l.7,-14.4l.7,-17.7l.7,-19.5l.7,-16.5l.7,-6.7l.7,5.7l.7,13.3l.7,16.4l.7,15.5l.7,13.2l.8,11.5l.9,10.5l1.2,9.1l1.3,7.4l1.8,5.9l2,4.7l2.6,3.7l3.1,2.9l3.8,2.4l4.6,2l5.6,1.6l2.5,.5" stroke="#7b3eb3"/>
<path d="M467.8,346.1l4.6,-.1l6.8,-.4l5.6,-.6l4.6,-.9l3.8,-1.2l3.1,-1.9l2.6,-2.6l2,-3.7l1.7,-5.2l1.4,-6.8l1.2,-8.9l.9,-10.8l.8,-12.3l.7,-14.7l.7,-18.1l.7,-19.8l.7,-16.9l.7,-6.8l.7,5.8l.7,13.4l.7,16.4l.7,15.6l.7,13.2l.8,11.6l.9,10.6l1.2,9.2l1.3,7.5l1.8,6.1l2,4.9l2.6,3.9l3.1,3.1l3.8,2.6l4.6,2.2l4.2,1.4" stroke="#e0da54"/>
<path d="M444.0,345.8l2.3,0l12.5,-.3l10.2,-.5l8.4,-.8l6.8,-1.1l5.6,-1.5l4.6,-2.3l3.8,-3.3l3.1,-4.5l2.6,-6.1l2,-8.1l1.7,-10.1l1.4,-11.8l1.2,-13l.9,-13.2l.8,-12.4l.7,-12.1l.7,-11.9l.7,-10.3l.7,-7.1l.7,-2.6l.7,2.5l.7,5.7l.7,8l.7,9.4l.7,9.9l.8,10.5l.9,11.8l1.2,12.2l1.3,11.7l1.8,10.6l2,9.2l2.6,7.5l3.1,6.1l3.8,4.8l3.8,3.2" stroke="#707070"/>
<polyline points="40.4,344.9 43.5,345.5 46.5,345.0 49.6,344.6 52.6,345.2 56.2,344.5 58.8,344.5 62.5,345.2 64.5,345.6 68.5,345.2 71.7,344.6 73.7,345.0 75.9,344.6 78.3,344.4 81.3,344.9 85.0,345.0 88.2,345.0 91.6,344.9 94.1,345.6 98.1,345.4 101.5,344.8 104.0,344.7 106.1,345.3 108.9,345.4 111.7,345.5 115.4,344.4 117.8,345.5 120.7,345.6 123.5,344.5 126.8,345.3 129.3,344.5 132.0,345.6 135.5,344.5 138.0,344.5 140.1,345.4 142.5,345.1 145.4,344.6 148.8,344.6 152.1,344.5 155.0,344.7 157.5,345.6 161.1,344.8 164.9,344.7 167.7,345.4 171.0,344.5 174.9,344.7 177.5,345.3 180.1,344.8 182.3,344.5 185.4,344.7 188.6,344.8 191.5,345.6 194.5,345.1 198.2,344.6 200.5,345.5 204.2,344.7 206.6,345.3 210.4,344.6 214.3,345.5 217.6,344.9 219.8,344.4 223.7,344.7 227.1,344.7 230.7,345.1 233.3,344.6 236.8,344.5 239.2,345.1 242.9,345.1 245.5,345.5 247.9,344.4 250.4,344.9 252.6,344.6 255.3,345.1 257.6,344.8 261.3,345.6 264.7,345.2 267.8,344.6 269.9,344.4 273.7,345.2 277.6,344.4 280.9,345.0 284.4,344.8 288.4,344.5 291.5,345.3 295.3,345.3 298.7,345.4 302.5,344.8 305.9,345.5 309.6,344.9 313.2,345.4 316.3,345.1 319.1,345.1 322.3,344.5 325.6,345.6 329.4,345.3 332.1,345.3 335.3,344.9 339.0,344.5 342.5,344.4 345.7,345.0 348.1,345.2 351.1,345.1 355.0,344.7 357.0,344.8 360.4,344.6 362.7,345.5 366.0,344.9 369.8,344.8 373.1,344.6 376.0,345.4 379.8,345.5 382.6,345.1 385.2,344.6 388.2,345.4 391.9,345.3 395.8,344.7 398.2,344.9 400.7,344.7 403.5,345.2 406.5,344.8 410.2,345.6 413.1,344.5 415.2,345.4 417.2,345.3 420.4,344.8 424.0,344.4 426.2,344.9 428.3,345.4 430.8,344.6 432.9,345.2 435.8,345.2 439.1,345.4 443.0,345.2 445.4,345.0 447.7,344.4 450.7,345.3 453.0,344.7 455.7,345.2 458.8,345.1 462.3,344.9 465.9,345.5 468.0,345.5 471.5,344.6 474.4,345.2 478.2,344.9 481.4,345.5 484.9,345.5 487.9,345.2 490.3,345.3 493.9,345.2 497.4,344.7 501.2,345.6 505.1,345.0 508.7,344.8 512.5,345.4 515.2,344.5 518.1,345.1 521.6,345.0 523.7,345.4 525.8,345.4 528.2,344.8 531.7,344.6 534.0,345.0 537.5,345.4 540.2,345.0" stroke="#7050c8" stroke-width="0.80" stroke-opacity="0.40"/>
<polyline points="40.4,346.3 43.4,346.3 45.6,345.5 48.6,345.5 52.1,346.0 55.1,346.2 58.2,345.6 61.0,346.2 64.8,345.4 68.5,346.4 71.5,345.9 73.9,345.8 77.0,345.9 79.0,346.4 82.0,345.7 85.6,345.9 88.6,346.0 90.8,345.8 93.6,346.3 97.4,345.5 100.4,345.4 103.2,346.2 107.0,345.8 109.7,345.4 112.9,346.3 115.2,346.1 117.2,345.4 119.7,346.0 122.3,345.6 125.6,345.3 129.0,345.3 132.0,345.5 134.4,345.8 137.3,345.7 140.1,345.8 142.5,345.4 145.7,346.0 148.8,346.2 152.0,346.2 154.5,346.1 158.1,346.3 160.7,345.6 164.6,345.5 168.6,346.3 170.8,345.5 174.3,345.5 176.5,346.2 179.3,346.1 181.6,345.7 184.9,345.2 187.3,346.0 191.2,346.4 193.4,345.8 196.9,345.8 200.3,345.4 202.4,345.3 204.5,345.9 207.5,345.9 209.8,345.4 212.2,346.2 216.2,346.3 218.4,345.3 222.3,345.8 225.8,345.6 228.8,345.8 231.6,345.9 233.7,346.0 237.3,345.4 240.3,346.1 243.1,345.4 245.4,345.8 247.4,346.3 251.0,346.0 254.8,346.0 257.6,345.9 260.6,346.4 264.2,345.5 268.0,346.1 271.6,346.2 274.4,346.3 278.1,346.0 281.7,346.1 284.5,346.1 286.6,345.6 289.6,345.2 292.3,346.0 295.5,345.5 299.4,346.0 302.1,346.0 305.2,345.8 308.0,346.4 311.3,346.0 314.8,346.4 316.9,345.9 320.3,345.5 323.1,345.3 325.5,345.7 327.7,345.5 331.5,345.9 334.5,346.4 337.7,346.4 341.0,346.2 343.1,345.9 346.6,345.3 350.5,345.4 353.4,345.4 356.4,345.9 358.5,346.3 361.4,345.8 364.6,345.6 367.1,346.0 370.3,345.5 373.7,345.6 375.7,345.5 377.8,345.4 381.3,345.7 385.1,346.1 387.2,346.4 391.1,345.3 394.9,345.7 397.9,346.4 400.4,345.8 404.2,346.1 407.2,346.4 410.8,345.9 413.0,345.9 416.0,345.4 418.1,345.8 420.3,345.7 423.6,345.7 426.2,345.9 429.0,346.1 432.1,346.4 436.0,346.1 438.4,345.3 442.2,346.1 445.5,345.6 448.0,346.0 451.2,345.9 454.4,346.1 456.8,345.5 460.8,346.3 464.5,345.2 466.6,345.5 469.5,345.9 471.7,345.8 473.8,345.3 477.2,345.9 480.5,345.6 483.4,345.5 486.1,346.1 489.8,345.3 492.0,346.2 495.3,346.1 497.7,345.7 500.2,346.2 502.9,346.0 506.9,345.6 510.0,346.1 513.9,345.7 516.6,345.3 520.3,345.3 522.5,345.9 525.5,346.0 528.1,346.1 530.2,345.5 533.6,345.3 536.2,346.1 539.6,345.5 540.2,345.8" stroke="#b03098" stroke-width="0.90" stroke-opacity="0.50"/>
<polyline points="40.4,346.5 43.9,346.5 46.1,346.8 49.2,347.0 53.1,347.0 56.0,346.9 58.6,346.4 61.4,347.0 65.2,346.3 67.9,346.5 70.6,346.5 73.4,346.3 76.5,346.9 79.6,346.9 82.7,346.3 86.3,347.0 88.8,346.1 91.9,346.6 95.0,347.1 98.3,346.9 100.4,346.6 104.0,346.2 106.2,346.8 110.0,346.2 113.2,346.2 116.7,346.7 119.2,346.3 122.7,346.6 126.3,346.5 128.9,347.1 132.3,346.6 135.4,346.8 138.8,347.0 141.6,346.9 144.9,347.0 148.5,346.9 152.3,347.1 155.6,346.6 159.0,346.9 161.9,346.5 164.2,346.8 168.1,346.5 170.5,346.3 173.3,346.4 177.3,346.2 179.9,346.2 183.2,346.9 185.5,346.2 188.5,346.7 192.3,346.1 194.5,346.3 196.9,346.3 200.4,346.7 202.8,346.3 205.4,346.3 208.9,346.4 212.0,346.9 214.9,346.4 218.7,347.0 221.4,346.6 225.3,346.6 227.8,346.1 231.6,346.9 234.4,346.6 237.4,346.4 241.4,346.8 243.9,346.1 246.9,346.5 250.4,346.8 253.7,346.3 256.0,346.4 258.5,347.0 261.5,346.7 265.5,346.4 268.6,346.3 272.1,346.1 275.8,346.9 279.4,346.2 281.9,346.8 284.1,346.6 287.1,347.1 290.2,347.0 292.9,346.9 295.7,347.0 297.9,346.9 300.3,346.6 303.3,346.3 307.0,346.4 309.6,346.2 312.2,346.6 315.7,346.5 319.0,346.2 321.8,346.6 325.8,346.9 329.1,346.1 331.8,346.8 334.3,346.7 337.2,346.1 341.2,346.9 343.6,346.7 346.2,346.5 349.3,346.4 351.9,346.5 355.3,346.4 357.7,346.8 360.3,347.0 363.5,346.8 366.1,346.9 368.3,346.2 370.5,346.8 373.9,346.3 376.7,346.9 379.9,346.2 382.4,346.3 384.6,346.5 386.8,347.0 389.6,346.6 392.9,346.9 396.5,346.5 399.2,346.5 401.2,346.5 404.6,347.1 408.2,346.8 411.4,346.1 414.1,346.4 417.4,346.2 420.2,346.6 423.7,346.9 427.0,346.3 430.5,347.0 433.6,346.5 436.6,346.2 440.0,347.1 443.0,346.8 446.7,346.3 450.6,346.7 453.0,346.2 455.5,346.7 458.9,346.4 462.7,346.5 465.7,346.2 469.6,346.2 473.4,346.6 476.5,346.7 479.1,347.0 483.1,346.9 486.3,346.2 489.9,346.4 493.7,346.3 496.9,346.9 499.2,346.6 501.4,346.1 503.7,347.1 507.6,346.8 510.2,346.8 513.7,346.5 516.9,346.9 518.9,346.3 521.9,346.2 524.6,346.7 527.0,346.6 529.5,346.7 532.2,346.7 534.2,346.8 536.5,347.1 539.7,346.6 540.2,346.6" stroke="#8a28b8" stroke-width="1.00" stroke-opacity="0.65"/>
<polyline points="40.4,347.5 43.8,347.6 47.3,347.4 51.3,347.7 55.0,347.3 57.8,347.5 61.7,347.4 64.7,347.3 68.5,347.3 70.6,347.6 74.4,347.6 77.6,347.6 80.2,347.5 82.4,347.1 85.3,347.4 88.1,347.0 91.4,347.4 93.9,347.2 96.7,347.2 98.9,347.7 102.8,347.5 106.5,347.3 110.1,347.2 113.6,347.5 117.4,347.1 121.0,347.1 124.1,347.8 126.1,347.2 128.7,347.3 130.8,347.7 134.4,347.3 137.2,347.5 139.3,347.0 143.0,347.2 146.0,347.7 150.0,347.4 152.4,347.2 156.3,347.7 158.7,347.7 161.4,347.4 163.7,347.7 167.7,347.2 171.0,347.2 174.7,347.0 176.9,347.6 179.6,347.7 183.3,347.6 185.6,347.6 189.4,347.4 191.6,347.2 194.2,347.6 196.6,347.1 199.1,347.5 202.7,347.3 206.0,347.7 209.2,347.2 211.8,347.7 215.1,347.2 218.4,347.1 222.3,347.4 225.4,347.4 227.5,347.5 230.1,347.2 233.7,347.1 236.2,347.6 238.7,347.2 241.8,347.1 245.6,347.8 247.7,347.4 251.2,347.3 255.0,347.4 257.4,347.4 260.7,347.3 264.0,347.6 267.0,347.4 270.7,347.5 273.8,347.8 276.1,347.6 278.5,347.5 280.9,347.4 284.5,347.6 288.1,347.2 291.0,347.2 294.2,347.4 296.3,347.5 299.7,347.5 303.4,347.1 305.7,347.0 308.7,347.3 311.6,347.2 315.2,347.1 319.0,347.5 322.1,347.6 324.6,347.1 327.2,347.0 329.8,347.5 332.9,347.2 336.1,347.1 339.7,347.1 342.2,347.1 345.6,347.7 349.2,347.0 352.0,347.3 354.4,347.8 356.5,347.4 360.0,347.8 362.3,347.4 365.8,347.0 368.3,347.7 370.6,347.3 373.2,347.3 375.3,347.0 379.3,347.6 382.8,347.2 385.3,347.4 387.8,347.4 391.6,347.3 394.3,347.8 397.5,347.0 400.3,347.5 402.5,347.3 405.9,347.7 409.0,347.7 412.0,347.3 415.6,347.3 419.2,347.2 421.9,347.1 425.0,347.1 427.4,347.2 430.3,347.2 433.2,347.8 436.6,347.7 439.0,347.3 441.2,347.6 443.9,347.2 445.9,347.1 448.4,347.3 452.3,347.6 454.8,347.3 457.1,347.7 459.9,347.6 463.3,347.7 465.3,347.3 468.1,347.1 471.9,347.3 475.4,347.4 477.5,347.3 480.0,347.0 482.3,347.5 484.4,347.2 487.2,347.4 489.5,347.6 492.0,347.6 495.3,347.1 497.7,347.2 501.2,347.3 503.9,347.7 506.4,347.2 509.1,347.2 511.2,347.0 514.4,347.5 518.0,347.8 520.6,347.5 524.5,347.2 527.9,347.5 531.8,347.7 534.2,347.5 536.4,347.3 539.2,347.0 540.2,347.4" stroke="#5a1a90" stroke-width="1.10" stroke-opacity="0.75"/>
<polyline points="40.4,347.9 43.4,347.9 45.7,347.9 48.7,347.8 52.0,347.8 54.2,347.9 57.0,347.8 60.2,348.1 63.3,348.1 65.3,347.9 68.1,347.7 70.9,347.7 73.9,348.1 76.8,347.9 79.3,347.7 82.0,348.2 85.1,347.9 88.5,347.8 91.4,348.1 95.3,347.9 98.5,348.3 102.0,348.1 105.3,347.9 108.1,347.9 111.8,348.2 114.5,348.2 116.6,347.8 119.6,347.9 122.3,348.3 124.6,347.8 127.1,348.1 129.6,347.7 132.6,347.9 135.1,348.0 138.4,348.0 141.7,348.0 145.3,348.3 148.0,347.9 151.8,347.9 155.2,348.1 158.6,348.3 162.2,347.8 165.5,348.0 168.6,347.9 171.2,348.1 174.2,347.8 176.7,347.9 179.1,348.0 181.3,347.7 183.5,347.8 186.9,347.8 189.8,348.2 192.8,347.8 196.5,348.2 198.6,347.9 201.6,348.2 204.4,348.1 206.9,348.1 209.5,347.9 213.1,348.2 216.7,348.0 219.6,348.1 222.8,348.2 226.4,347.8 229.2,348.1 231.6,347.8 233.7,348.1 237.5,348.3 239.8,348.1 242.6,348.1 245.4,348.3 249.4,347.7 252.8,347.8 254.9,347.9 258.4,348.3 260.6,347.9 262.7,348.0 265.6,347.9 268.3,348.2 271.9,347.9 274.7,348.1 278.3,348.3 281.0,348.1 284.1,348.2 286.4,347.8 288.6,348.3 291.1,348.0 293.4,347.9 295.4,348.0 297.7,348.1 300.3,347.8 303.2,347.9 305.7,347.7 307.9,348.2 310.5,347.7 312.8,348.0 316.8,347.8 320.6,348.0 323.4,348.2 326.2,347.7 329.3,348.1 332.5,347.9 336.4,348.2 340.4,348.0 344.1,348.1 346.4,347.7 348.8,347.8 350.9,347.9 354.4,347.9 357.5,347.7 359.9,348.3 361.9,348.0 365.5,348.2 369.0,347.9 372.6,348.2 376.1,348.3 378.3,348.3 381.1,348.1 383.6,348.2 385.7,348.0 388.1,347.9 390.9,348.1 394.5,347.9 397.8,347.9 400.3,348.2 403.0,347.8 405.6,348.1 408.1,348.1 411.2,348.1 413.5,347.8 415.8,347.9 418.7,347.7 421.7,347.9 424.3,348.0 428.2,347.8 432.0,347.9 435.5,347.8 439.5,348.0 443.4,347.8 446.2,348.1 448.6,347.9 451.9,348.3 454.6,347.8 457.3,348.3 459.6,348.1 462.3,348.1 464.7,348.1 468.5,348.2 471.8,348.0 474.9,347.8 478.6,348.1 481.5,348.1 484.3,347.9 486.8,348.1 489.9,348.0 492.0,348.1 494.9,348.1 498.1,348.3 500.4,348.0 504.4,348.1 507.0,348.1 511.0,347.9 514.7,347.8 518.7,348.0 521.2,348.2 524.5,348.3 528.1,348.2 531.1,348.3 533.3,348.2 536.7,347.9 540.2,348.0" stroke="#2a1460" stroke-width="1.00" stroke-opacity="0.80"/>
</g>
<g stroke="#454545" stroke-width="1" fill="none">
<path d="M40.2,161.5 V348.5 H540.2"/>
<path d="M36.2,348.00 H40.2"/>
<path d="M37.7,338.68 H40.2"/>
<path d="M36.2,329.35 H40.2"/>
<path d="M37.7,320.02 H40.2"/>
<path d="M36.2,310.70 H40.2"/>
<path d="M37.7,301.38 H40.2"/>
<path d="M36.2,292.05 H40.2"/>
<path d="M37.7,282.73 H40.2"/>
<path d="M36.2,273.40 H40.2"/>
<path d="M37.7,264.07 H40.2"/>
<path d="M36.2,254.75 H40.2"/>
<path d="M37.7,245.43 H40.2"/>
<path d="M36.2,236.10 H40.2"/>
<path d="M37.7,226.78 H40.2"/>
<path d="M36.2,217.45 H40.2"/>
<path d="M37.7,208.12 H40.2"/>
<path d="M36.2,198.80 H40.2"/>
<path d="M37.7,189.47 H40.2"/>
<path d="M36.2,180.15 H40.2"/>
<path d="M37.7,170.82 H40.2"/>
<path d="M36.2,161.50 H40.2"/>
<path d="M40.40,348.5 V352.5"/>
<path d="M54.40,348.5 V351.0"/>
<path d="M68.40,348.5 V352.5"/>
<path d="M82.90,348.5 V351.0"/>
<path d="M97.40,348.5 V352.5"/>
<path d="M111.85,348.5 V351.0"/>
<path d="M126.30,348.5 V352.5"/>
<path d="M140.75,348.5 V351.0"/>
<path d="M155.20,348.5 V352.5"/>
<path d="M169.60,348.5 V351.0"/>
<path d="M184.00,348.5 V352.5"/>
<path d="M198.35,348.5 V351.0"/>
<path d="M212.70,348.5 V352.5"/>
<path d="M226.10,348.5 V351.0"/>
<path d="M239.50,348.5 V352.5"/>
<path d="M253.75,348.5 V351.0"/>
<path d="M268.00,348.5 V352.5"/>
<path d="M282.35,348.5 V351.0"/>
<path d="M296.70,348.5 V352.5"/>
<path d="M311.15,348.5 V351.0"/>
<path d="M325.60,348.5 V352.5"/>
<path d="M339.80,348.5 V351.0"/>
<path d="M354.00,348.5 V352.5"/>
<path d="M367.20,348.5 V351.0"/>
<path d="M380.40,348.5 V352.5"/>
<path d="M393.75,348.5 V351.0"/>
<path d="M407.10,348.5 V352.5"/>
<path d="M420.35,348.5 V351.0"/>
<path d="M433.60,348.5 V352.5"/>
<path d="M446.95,348.5 V351.0"/>
<path d="M460.30,348.5 V352.5"/>
<path d="M473.50,348.5 V351.0"/>
<path d="M486.70,348.5 V352.5"/>
<path d="M500.05,348.5 V351.0"/>
<path d="M513.40,348.5 V352.5"/>
<path d="M526.80,348.5 V351.0"/>
<path d="M540.20,348.5 V352.5"/>
</g>
<g font-family="Liberation Sans, Arial, sans-serif" font-size="8.5" fill="#3a3a3a" stroke="#3a3a3a" stroke-width="0.25">
<text x="33.2" y="350.90" text-anchor="end">0</text>
<text x="33.2" y="332.25" text-anchor="end">10</text>
<text x="33.2" y="313.60" text-anchor="end">20</text>
<text x="33.2" y="294.95" text-anchor="end">30</text>
<text x="33.2" y="276.30" text-anchor="end">40</text>
<text x="33.2" y="257.65" text-anchor="end">50</text>
<text x="33.2" y="239.00" text-anchor="end">60</text>
<text x="33.2" y="220.35" text-anchor="end">70</text>
<text x="33.2" y="201.70" text-anchor="end">80</text>
<text x="33.2" y="183.05" text-anchor="end">90</text>
<text x="33.2" y="164.40" text-anchor="end">100</text>
<text x="40.40" y="361.8" text-anchor="middle">500</text>
<text x="68.40" y="361.8" text-anchor="middle">510</text>
<text x="97.40" y="361.8" text-anchor="middle">520</text>
<text x="126.30" y="361.8" text-anchor="middle">530</text>
<text x="155.20" y="361.8" text-anchor="middle">540</text>
<text x="184.00" y="361.8" text-anchor="middle">550</text>
<text x="212.70" y="361.8" text-anchor="middle">560</text>
<text x="239.50" y="361.8" text-anchor="middle">570</text>
<text x="268.00" y="361.8" text-anchor="middle">580</text>
<text x="296.70" y="361.8" text-anchor="middle">590</text>
<text x="325.60" y="361.8" text-anchor="middle">600</text>
<text x="354.00" y="361.8" text-anchor="middle">610</text>
<text x="380.40" y="361.8" text-anchor="middle">620</text>
<text x="407.10" y="361.8" text-anchor="middle">630</text>
<text x="433.60" y="361.8" text-anchor="middle">640</text>
<text x="460.30" y="361.8" text-anchor="middle">650</text>
<text x="486.70" y="361.8" text-anchor="middle">660</text>
<text x="513.40" y="361.8" text-anchor="middle">670</text>
<text x="540.20" y="361.8" text-anchor="middle">680</text>
</g>
<text x="271.4" y="377.6" text-anchor="middle" font-family="Liberation Sans, Arial, sans-serif" font-size="10.8" fill="#2a2a2a" stroke="#2a2a2a" stroke-width="0.25">Wavelength [nm]</text>
<text transform="translate(15.9,262) rotate(-90)" text-anchor="middle" font-family="Liberation Sans, Arial, sans-serif" font-size="10.45" fill="#2a2a2a" stroke="#2a2a2a" stroke-width="0.25">Transmission [%]</text>
</svg>
</body></html>
